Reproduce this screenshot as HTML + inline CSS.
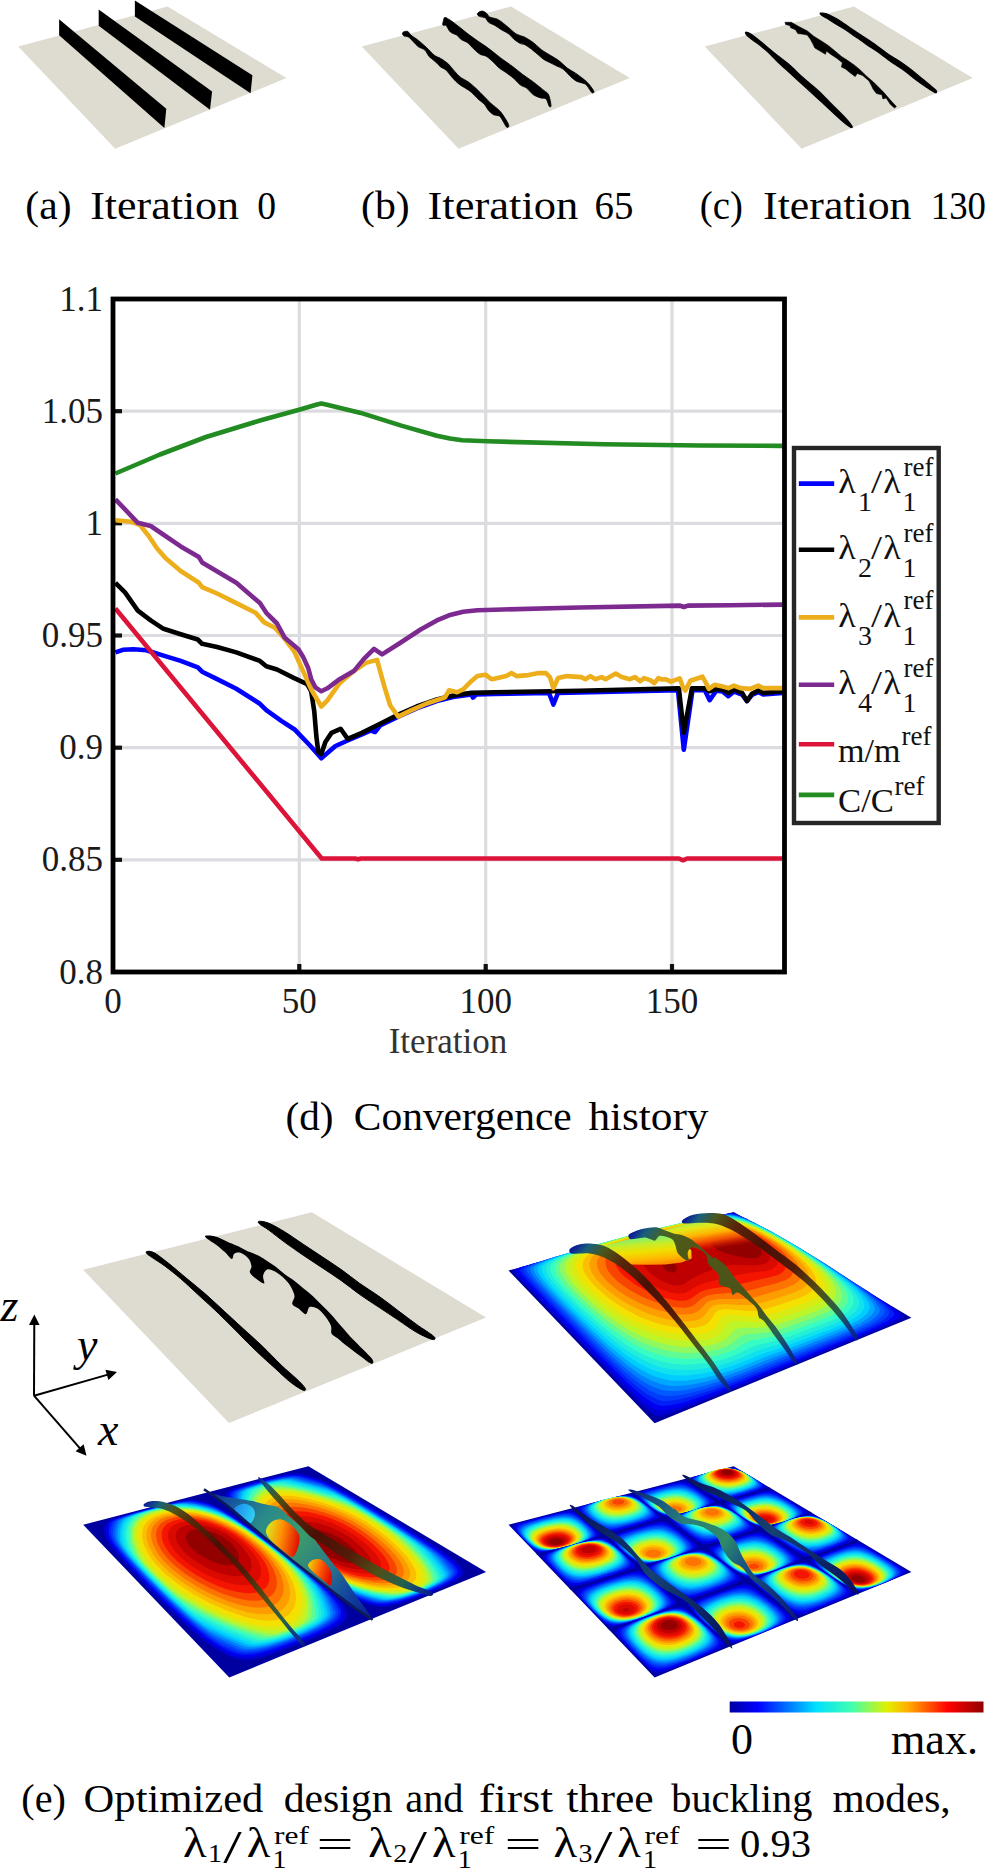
<!DOCTYPE html>
<html><head><meta charset="utf-8"><title>Figure</title>
<style>
html,body{margin:0;padding:0;background:#fff;}
svg{display:block}
.cm{font-family:"Liberation Serif","DejaVu Serif",serif;fill:#000}
.tm{font-family:"Liberation Serif","DejaVu Serif",serif}
.it{font-family:"Liberation Serif","DejaVu Serif",serif;font-style:italic}
</style></head><body>
<svg width="987" height="1868" viewBox="0 0 987 1868">
<defs>
<clipPath id="axclip"><rect x="113" y="299" width="671.5" height="673"/></clipPath>
<linearGradient id="jetg" x1="0" x2="1" y1="0" y2="0"><stop offset="0.000" stop-color="#0000a0"/><stop offset="0.110" stop-color="#0000ff"/><stop offset="0.340" stop-color="#00e0ff"/><stop offset="0.480" stop-color="#40ffb0"/><stop offset="0.620" stop-color="#e0f000"/><stop offset="0.700" stop-color="#ffb000"/><stop offset="0.860" stop-color="#ff0000"/><stop offset="1.000" stop-color="#900000"/></linearGradient><linearGradient id="r13" gradientUnits="userSpaceOnUse" x1="683.3" y1="1221.7" x2="856.5" y2="1338.3"><stop offset="0.00" stop-color="#0c1c96"/><stop offset="0.05" stop-color="#18607a"/><stop offset="0.12" stop-color="#4c561a"/><stop offset="0.22" stop-color="#58260a"/><stop offset="0.38" stop-color="#4a1005"/><stop offset="0.56" stop-color="#521a08"/><stop offset="0.72" stop-color="#504e16"/><stop offset="0.86" stop-color="#24604e"/><stop offset="0.95" stop-color="#0e3488"/><stop offset="1.00" stop-color="#0a1a8a"/></linearGradient>
<linearGradient id="r12" gradientUnits="userSpaceOnUse" x1="629.4" y1="1236.7" x2="795.9" y2="1362.9"><stop offset="0.00" stop-color="#0c1c96"/><stop offset="0.05" stop-color="#18607a"/><stop offset="0.12" stop-color="#466226"/><stop offset="0.22" stop-color="#4e5818"/><stop offset="0.70" stop-color="#4a5218"/><stop offset="0.84" stop-color="#266452"/><stop offset="0.94" stop-color="#0e3488"/><stop offset="1.00" stop-color="#0a1a8a"/></linearGradient>
<linearGradient id="r11" gradientUnits="userSpaceOnUse" x1="570.5" y1="1251.2" x2="729.8" y2="1389.9"><stop offset="0.00" stop-color="#0c1c96"/><stop offset="0.05" stop-color="#18607a"/><stop offset="0.12" stop-color="#4c561a"/><stop offset="0.22" stop-color="#58260a"/><stop offset="0.38" stop-color="#4a1005"/><stop offset="0.56" stop-color="#521a08"/><stop offset="0.72" stop-color="#504e16"/><stop offset="0.86" stop-color="#24604e"/><stop offset="0.95" stop-color="#0e3488"/><stop offset="1.00" stop-color="#0a1a8a"/></linearGradient>
<linearGradient id="r22f" gradientUnits="userSpaceOnUse" x1="204.0" y1="1489.2" x2="372.6" y2="1619.6"><stop offset="0.00" stop-color="#0a1a8a"/><stop offset="0.12" stop-color="#1450a0"/><stop offset="0.30" stop-color="#2a8a8a"/><stop offset="0.50" stop-color="#3a9a6a"/><stop offset="0.68" stop-color="#2a7a8a"/><stop offset="0.85" stop-color="#1040a0"/><stop offset="1.00" stop-color="#0a1a8a"/></linearGradient>
<linearGradient id="h21" gradientUnits="userSpaceOnUse" x1="234.2" y1="1509.0" x2="254.8" y2="1515.6"><stop offset="0.00" stop-color="#1a8af0"/><stop offset="1.00" stop-color="#30d0f0"/></linearGradient>
<linearGradient id="h22" gradientUnits="userSpaceOnUse" x1="265.9" y1="1531.4" x2="299.6" y2="1538.0"><stop offset="0.00" stop-color="#d8e820"/><stop offset="0.45" stop-color="#ff9000"/><stop offset="1.00" stop-color="#e01000"/></linearGradient>
<linearGradient id="h23" gradientUnits="userSpaceOnUse" x1="308.0" y1="1565.6" x2="331.2" y2="1572.2"><stop offset="0.00" stop-color="#f0d000"/><stop offset="0.50" stop-color="#ff6000"/><stop offset="1.00" stop-color="#e01000"/></linearGradient>
<linearGradient id="r23" gradientUnits="userSpaceOnUse" x1="259.3" y1="1478.7" x2="431.2" y2="1594.0"><stop offset="0.00" stop-color="#0c1c96"/><stop offset="0.05" stop-color="#18607a"/><stop offset="0.12" stop-color="#4c561a"/><stop offset="0.22" stop-color="#58260a"/><stop offset="0.38" stop-color="#4a1005"/><stop offset="0.56" stop-color="#521a08"/><stop offset="0.72" stop-color="#504e16"/><stop offset="0.86" stop-color="#24604e"/><stop offset="0.95" stop-color="#0e3488"/><stop offset="1.00" stop-color="#0a1a8a"/></linearGradient>
<linearGradient id="r21" gradientUnits="userSpaceOnUse" x1="144.3" y1="1505.1" x2="303.7" y2="1644.7"><stop offset="0.00" stop-color="#0c1c96"/><stop offset="0.05" stop-color="#18607a"/><stop offset="0.12" stop-color="#4c561a"/><stop offset="0.22" stop-color="#58260a"/><stop offset="0.38" stop-color="#4a1005"/><stop offset="0.56" stop-color="#521a08"/><stop offset="0.72" stop-color="#504e16"/><stop offset="0.86" stop-color="#24604e"/><stop offset="0.95" stop-color="#0e3488"/><stop offset="1.00" stop-color="#0a1a8a"/></linearGradient>
<linearGradient id="r33" gradientUnits="userSpaceOnUse" x1="684.2" y1="1476.1" x2="857.6" y2="1593.3"><stop offset="0.00" stop-color="#08125e"/><stop offset="0.30" stop-color="#0e2c68"/><stop offset="0.50" stop-color="#144272"/><stop offset="0.70" stop-color="#0e2c68"/><stop offset="1.00" stop-color="#08125e"/></linearGradient>
<linearGradient id="r32" gradientUnits="userSpaceOnUse" x1="630.4" y1="1490.6" x2="797.0" y2="1619.6"><stop offset="0.00" stop-color="#0a1a7a"/><stop offset="0.15" stop-color="#1a5a80"/><stop offset="0.30" stop-color="#2a8078"/><stop offset="0.50" stop-color="#2e8a6a"/><stop offset="0.62" stop-color="#1a5a80"/><stop offset="0.80" stop-color="#123a7a"/><stop offset="1.00" stop-color="#0a1a7a"/></linearGradient>
<linearGradient id="r31" gradientUnits="userSpaceOnUse" x1="571.7" y1="1506.4" x2="730.5" y2="1646.0"><stop offset="0.00" stop-color="#08125e"/><stop offset="0.30" stop-color="#0e2c68"/><stop offset="0.50" stop-color="#144272"/><stop offset="0.70" stop-color="#0e2c68"/><stop offset="1.00" stop-color="#08125e"/></linearGradient><linearGradient id="fb3" gradientUnits="userSpaceOnUse" x1="701.8" y1="1220.3" x2="706.9" y2="1251.1"><stop offset="0" stop-color="#a0f050"/><stop offset="0.2" stop-color="#e4e818"/><stop offset="0.45" stop-color="#ffb400"/><stop offset="0.7" stop-color="#ff5a00" stop-opacity="0.85"/><stop offset="1" stop-color="#e81000" stop-opacity="0"/></linearGradient>
<linearGradient id="fb2" gradientUnits="userSpaceOnUse" x1="641.1" y1="1230.4" x2="644.1" y2="1264.8"><stop offset="0" stop-color="#30e8c8"/><stop offset="0.22" stop-color="#80f070"/><stop offset="0.42" stop-color="#c8ec28"/><stop offset="0.62" stop-color="#f0e000"/><stop offset="0.85" stop-color="#ffb800"/><stop offset="1" stop-color="#ff9000"/></linearGradient>
</defs>
<rect width="987" height="1868" fill="#fff"/>
<polygon points="18.3,46.5 167.6,6.5 286.4,78.0 115.2,148.7" fill="#dedbd1" />
<polygon points="361.7,46.5 511.0,6.5 629.8,78.0 458.6,148.7" fill="#dedbd1" />
<polygon points="704.7,46.5 854.0,6.5 972.8,78.0 801.6,148.7" fill="#dedbd1" />
<polygon points="59.1,19.3 166.3,108.8 164.4,128.0 59.1,35.3" fill="#000" />
<polygon points="98.7,9.5 212.1,91.5 210.0,109.8 98.7,25.8" fill="#000" />
<polygon points="134.9,0.5 252.4,75.3 250.6,93.2 134.9,16.4" fill="#000" />
<path d="M403.5,31.9C404.4,31.5 406.5,31.0 407.8,31.5C409.0,32.0 409.2,33.6 411.0,35.1C412.7,36.6 415.7,38.3 418.4,40.4C421.1,42.6 424.3,45.4 426.9,47.9C429.6,50.4 432.1,53.5 434.4,55.3C436.7,57.1 438.4,57.1 440.7,58.5C443.0,59.9 445.9,61.7 448.2,63.8C450.5,66.0 452.4,69.0 454.6,71.3C456.7,73.6 458.7,75.9 461.0,77.7C463.3,79.4 465.9,80.1 468.4,81.9C470.9,83.7 473.2,85.8 475.9,88.3C478.5,90.8 481.9,94.3 484.4,96.8C486.8,99.3 488.6,101.2 490.7,103.2C492.9,105.1 495.4,106.9 497.1,108.5C498.9,110.1 500.0,111.0 501.4,112.8C502.8,114.5 504.4,117.0 505.6,119.1C506.9,121.3 508.7,124.2 508.8,125.5C509.0,126.9 507.8,128.1 506.7,127.2C505.6,126.3 503.7,122.1 502.4,120.2C501.2,118.3 500.7,116.8 499.3,116.0C497.8,115.1 495.7,115.8 493.9,114.9C492.2,114.0 490.2,112.4 488.6,110.6C487.0,108.9 486.1,106.2 484.4,104.3C482.6,102.3 480.1,100.9 478.0,98.9C475.9,97.0 473.4,94.1 471.6,92.6C469.8,91.0 469.5,90.8 467.3,89.4C465.2,87.9 461.3,86.0 458.8,84.0C456.3,82.1 454.6,80.0 452.4,77.7C450.3,75.4 448.0,72.0 446.1,70.2C444.1,68.4 442.5,68.4 440.7,67.0C439.0,65.6 437.4,63.5 435.4,61.7C433.5,59.9 430.8,58.3 429.0,56.4C427.3,54.4 426.6,51.6 424.8,50.0C423.0,48.4 420.4,48.2 418.4,46.8C416.5,45.4 414.7,43.1 413.1,41.5C411.5,39.9 410.2,38.1 408.8,37.2C407.4,36.3 405.6,36.7 404.6,36.2C403.5,35.6 402.6,34.8 402.4,34.0C402.3,33.3 402.6,32.3 403.5,31.9Z" fill="#000" stroke="#000" stroke-width="0.8"/>
<path d="M445.0,17.4C446.1,17.4 448.0,18.7 450.3,20.2C452.6,21.7 455.6,24.1 458.8,26.6C462.0,29.1 465.9,32.4 469.5,35.1C473.0,37.8 476.6,40.1 480.1,42.6C483.7,45.0 487.2,47.3 490.7,50.0C494.3,52.7 497.8,55.9 501.4,58.5C504.9,61.2 508.5,63.3 512.0,66.0C515.6,68.6 519.1,71.8 522.7,74.5C526.2,77.1 529.8,79.3 533.3,81.9C536.8,84.6 541.4,88.3 543.9,90.4C546.5,92.6 547.4,92.2 548.6,94.7C549.8,97.2 550.9,103.4 551.0,105.3C551.1,107.3 550.1,107.4 549.3,106.4C548.4,105.3 547.5,100.4 546.1,98.9C544.6,97.5 542.9,98.6 540.7,97.9C538.6,97.2 535.6,96.3 533.3,94.7C531.0,93.1 529.0,89.9 526.9,88.3C524.8,86.7 522.7,86.7 520.5,85.1C518.4,83.5 516.6,80.9 514.1,78.7C511.7,76.6 508.1,74.1 505.6,72.3C503.2,70.6 501.4,69.9 499.3,68.1C497.1,66.3 495.0,63.7 492.9,61.7C490.7,59.8 488.6,57.6 486.5,56.4C484.4,55.1 482.2,55.5 480.1,54.3C478.0,53.0 475.9,50.9 473.7,48.9C471.6,47.0 469.5,44.1 467.3,42.6C465.2,41.0 462.7,40.6 461.0,39.4C459.2,38.1 458.5,36.3 456.7,35.1C454.9,33.9 452.1,33.5 450.3,31.9C448.5,30.3 447.3,26.7 446.1,25.5C444.8,24.4 443.3,26.0 442.9,25.1C442.4,24.2 443.2,21.5 443.5,20.2C443.9,18.9 443.9,17.4 445.0,17.4Z" fill="#000" stroke="#000" stroke-width="0.8"/>
<path d="M478.0,12.8C478.8,12.1 480.8,11.0 482.2,11.1C483.7,11.1 485.2,12.2 486.5,13.2C487.7,14.2 487.9,16.0 489.7,17.0C491.5,18.0 494.8,18.1 497.1,19.1C499.4,20.2 501.4,21.8 503.5,23.4C505.6,25.0 507.8,27.0 509.9,28.7C512.0,30.5 513.8,32.6 516.3,34.0C518.8,35.5 522.0,35.8 524.8,37.2C527.6,38.7 530.5,40.4 533.3,42.6C536.1,44.7 539.0,47.9 541.8,50.0C544.6,52.1 547.5,53.5 550.3,55.3C553.2,57.1 556.0,58.5 558.8,60.6C561.7,62.8 564.5,66.0 567.3,68.1C570.2,70.2 573.0,71.5 575.9,73.4C578.7,75.4 582.1,77.8 584.4,79.8C586.7,81.7 588.1,83.2 589.7,85.1C591.3,87.1 593.6,90.2 593.9,91.5C594.3,92.7 593.0,93.6 591.8,92.6C590.6,91.5 588.1,86.7 586.5,85.1C584.9,83.5 584.0,83.7 582.2,83.0C580.5,82.3 578.0,82.1 575.9,80.9C573.7,79.6 571.6,77.5 569.5,75.5C567.3,73.6 565.2,70.7 563.1,69.1C561.0,67.6 558.8,67.0 556.7,66.0C554.6,64.9 552.4,63.8 550.3,62.8C548.2,61.7 546.1,61.0 543.9,59.6C541.8,58.2 539.7,56.0 537.6,54.3C535.4,52.5 533.3,50.5 531.2,48.9C529.0,47.3 526.6,45.6 524.8,44.7C523.0,43.8 522.3,44.5 520.5,43.6C518.8,42.7 516.1,41.0 514.1,39.4C512.2,37.8 511.0,35.6 508.8,34.0C506.7,32.4 503.7,31.2 501.4,29.8C499.1,28.4 497.1,26.8 495.0,25.5C492.9,24.3 490.2,23.6 488.6,22.3C487.0,21.1 486.8,19.0 485.4,18.1C484.0,17.1 481.4,17.1 480.1,16.6C478.8,16.1 477.9,15.5 477.6,14.9C477.2,14.3 477.2,13.4 478.0,12.8Z" fill="#000" stroke="#000" stroke-width="0.8"/>
<path d="M745.6,32.3C746.0,31.9 747.4,32.1 749.9,33.6C752.4,35.1 756.6,38.4 760.5,41.5C764.4,44.6 768.7,48.4 773.3,52.1C777.9,55.9 783.2,59.6 788.2,63.8C793.2,68.1 798.1,73.2 803.1,77.7C808.0,82.1 813.4,86.2 818.0,90.4C822.6,94.7 826.5,98.9 830.7,103.2C835.0,107.4 840.0,112.2 843.5,116.0C847.0,119.7 850.4,123.7 851.6,125.5C852.8,127.4 852.2,128.1 850.5,127.2C848.8,126.3 845.0,123.3 841.4,120.2C837.7,117.1 832.9,112.4 828.6,108.5C824.4,104.6 820.1,100.7 815.9,96.8C811.6,92.9 807.3,89.0 803.1,85.1C798.8,81.2 794.6,77.3 790.3,73.4C786.1,69.5 781.5,65.4 777.6,61.7C773.7,58.0 770.5,54.3 766.9,51.1C763.4,47.9 759.5,45.0 756.3,42.6C753.1,40.1 749.5,37.9 747.8,36.2C746.0,34.5 745.3,32.8 745.6,32.3Z" fill="#000" stroke="#000" stroke-width="1.2"/>
<path d="M820.5,13.2C821.4,13.0 823.7,12.8 826.5,13.8C829.3,14.8 833.2,16.8 837.1,19.1C841.0,21.5 845.6,24.8 849.9,27.7C854.1,30.5 858.4,33.3 862.7,36.2C866.9,39.0 871.2,41.7 875.4,44.7C879.7,47.7 883.6,51.1 888.2,54.3C892.8,57.4 898.5,60.6 903.1,63.8C907.7,67.0 911.6,70.0 915.9,73.4C920.1,76.8 925.2,81.2 928.6,84.0C932.0,86.9 935.0,89.0 936.1,90.4C937.1,91.8 936.6,93.1 935.0,92.6C933.4,92.0 929.7,89.4 926.5,87.2C923.3,85.1 919.4,82.4 915.9,79.8C912.3,77.1 909.1,74.1 905.2,71.3C901.3,68.4 896.7,65.8 892.4,62.8C888.2,59.8 883.9,56.2 879.7,53.2C875.4,50.2 870.8,47.3 866.9,44.7C863.0,42.0 859.8,39.7 856.3,37.2C852.7,34.8 849.2,32.1 845.6,29.8C842.1,27.5 838.2,25.4 835.0,23.4C831.8,21.5 828.8,19.5 826.5,18.1C824.2,16.7 822.2,15.7 821.2,14.9C820.2,14.1 819.6,13.4 820.5,13.2Z" fill="#000" stroke="#000" stroke-width="1.2"/>
<polygon points="785.0,22.3 791.4,22.3 798.8,26.6 807.3,30.9 813.7,36.2 822.2,41.5 828.6,45.7 835.0,51.1 841.4,56.4 847.8,60.6 854.1,64.9 860.5,70.2 866.9,76.6 873.3,81.9 879.7,88.3 883.9,92.6 890.3,100.0 896.3,106.4 894.6,108.1 890.3,104.3 886.1,97.9 882.9,98.9 881.8,94.7 876.5,93.6 873.3,89.4 871.2,85.1 869.0,80.9 862.7,75.5 857.3,73.4 855.2,76.6 851.0,73.4 845.6,69.1 841.4,67.0 842.4,62.8 837.1,58.5 830.7,54.3 826.5,51.1 825.4,54.3 820.1,51.1 814.8,47.9 812.7,43.6 810.5,39.4 807.3,35.1 802.0,34.0 797.8,33.6 795.6,29.8 790.7,27.7 789.9,25.5 785.6,24.5" fill="#000" stroke="#000" stroke-width="0.6" stroke-linejoin="round"/>
<g class="cm" font-size="40"><text x="25.3" y="219.3" textLength="46.2" lengthAdjust="spacingAndGlyphs">(a)</text><text x="90.2" y="219.3" textLength="148.9" lengthAdjust="spacingAndGlyphs">Iteration</text><text x="257.3" y="219.3" textLength="18.8" lengthAdjust="spacingAndGlyphs">0</text></g>
<g class="cm" font-size="40"><text x="361.1" y="219.3" textLength="48.6" lengthAdjust="spacingAndGlyphs">(b)</text><text x="427.5" y="219.3" textLength="150.8" lengthAdjust="spacingAndGlyphs">Iteration</text><text x="594.5" y="219.3" textLength="38.9" lengthAdjust="spacingAndGlyphs">65</text></g>
<g class="cm" font-size="40"><text x="699.8" y="219.3" textLength="43.0" lengthAdjust="spacingAndGlyphs">(c)</text><text x="763.1" y="219.3" textLength="148.4" lengthAdjust="spacingAndGlyphs">Iteration</text><text x="930.8" y="219.3" textLength="55.2" lengthAdjust="spacingAndGlyphs">130</text></g>
<rect x="113.0" y="299.0" width="671.5" height="673.0" fill="#fff"/>
<line x1="113.0" x2="784.5" y1="859.8" y2="859.8" stroke="#dcdce0" stroke-width="3.2"/>
<line x1="113.0" x2="784.5" y1="747.7" y2="747.7" stroke="#dcdce0" stroke-width="3.2"/>
<line x1="113.0" x2="784.5" y1="635.5" y2="635.5" stroke="#dcdce0" stroke-width="3.2"/>
<line x1="113.0" x2="784.5" y1="523.3" y2="523.3" stroke="#dcdce0" stroke-width="3.2"/>
<line x1="113.0" x2="784.5" y1="411.2" y2="411.2" stroke="#dcdce0" stroke-width="3.2"/>
<line x1="299.3" x2="299.3" y1="299.0" y2="972.0" stroke="#dcdce0" stroke-width="3.2"/>
<line x1="485.7" x2="485.7" y1="299.0" y2="972.0" stroke="#dcdce0" stroke-width="3.2"/>
<line x1="672.0" x2="672.0" y1="299.0" y2="972.0" stroke="#dcdce0" stroke-width="3.2"/>
<line x1="113.0" x2="122.0" y1="859.8" y2="859.8" stroke="#111" stroke-width="4.2"/>
<line x1="113.0" x2="122.0" y1="747.7" y2="747.7" stroke="#111" stroke-width="4.2"/>
<line x1="113.0" x2="122.0" y1="635.5" y2="635.5" stroke="#111" stroke-width="4.2"/>
<line x1="113.0" x2="122.0" y1="523.3" y2="523.3" stroke="#111" stroke-width="4.2"/>
<line x1="113.0" x2="122.0" y1="411.2" y2="411.2" stroke="#111" stroke-width="4.2"/>
<line x1="299.3" x2="299.3" y1="972.0" y2="964.0" stroke="#111" stroke-width="4.2"/>
<line x1="485.7" x2="485.7" y1="972.0" y2="964.0" stroke="#111" stroke-width="4.2"/>
<line x1="672.0" x2="672.0" y1="972.0" y2="964.0" stroke="#111" stroke-width="4.2"/>
<g clip-path="url(#axclip)">
<polyline points="115.4,652.4 122.8,649.8 133.6,649.2 146.4,650.2 163.5,655.6 180.7,660.9 197.8,667.4 202.1,671.7 217.1,679.1 236.3,688.8 259.9,703.8 266.3,710.2 281.3,720.9 295.0,729.8 310.0,745.5 321.3,758.2 335.5,746.0 347.7,740.5 361.9,734.4 371.0,730.5 375.0,732.0 380.1,725.5 398.3,716.6 416.6,708.3 436.8,701.0 453.1,697.0 471.3,694.5 473.0,697.5 476.0,694.5 495.0,694.0 549.0,693.0 553.4,704.5 558.0,693.0 580.0,692.5 678.0,690.2 683.8,749.7 692.5,690.2 704.8,690.2 709.7,700.2 716.2,690.7 722.7,691.5 728.3,696.2 734.0,691.5 742.1,694.5 747.0,701.0 751.9,695.0 758.3,692.2 763.2,694.5 782.6,693.0" fill="none" stroke="#0000fe" stroke-width="4.6" stroke-linejoin="round" stroke-linecap="butt"/>
<polyline points="115.4,582.8 125.0,592.4 137.8,610.6 150.7,620.3 163.5,628.8 180.7,634.2 197.8,639.5 202.1,643.8 217.1,647.0 236.3,652.4 259.9,660.9 266.3,666.3 277.0,669.5 294.2,678.1 307.2,684.2 311.2,691.3 314.3,711.6 316.3,735.9 318.3,752.1 321.3,754.1 325.4,742.0 331.5,732.9 340.6,728.8 347.7,738.9 361.9,732.9 380.1,723.7 398.3,714.6 416.6,706.5 436.8,699.4 453.1,695.4 471.3,692.9 495.0,692.3 580.0,690.8 678.9,688.4 683.8,732.7 691.9,688.4 704.8,688.4 709.7,691.3 716.2,688.9 722.7,689.7 728.3,692.9 734.0,689.7 742.1,692.9 747.0,701.0 751.9,693.7 758.3,690.5 763.2,692.9 782.6,691.3" fill="none" stroke="#000" stroke-width="4.6" stroke-linejoin="round" stroke-linecap="butt"/>
<polyline points="115.4,520.3 131.4,521.8 140.0,525.0 148.5,535.7 157.1,548.5 165.7,558.2 180.7,571.0 198.9,582.8 202.1,587.1 217.1,593.5 236.3,603.1 255.6,612.8 264.2,622.4 274.9,627.8 284.5,638.5 294.2,651.3 303.1,671.1 311.2,689.3 321.3,706.5 327.4,700.4 339.6,683.2 353.8,671.1 365.9,662.9 377.1,659.9 380.1,671.1 385.2,689.3 390.2,705.5 398.3,716.6 410.5,710.6 426.7,703.5 445.0,697.4 449.0,690.3 457.1,692.3 463.2,689.3 471.3,681.2 477.4,676.1 485.5,674.7 490.5,678.5 492.2,679.2 506.3,676.1 511.4,673.1 516.5,676.1 528.6,675.1 538.8,673.1 545.9,673.1 549.9,677.1 553.4,688.3 558.0,678.1 567.1,676.1 581.3,677.1 585.4,679.2 590.4,676.1 595.5,679.2 601.6,677.1 605.6,679.2 615.8,673.5 621.8,677.1 629.9,679.2 635.0,677.1 640.1,681.2 644.1,678.1 650.2,680.2 654.3,683.2 658.3,678.1 662.0,679.5 665.9,679.2 670.8,681.6 679.7,678.3 683.0,687.3 685.4,690.5 690.3,680.8 702.4,676.7 704.8,680.8 708.9,688.9 714.6,684.8 722.7,686.5 728.3,688.1 734.0,685.6 740.5,688.1 750.2,688.9 758.3,685.6 763.2,688.1 782.6,688.1" fill="none" stroke="#edae1c" stroke-width="4.6" stroke-linejoin="round" stroke-linecap="butt"/>
<polyline points="115.4,499.3 137.8,522.8 150.7,526.0 180.7,546.4 198.9,557.1 202.1,562.4 236.3,582.8 259.9,603.1 266.3,612.8 277.0,623.5 284.5,637.4 298.4,649.2 303.1,656.9 308.2,668.0 311.2,679.2 315.3,687.3 321.3,691.3 327.4,688.3 339.6,679.2 353.8,671.1 363.9,658.9 374.0,648.8 382.1,654.4 400.4,642.7 420.6,629.5 436.8,620.4 449.0,615.3 463.2,611.7 477.4,610.3 495.0,609.7 580.0,607.5 680.0,605.6 683.8,607.0 688.0,605.6 730.0,605.2 782.6,604.6" fill="none" stroke="#7d2a90" stroke-width="4.6" stroke-linejoin="round" stroke-linecap="butt"/>
<polyline points="115.4,608.5 321.7,858.5 355.0,858.5 358.0,859.3 361.0,858.5 679.0,858.5 683.0,860.3 687.0,858.5 782.6,858.5" fill="none" stroke="#dc1439" stroke-width="4.6" stroke-linejoin="round" stroke-linecap="butt"/>
<polyline points="115.4,473.5 160.0,454.5 206.0,437.0 260.0,420.5 300.0,409.5 317.0,404.5 321.3,403.6 326.0,404.5 360.8,412.9 401.3,425.6 436.8,435.7 450.0,438.5 462.1,440.3 487.4,441.3 604.0,444.3 700.0,445.5 782.6,445.9" fill="none" stroke="#228b22" stroke-width="4.6" stroke-linejoin="round" stroke-linecap="butt"/>
</g>
<rect x="113.0" y="299.0" width="671.5" height="673.0" fill="none" stroke="#000" stroke-width="4.8"/>
<g class="tm" font-size="35" fill="#1a1a1a">
<text x="103" y="983.5" text-anchor="end">0.8</text>
<text x="103" y="871.3" text-anchor="end">0.85</text>
<text x="103" y="759.2" text-anchor="end">0.9</text>
<text x="103" y="647.0" text-anchor="end">0.95</text>
<text x="103" y="534.8" text-anchor="end">1</text>
<text x="103" y="422.7" text-anchor="end">1.05</text>
<text x="103" y="310.5" text-anchor="end">1.1</text>
<text x="113.0" y="1013" text-anchor="middle">0</text>
<text x="299.3" y="1013" text-anchor="middle">50</text>
<text x="485.7" y="1013" text-anchor="middle">100</text>
<text x="672.0" y="1013" text-anchor="middle">150</text>
<text x="448" y="1052.5" text-anchor="middle" fill="#333">Iteration</text>
</g>
<rect x="794" y="448" width="144.7" height="375" fill="#fff" stroke="#262626" stroke-width="4.4"/>
<line x1="798.8" x2="834.2" y1="483.6" y2="483.6" stroke="#0000fe" stroke-width="4.6"/>
<line x1="798.8" x2="834.2" y1="549.7" y2="549.7" stroke="#000" stroke-width="4.6"/>
<line x1="798.8" x2="834.2" y1="617.4" y2="617.4" stroke="#edae1c" stroke-width="4.6"/>
<line x1="798.8" x2="834.2" y1="684.7" y2="684.7" stroke="#7d2a90" stroke-width="4.6"/>
<line x1="798.8" x2="834.2" y1="744.3" y2="744.3" stroke="#dc1439" stroke-width="4.6"/>
<line x1="798.8" x2="834.2" y1="794.9" y2="794.9" stroke="#228b22" stroke-width="4.6"/>
<g class="tm" font-size="33" fill="#111">
<text x="838.3" y="493.1" textLength="17.5" lengthAdjust="spacingAndGlyphs">λ</text>
<text x="858" y="511.1" font-size="26.5" textLength="14" lengthAdjust="spacingAndGlyphs">1</text>
<text x="871" y="493.1" textLength="11" lengthAdjust="spacingAndGlyphs">/</text>
<text x="883.3" y="493.1" textLength="17.5" lengthAdjust="spacingAndGlyphs">λ</text>
<text x="902.5" y="511.1" font-size="26.5" textLength="14" lengthAdjust="spacingAndGlyphs">1</text>
<text x="903.5" y="475.6" font-size="26.5" textLength="30" lengthAdjust="spacingAndGlyphs">ref</text>
<text x="838.3" y="559.2" textLength="17.5" lengthAdjust="spacingAndGlyphs">λ</text>
<text x="858" y="577.2" font-size="26.5" textLength="14" lengthAdjust="spacingAndGlyphs">2</text>
<text x="871" y="559.2" textLength="11" lengthAdjust="spacingAndGlyphs">/</text>
<text x="883.3" y="559.2" textLength="17.5" lengthAdjust="spacingAndGlyphs">λ</text>
<text x="902.5" y="577.2" font-size="26.5" textLength="14" lengthAdjust="spacingAndGlyphs">1</text>
<text x="903.5" y="541.7" font-size="26.5" textLength="30" lengthAdjust="spacingAndGlyphs">ref</text>
<text x="838.3" y="626.9" textLength="17.5" lengthAdjust="spacingAndGlyphs">λ</text>
<text x="858" y="644.9" font-size="26.5" textLength="14" lengthAdjust="spacingAndGlyphs">3</text>
<text x="871" y="626.9" textLength="11" lengthAdjust="spacingAndGlyphs">/</text>
<text x="883.3" y="626.9" textLength="17.5" lengthAdjust="spacingAndGlyphs">λ</text>
<text x="902.5" y="644.9" font-size="26.5" textLength="14" lengthAdjust="spacingAndGlyphs">1</text>
<text x="903.5" y="609.4" font-size="26.5" textLength="30" lengthAdjust="spacingAndGlyphs">ref</text>
<text x="838.3" y="694.2" textLength="17.5" lengthAdjust="spacingAndGlyphs">λ</text>
<text x="858" y="712.2" font-size="26.5" textLength="14" lengthAdjust="spacingAndGlyphs">4</text>
<text x="871" y="694.2" textLength="11" lengthAdjust="spacingAndGlyphs">/</text>
<text x="883.3" y="694.2" textLength="17.5" lengthAdjust="spacingAndGlyphs">λ</text>
<text x="902.5" y="712.2" font-size="26.5" textLength="14" lengthAdjust="spacingAndGlyphs">1</text>
<text x="903.5" y="676.7" font-size="26.5" textLength="30" lengthAdjust="spacingAndGlyphs">ref</text>
<text x="838" y="761.8" textLength="62.5" lengthAdjust="spacingAndGlyphs">m/m</text>
<text x="901.5" y="744.8" font-size="26.5" textLength="30" lengthAdjust="spacingAndGlyphs">ref</text>
<text x="838" y="812.4" textLength="56" lengthAdjust="spacingAndGlyphs">C/C</text>
<text x="894.5" y="795.4" font-size="26.5" textLength="30" lengthAdjust="spacingAndGlyphs">ref</text>
</g>
<g class="cm" font-size="40"><text x="285.5" y="1129.5" textLength="48.1" lengthAdjust="spacingAndGlyphs">(d)</text><text x="353.8" y="1129.5" textLength="217.9" lengthAdjust="spacingAndGlyphs">Convergence</text><text x="588.4" y="1129.5" textLength="120.1" lengthAdjust="spacingAndGlyphs">history</text></g>
<polygon points="83.1,1269.7 311.8,1212.2 486.1,1317.6 229.0,1423.1" fill="#dedbd1" />
<path d="M146.9,1251.5C148.1,1251.3 150.6,1250.8 154.1,1252.7C157.7,1254.7 162.8,1258.8 168.3,1263.1C173.8,1267.4 180.8,1273.6 187.1,1278.8C193.4,1284.0 199.7,1289.0 206.0,1294.5C212.2,1300.0 218.5,1306.0 224.8,1311.8C231.1,1317.5 237.4,1323.3 243.6,1329.1C249.9,1334.8 256.2,1340.3 262.5,1346.3C268.8,1352.4 275.6,1359.7 281.3,1365.2C287.1,1370.7 293.1,1375.5 297.0,1379.3C301.0,1383.1 303.8,1386.0 304.9,1387.8C305.9,1389.6 305.7,1391.2 303.3,1390.3C301.0,1389.4 295.5,1386.1 290.8,1382.4C286.0,1378.8 280.8,1373.6 275.1,1368.3C269.3,1363.1 262.5,1357.1 256.2,1351.0C249.9,1345.0 243.6,1338.5 237.4,1332.2C231.1,1325.9 224.8,1319.4 218.5,1313.4C212.2,1307.3 206.0,1301.8 199.7,1296.1C193.4,1290.3 186.6,1283.8 180.8,1278.8C175.1,1273.8 169.8,1269.8 165.1,1266.2C160.4,1262.7 155.6,1259.9 152.6,1257.8C149.5,1255.7 147.9,1254.7 146.9,1253.7C146.0,1252.6 145.7,1251.6 146.9,1251.5Z" fill="#000" stroke="#000" stroke-width="1"/>
<path d="M259.3,1221.3C260.9,1221.2 264.6,1221.5 268.8,1223.2C273.0,1224.9 278.7,1228.2 284.5,1231.7C290.2,1235.2 297.0,1240.1 303.3,1244.3C309.6,1248.4 315.9,1252.6 322.2,1256.8C328.4,1261.0 334.7,1264.9 341.0,1269.4C347.3,1273.8 353.6,1279.1 359.8,1283.5C366.1,1288.0 372.4,1291.6 378.7,1296.1C385.0,1300.5 391.3,1305.5 397.5,1310.2C403.8,1314.9 410.4,1320.0 416.4,1324.3C422.4,1328.7 431.0,1333.8 433.7,1336.3C436.3,1338.8 435.0,1340.1 432.1,1339.4C429.2,1338.7 422.1,1335.5 416.4,1332.2C410.6,1328.9 403.8,1323.8 397.5,1319.6C391.3,1315.4 385.0,1311.3 378.7,1307.1C372.4,1302.9 366.1,1299.0 359.8,1294.5C353.6,1290.1 347.3,1284.8 341.0,1280.4C334.7,1275.9 328.4,1272.0 322.2,1267.8C315.9,1263.6 309.6,1259.5 303.3,1255.3C297.0,1251.0 290.2,1246.2 284.5,1242.1C278.7,1237.9 273.0,1233.2 268.8,1230.1C264.6,1227.1 260.9,1225.3 259.3,1223.8C257.8,1222.4 257.8,1221.4 259.3,1221.3Z" fill="#000" stroke="#000" stroke-width="1"/>
<path d="M205.3,1235.8C206.6,1235.4 211.1,1235.2 215.4,1236.4C219.7,1237.7 226.9,1241.5 231.1,1243.3C235.3,1245.1 237.4,1245.9 240.5,1247.4C243.6,1248.9 247.0,1250.8 249.9,1252.1C252.8,1253.4 255.2,1253.9 257.8,1255.3C260.4,1256.6 262.7,1258.1 265.6,1260.0C268.5,1261.8 271.9,1263.9 275.1,1266.2C278.2,1268.6 281.3,1271.7 284.5,1274.1C287.6,1276.5 290.8,1278.0 293.9,1280.4C297.0,1282.7 300.2,1285.6 303.3,1288.2C306.5,1290.8 309.6,1293.2 312.7,1296.1C315.9,1299.0 319.0,1302.4 322.2,1305.5C325.3,1308.6 328.4,1311.5 331.6,1314.9C334.7,1318.3 337.3,1321.7 341.0,1325.9C344.7,1330.1 349.4,1335.6 353.6,1340.1C357.8,1344.5 362.9,1349.2 366.1,1352.6C369.4,1356.0 372.3,1358.6 373.0,1360.5C373.8,1362.3 373.0,1364.4 370.8,1363.6C368.6,1362.8 363.8,1358.6 359.8,1355.8C355.9,1352.9 351.0,1349.2 347.3,1346.3C343.6,1343.5 340.5,1340.6 337.9,1338.5C335.2,1336.4 332.7,1335.9 331.6,1333.8C330.4,1331.7 332.0,1328.8 331.0,1325.9C329.9,1323.0 327.6,1319.4 325.3,1316.5C323.1,1313.6 320.1,1310.2 317.4,1308.6C314.8,1307.1 311.5,1306.1 309.6,1307.1C307.7,1308.0 307.7,1314.0 305.8,1314.3C304.0,1314.6 300.9,1310.4 298.6,1308.6C296.4,1306.9 293.0,1306.0 292.3,1303.9C291.6,1301.8 294.8,1299.0 294.5,1296.1C294.3,1293.2 292.4,1289.5 290.8,1286.7C289.1,1283.8 287.1,1281.3 284.5,1278.8C281.9,1276.3 277.9,1273.2 275.1,1271.6C272.2,1270.0 269.2,1268.7 267.2,1269.4C265.2,1270.1 263.6,1273.3 263.1,1275.7C262.6,1278.0 265.2,1283.0 264.1,1283.5C262.9,1284.0 258.6,1280.6 256.2,1278.8C253.9,1277.0 250.7,1274.6 249.9,1272.5C249.1,1270.4 251.8,1268.6 251.5,1266.2C251.2,1263.9 250.2,1260.6 248.4,1258.4C246.5,1256.1 242.9,1253.5 240.5,1252.7C238.1,1252.0 235.7,1252.6 234.2,1253.7C232.8,1254.7 233.3,1259.3 231.7,1259.0C230.1,1258.8 227.5,1254.6 224.8,1252.1C222.1,1249.7 218.3,1246.5 215.4,1244.3C212.5,1242.1 209.2,1240.3 207.5,1238.9C205.9,1237.5 204.0,1236.2 205.3,1235.8Z" fill="#000"/>
<line x1="34.0" y1="1395.7" x2="34.3" y2="1323.9" stroke="#000" stroke-width="2.0"/><polygon points="34.3,1314.4 39.6,1324.9 29.0,1324.9" fill="#000"/>
<line x1="34.0" y1="1395.7" x2="107.9" y2="1374.6" stroke="#000" stroke-width="2.0"/><polygon points="117.0,1372.0 108.4,1380.0 105.4,1369.8" fill="#000"/>
<line x1="34.0" y1="1395.7" x2="80.2" y2="1448.6" stroke="#000" stroke-width="2.0"/><polygon points="86.5,1455.7 75.6,1451.3 83.6,1444.3" fill="#000"/>
<g class="it" font-size="46" fill="#000">
<text x="0.5" y="1320.5">z</text>
<text x="77" y="1359.5">y</text>
<text x="98" y="1445.3">x</text>
</g>
<polygon points="508.5,1270.5 733.7,1212.0 911.4,1317.8 654.6,1423.2" fill="#0000a0"/>
<path d="M513.0,1270.0 519.2,1267.8 535.2,1263.3 642.2,1235.3 719.9,1215.5 729.9,1213.2 733.7,1212.9 743.5,1217.7 770.0,1233.0 870.2,1293.0 898.5,1311.1 903.7,1315.2 903.8,1317.6 901.5,1319.1 894.2,1322.7 873.2,1331.8 729.3,1390.6 680.7,1409.7 668.5,1414.0 662.4,1415.8 659.7,1416.2 654.5,1415.3 651.0,1413.1 642.8,1406.0 633.1,1396.5 598.5,1361.1 525.2,1284.9 514.5,1273.2 512.8,1270.3Z" fill="#0000d0" fill-rule="evenodd"/>
<path d="M523.0,1266.6 582.2,1250.5 685.1,1223.9 725.4,1214.1 730.2,1213.2 734.4,1213.5 738.7,1215.1 748.3,1220.0 785.4,1241.3 842.5,1275.6 881.9,1300.4 891.8,1307.4 896.3,1311.4 898.8,1314.3 898.9,1316.2 898.5,1316.8 894.7,1319.8 885.2,1324.8 863.9,1334.0 713.8,1394.8 693.5,1402.5 678.9,1407.2 670.3,1409.5 664.6,1410.7 660.8,1411.0 656.6,1410.3 652.5,1408.2 646.0,1403.7 634.5,1393.7 601.8,1360.9 532.2,1289.0 521.1,1277.2 516.7,1271.6 516.3,1270.2 517.2,1269.1 520.0,1267.6Z" fill="#0000f0" fill-rule="evenodd"/>
<path d="M533.0,1263.5 600.3,1245.2 675.0,1226.0 720.9,1214.9 726.3,1214.0 732.7,1213.7 737.3,1214.9 745.8,1218.3 772.7,1233.2 825.7,1264.7 868.3,1291.6 885.2,1303.9 889.7,1307.8 893.4,1312.1 894.2,1313.6 894.3,1314.7 893.6,1315.9 892.0,1317.6 888.0,1320.5 876.0,1326.8 854.4,1336.2 727.1,1387.3 700.9,1396.8 683.3,1402.4 672.0,1405.0 666.0,1405.8 662.2,1406.0 658.4,1405.3 655.1,1404.0 646.9,1399.1 638.1,1392.3 627.8,1383.0 594.9,1350.4 526.5,1279.8 521.9,1274.3 520.1,1271.5 519.7,1270.2 521.2,1268.2 526.9,1265.6Z" fill="#001ef5" fill-rule="evenodd"/>
<path d="M552.2,1257.7 629.3,1237.1 696.0,1220.5 719.1,1215.3 727.5,1214.1 733.0,1214.2 736.9,1215.1 742.3,1217.1 754.3,1222.7 770.0,1231.0 790.4,1242.8 822.6,1262.1 838.7,1272.4 862.2,1288.1 877.1,1299.0 883.1,1304.1 887.1,1308.3 888.6,1310.6 889.6,1313.1 887.3,1316.8 885.5,1318.3 881.3,1321.2 874.2,1325.1 861.2,1331.1 841.6,1339.1 743.4,1378.4 714.5,1389.2 695.0,1395.5 680.8,1399.2 667.5,1401.0 663.5,1401.0 660.1,1400.4 656.6,1399.2 651.5,1396.7 644.6,1392.4 633.1,1383.4 623.0,1374.4 600.7,1352.8 562.9,1314.5 534.9,1285.6 525.1,1274.4 523.5,1271.5 523.1,1269.1 525.3,1267.3 528.7,1265.5 533.9,1263.5Z" fill="#003cfa" fill-rule="evenodd"/>
<path d="M589.1,1247.3 659.8,1228.9 692.8,1220.9 712.0,1216.7 723.0,1214.8 730.3,1214.4 733.8,1214.8 740.9,1216.9 753.3,1222.3 773.2,1232.7 798.0,1247.1 824.1,1263.2 846.9,1278.1 863.2,1289.5 876.7,1300.5 882.4,1306.7 883.9,1309.0 884.8,1311.9 883.2,1315.1 878.9,1319.1 874.5,1321.9 864.7,1326.9 837.2,1338.6 741.8,1376.3 723.9,1382.9 704.9,1389.2 688.5,1393.5 680.5,1395.1 675.0,1395.8 669.2,1396.1 664.7,1395.9 658.0,1394.3 649.1,1390.2 639.2,1383.6 628.1,1374.8 613.6,1361.7 586.3,1335.0 543.7,1291.6 532.8,1279.8 529.4,1275.6 526.9,1271.5 526.5,1270.1 526.6,1268.6 527.0,1268.0 529.4,1266.2 537.7,1262.5 555.9,1256.6Z" fill="#005aff" fill-rule="evenodd"/>
<path d="M553.6,1257.4 580.7,1249.4 615.9,1239.9 652.2,1230.5 684.0,1222.8 704.8,1218.2 718.2,1215.7 727.2,1214.8 730.9,1214.8 734.4,1215.4 743.8,1218.3 755.0,1223.2 770.3,1231.1 788.7,1241.6 812.1,1255.7 834.3,1270.0 850.3,1281.0 863.9,1291.3 870.4,1296.8 875.7,1302.3 879.1,1307.4 879.9,1310.1 878.9,1313.4 876.1,1316.6 872.1,1319.7 867.6,1322.4 857.7,1327.5 841.2,1334.4 770.4,1361.9 743.6,1372.7 725.7,1379.2 706.6,1385.2 690.1,1389.2 681.3,1390.6 676.4,1391.0 671.2,1391.1 664.0,1390.5 659.2,1389.2 654.2,1387.3 650.2,1385.4 643.1,1381.4 634.0,1375.0 621.8,1365.2 604.6,1349.4 580.4,1325.8 551.4,1296.4 536.1,1279.9 532.7,1275.5 530.5,1271.4 530.1,1268.5 531.1,1267.1 533.4,1265.4 538.8,1262.7Z" fill="#0080ff" fill-rule="evenodd"/>
<path d="M572.3,1251.7 604.9,1242.6 639.0,1233.6 671.5,1225.6 700.3,1219.1 713.7,1216.5 722.3,1215.4 729.0,1215.2 737.6,1216.7 748.8,1220.7 763.2,1227.5 781.6,1237.5 800.4,1248.6 822.0,1262.3 842.1,1275.9 855.5,1285.9 866.1,1295.1 871.6,1301.3 874.3,1305.9 874.9,1308.6 874.2,1311.7 871.2,1315.6 867.3,1318.7 861.1,1322.6 852.9,1326.6 833.6,1334.6 794.5,1349.8 768.3,1359.4 741.7,1370.2 719.9,1377.7 708.2,1381.0 696.8,1383.7 682.9,1385.7 672.3,1386.0 666.7,1385.5 660.7,1384.1 651.7,1380.7 640.9,1374.9 628.8,1366.5 613.8,1353.9 594.1,1335.7 564.4,1306.5 544.5,1285.8 536.3,1275.6 534.5,1272.6 533.7,1268.4 534.8,1266.5 537.5,1264.4 542.8,1261.7 548.5,1259.4Z" fill="#00a7ff" fill-rule="evenodd"/>
<path d="M611.2,1240.7 645.1,1231.8 677.4,1224.0 701.1,1218.9 717.6,1216.1 727.3,1215.6 735.6,1216.6 745.2,1219.6 757.9,1225.1 774.3,1233.6 793.0,1244.3 812.2,1256.2 831.9,1269.4 845.1,1279.0 856.2,1288.0 864.3,1296.2 868.3,1301.9 869.6,1305.3 869.8,1307.0 868.9,1310.5 866.2,1314.4 860.3,1319.1 853.2,1323.0 845.4,1326.6 813.9,1339.1 789.2,1348.5 766.0,1356.6 742.9,1366.1 732.4,1370.0 717.5,1374.6 701.3,1378.5 685.0,1380.7 675.9,1380.8 668.6,1380.2 657.9,1377.5 653.4,1375.9 645.6,1372.3 633.0,1364.7 621.6,1356.1 609.4,1345.9 592.2,1330.2 569.7,1308.4 550.8,1288.8 541.2,1277.5 539.1,1274.0 537.7,1270.9 537.7,1267.4 539.4,1265.2 544.2,1262.1 549.7,1259.6 558.2,1256.3 573.1,1251.6Z" fill="#00cdff" fill-rule="evenodd"/>
<path d="M573.8,1251.4 600.4,1243.6 631.9,1235.1 664.9,1226.9 691.3,1220.9 706.6,1217.9 719.1,1216.3 729.6,1216.2 736.1,1217.3 745.9,1220.3 758.7,1225.8 773.2,1233.2 791.9,1243.9 811.3,1256.0 828.3,1267.6 843.7,1279.2 853.7,1287.9 859.1,1293.8 862.2,1298.0 864.2,1302.8 864.4,1306.8 863.7,1309.1 862.4,1311.1 859.1,1314.7 855.1,1317.7 848.0,1321.7 831.9,1328.7 796.4,1342.3 783.6,1346.9 763.3,1353.5 737.0,1364.3 718.6,1370.2 702.4,1373.7 687.6,1375.4 673.8,1375.2 668.1,1374.5 661.7,1373.0 651.1,1369.4 640.1,1363.9 627.8,1356.0 614.7,1346.0 597.0,1330.8 575.3,1310.2 555.8,1290.4 550.3,1284.2 545.7,1278.3 542.9,1273.9 541.5,1269.5 541.9,1266.4 543.7,1264.4 547.8,1261.5 555.2,1258.0Z" fill="#0fe1ef" fill-rule="evenodd"/>
<path d="M601.1,1243.4 632.7,1234.8 662.9,1227.2 689.5,1221.3 708.5,1217.8 721.1,1216.5 730.6,1216.8 739.2,1218.6 748.6,1221.8 761.6,1227.5 778.2,1236.3 797.0,1247.4 814.0,1258.4 828.3,1268.4 841.5,1278.9 851.2,1288.1 856.0,1294.2 858.5,1299.1 859.2,1304.1 858.2,1307.5 855.5,1311.4 849.8,1316.1 845.0,1318.8 834.7,1323.6 820.7,1329.2 784.2,1342.7 760.1,1349.8 753.6,1352.3 740.9,1358.1 730.6,1362.1 720.9,1365.0 711.5,1367.2 702.5,1368.8 694.3,1369.8 679.7,1370.1 668.0,1368.7 662.2,1367.4 653.2,1364.5 641.6,1359.3 628.9,1351.7 618.0,1343.9 603.6,1332.3 583.2,1313.8 564.2,1295.1 551.8,1281.2 548.6,1276.6 546.6,1272.9 545.7,1269.0 546.3,1265.6 547.9,1263.7 550.2,1261.8 555.1,1258.9 563.3,1255.4 571.9,1252.3Z" fill="#23eed9" fill-rule="evenodd"/>
<path d="M584.5,1248.5 610.7,1240.7 641.9,1232.4 671.9,1225.2 695.8,1220.1 709.8,1217.9 722.4,1216.9 730.9,1217.4 739.5,1219.3 749.2,1222.5 762.2,1228.3 774.8,1234.8 791.5,1244.5 806.2,1253.8 821.0,1264.1 832.4,1272.9 843.2,1282.6 848.8,1289.0 851.8,1293.8 853.2,1297.6 853.7,1300.7 853.4,1303.4 851.3,1307.7 848.0,1311.2 841.7,1315.7 834.3,1319.4 817.7,1326.0 784.4,1338.2 774.3,1341.2 759.7,1344.5 752.9,1346.6 734.3,1355.6 727.4,1358.2 719.9,1360.3 706.5,1363.1 690.1,1364.6 685.0,1364.7 674.7,1364.0 668.9,1363.1 660.1,1361.0 647.9,1356.7 638.9,1352.3 627.3,1345.5 612.3,1334.7 595.8,1321.0 578.4,1305.1 563.8,1290.2 554.1,1278.4 551.2,1273.3 550.1,1268.6 550.7,1265.3 552.6,1262.8 556.9,1259.5 564.7,1255.6Z" fill="#37fcc3" fill-rule="evenodd"/>
<path d="M623.1,1237.3 656.6,1228.7 686.2,1222.1 708.3,1218.3 721.2,1217.4 731.1,1218.1 737.1,1219.2 744.8,1221.5 758.5,1227.0 777.5,1236.8 792.1,1245.4 806.8,1255.0 817.2,1262.4 829.3,1272.0 836.9,1279.0 842.0,1284.7 846.1,1291.0 847.7,1295.8 848.0,1298.8 847.6,1301.2 846.2,1304.5 842.8,1308.5 838.0,1312.1 830.8,1315.9 822.8,1319.3 790.5,1331.2 774.2,1336.3 751.5,1340.4 745.2,1342.9 733.8,1349.7 723.8,1353.8 712.3,1356.7 699.6,1358.5 685.4,1358.9 674.9,1358.1 668.2,1357.1 658.1,1354.5 649.4,1351.5 635.1,1344.7 626.0,1339.2 612.7,1330.0 598.9,1319.0 584.9,1306.6 571.2,1293.2 562.7,1283.7 557.3,1275.9 555.8,1272.8 554.9,1269.7 554.8,1267.0 555.4,1264.7 557.2,1262.1 562.1,1258.3 567.8,1255.2 577.1,1251.4 588.5,1247.5Z" fill="#5ffc95" fill-rule="evenodd"/>
<path d="M601.2,1243.8 627.1,1236.4 657.8,1228.6 684.7,1222.6 704.0,1219.2 716.4,1218.0 727.6,1218.3 737.2,1219.9 747.5,1223.1 758.8,1227.8 771.7,1234.2 786.4,1242.6 800.9,1251.9 815.2,1262.2 825.0,1270.3 832.3,1277.4 836.0,1281.6 838.5,1285.2 841.2,1290.5 842.0,1294.3 842.1,1296.7 841.6,1299.2 839.3,1303.4 835.9,1306.8 829.3,1310.9 821.7,1314.5 810.6,1318.8 783.8,1328.3 773.9,1331.2 763.1,1333.0 749.7,1333.9 745.9,1334.5 742.6,1335.5 739.8,1337.1 732.3,1343.0 726.5,1346.4 719.8,1349.0 708.1,1351.7 695.0,1353.0 680.2,1352.8 666.1,1350.6 652.0,1346.6 640.5,1341.8 630.1,1336.2 617.4,1328.1 604.6,1318.6 592.0,1308.1 577.6,1294.6 568.7,1284.9 562.0,1275.5 560.0,1270.7 559.7,1266.5 560.5,1263.7 563.9,1259.6 570.7,1255.2 578.6,1251.6Z" fill="#8ff95f" fill-rule="evenodd"/>
<path d="M599.7,1244.8 622.7,1237.9 650.8,1230.5 678.0,1224.2 699.8,1220.1 711.9,1218.8 723.3,1218.6 734.1,1220.0 745.1,1223.0 756.8,1227.5 767.8,1232.8 780.5,1239.8 795.0,1248.9 807.1,1257.5 818.0,1266.3 826.5,1274.4 831.2,1280.2 834.0,1284.8 835.8,1290.4 835.9,1294.4 834.2,1298.9 831.1,1302.6 825.0,1306.9 817.5,1310.4 806.6,1314.6 779.8,1323.9 769.6,1326.6 758.1,1327.8 743.4,1327.5 739.3,1327.9 736.1,1328.9 733.6,1330.6 727.4,1337.4 722.0,1341.2 715.4,1343.9 707.7,1345.7 694.8,1347.0 680.0,1346.7 668.8,1345.1 654.9,1341.5 643.0,1337.0 630.4,1330.7 618.2,1323.1 606.3,1314.6 593.6,1304.2 581.1,1292.5 572.4,1282.8 567.3,1275.4 565.2,1270.1 564.9,1266.1 565.6,1263.3 568.4,1259.4 573.0,1255.9 580.4,1252.0 588.5,1248.7Z" fill="#bef528" fill-rule="evenodd"/>
<path d="M601.4,1244.9 624.1,1237.9 652.3,1230.4 679.6,1224.2 698.8,1220.7 711.4,1219.4 722.9,1219.3 733.8,1220.7 745.7,1223.9 756.9,1228.4 767.9,1233.7 780.6,1240.8 792.9,1248.7 802.9,1255.9 814.3,1265.3 822.0,1273.1 825.9,1278.4 828.8,1284.3 829.7,1289.2 829.5,1291.8 828.7,1294.1 826.1,1298.0 822.4,1301.1 818.0,1303.7 810.4,1307.1 799.3,1311.2 775.4,1319.3 765.0,1321.7 756.6,1322.3 736.6,1320.9 732.5,1321.2 729.3,1322.2 727.1,1324.0 722.0,1331.5 719.8,1333.7 717.2,1335.6 710.7,1338.4 702.9,1340.1 689.6,1341.0 679.5,1340.5 668.0,1338.8 653.8,1335.0 642.2,1330.5 630.2,1324.6 618.1,1317.3 608.3,1310.4 597.6,1301.9 586.6,1291.9 579.1,1283.8 573.3,1275.8 571.1,1270.9 570.3,1266.0 571.2,1262.4 573.8,1258.7 577.9,1255.3 582.6,1252.5 590.4,1249.0Z" fill="#daeb14" fill-rule="evenodd"/>
<path d="M606.1,1244.2 625.9,1237.9 651.3,1231.1 678.7,1224.8 698.0,1221.3 710.6,1220.0 722.1,1220.1 733.3,1221.5 744.2,1224.4 754.5,1228.2 763.5,1232.4 774.2,1238.1 786.6,1245.8 796.6,1252.8 806.0,1260.4 813.0,1267.1 819.0,1274.5 822.1,1280.3 823.0,1283.6 823.1,1286.5 822.7,1289.0 820.6,1293.1 817.2,1296.4 813.0,1299.1 805.6,1302.5 797.4,1305.5 770.6,1314.3 759.9,1316.4 751.0,1316.6 734.9,1314.9 730.1,1314.7 726.1,1315.1 723.1,1316.1 720.9,1317.9 716.4,1325.4 714.5,1327.8 712.0,1329.8 709.1,1331.4 701.9,1333.5 693.3,1334.5 678.8,1334.1 667.6,1332.4 654.7,1329.0 645.3,1325.6 635.0,1321.0 623.2,1314.4 613.0,1307.8 602.0,1299.4 592.6,1291.2 584.9,1283.0 579.0,1275.0 576.9,1270.3 576.2,1266.1 576.5,1263.3 577.2,1261.4 579.2,1258.4 582.6,1255.2 587.6,1252.0 595.2,1248.4Z" fill="#f5e100" fill-rule="evenodd"/>
<path d="M616.6,1241.7 636.5,1235.7 661.7,1229.3 683.6,1224.4 700.4,1221.6 713.1,1220.7 725.3,1221.2 735.9,1223.0 749.2,1227.1 760.9,1232.2 771.8,1237.9 782.1,1244.3 792.0,1251.2 799.4,1257.3 806.3,1263.8 812.2,1271.1 815.3,1277.1 816.2,1281.6 815.6,1285.8 814.6,1287.9 811.6,1291.3 807.6,1294.1 802.9,1296.5 795.0,1299.5 780.8,1304.3 765.5,1309.0 758.5,1310.4 754.5,1310.9 745.1,1310.7 728.9,1309.2 724.3,1309.2 720.6,1309.7 717.7,1310.8 715.5,1312.4 711.0,1319.5 709.1,1321.9 706.8,1323.9 703.9,1325.5 696.6,1327.5 691.9,1327.9 683.9,1327.9 672.4,1326.7 660.3,1324.2 646.1,1319.5 637.6,1315.9 626.2,1309.8 615.9,1303.3 606.9,1296.8 597.4,1288.6 591.1,1282.1 586.2,1275.6 583.6,1270.7 582.6,1266.7 582.7,1263.3 583.6,1260.3 586.7,1256.2 590.6,1253.1 597.7,1249.0 605.6,1245.6Z" fill="#f9bf00" fill-rule="evenodd"/>
<path d="M655.8,1231.6 683.3,1225.3 700.2,1222.5 709.6,1221.7 716.6,1221.6 723.7,1222.1 730.0,1222.9 743.5,1226.3 753.3,1229.9 760.3,1233.1 769.0,1237.7 777.3,1242.8 785.2,1248.2 792.6,1254.2 801.0,1262.3 804.3,1266.4 807.4,1271.6 808.8,1275.8 808.9,1280.1 807.7,1283.3 805.6,1286.0 801.9,1288.9 794.8,1292.3 783.9,1296.1 763.2,1302.5 752.8,1304.7 748.7,1305.0 739.7,1304.9 723.5,1304.0 715.7,1304.9 712.9,1306.0 710.7,1307.5 703.9,1316.1 701.5,1318.0 698.6,1319.5 695.0,1320.5 691.1,1321.1 683.1,1321.3 676.6,1320.7 665.9,1318.9 656.9,1316.6 649.0,1314.0 638.6,1309.6 629.6,1305.0 621.6,1300.3 612.4,1293.9 604.5,1287.5 599.5,1282.6 595.2,1277.8 592.3,1273.5 590.4,1269.6 589.5,1266.2 589.5,1262.7 590.8,1258.9 592.5,1256.5 596.3,1253.0 600.8,1250.0 611.5,1245.0 630.4,1238.6Z" fill="#fd9d00" fill-rule="evenodd"/>
<path d="M633.4,1239.3 653.1,1233.6 678.1,1227.6 694.7,1224.3 706.6,1222.9 717.0,1222.7 729.5,1224.0 742.0,1227.0 752.3,1230.8 761.5,1235.2 770.1,1240.0 778.1,1245.3 785.6,1251.1 792.4,1257.4 796.7,1262.6 799.7,1267.5 801.3,1272.4 801.2,1276.4 800.4,1278.5 797.6,1282.0 793.6,1284.7 783.6,1288.7 763.4,1294.8 754.0,1297.4 746.8,1298.7 738.0,1299.1 719.4,1299.0 711.2,1300.4 708.4,1301.4 706.2,1302.9 698.9,1310.6 696.3,1312.2 693.2,1313.5 689.5,1314.2 680.5,1314.4 669.7,1313.0 657.0,1309.8 642.7,1304.5 633.5,1300.1 625.5,1295.5 618.5,1290.8 612.3,1286.1 605.5,1279.7 601.4,1274.8 598.4,1269.9 597.1,1265.5 597.2,1261.1 598.9,1257.2 600.7,1254.9 604.6,1251.5 609.3,1248.7 614.4,1246.2 622.3,1243.0Z" fill="#fd7400" fill-rule="evenodd"/>
<path d="M639.7,1239.4 659.5,1233.8 684.4,1227.8 698.4,1225.1 707.4,1224.0 717.9,1223.9 730.7,1225.5 740.2,1227.8 750.8,1231.7 757.9,1235.0 766.6,1239.8 774.5,1245.2 781.7,1251.1 786.5,1255.9 790.6,1261.1 792.5,1264.9 793.3,1267.2 793.6,1270.0 792.7,1273.7 791.1,1276.2 789.4,1277.7 785.2,1280.2 777.4,1283.0 753.8,1289.3 740.3,1292.4 717.8,1293.8 709.9,1294.9 706.8,1295.8 702.0,1298.3 694.0,1305.0 691.2,1306.4 687.8,1307.3 683.8,1307.7 676.2,1307.3 666.2,1305.4 657.9,1303.0 646.6,1298.7 638.1,1294.8 630.1,1290.3 623.2,1285.8 617.2,1281.1 612.3,1276.3 608.5,1271.4 606.6,1268.1 605.5,1263.9 605.6,1260.6 606.9,1257.0 609.5,1253.7 613.6,1250.4 618.3,1247.7 623.3,1245.3Z" fill="#f94400" fill-rule="evenodd"/>
<path d="M635.9,1243.8 649.8,1239.3 663.8,1235.3 691.5,1228.4 702.8,1226.1 712.2,1225.2 719.4,1225.3 728.3,1226.4 737.8,1228.5 746.3,1231.4 753.7,1234.6 760.4,1238.2 766.6,1242.1 772.3,1246.4 777.4,1251.0 781.2,1255.2 784.1,1259.7 785.4,1263.2 785.7,1266.0 785.3,1268.4 784.3,1270.3 782.9,1272.0 781.0,1273.4 776.5,1275.5 771.0,1277.1 761.9,1278.9 733.3,1285.6 712.5,1288.4 705.3,1290.1 699.9,1292.2 691.6,1298.0 689.0,1299.4 685.9,1300.4 682.1,1300.8 677.6,1300.7 666.6,1298.5 658.8,1296.0 652.1,1293.3 643.1,1289.1 635.4,1284.7 625.0,1277.1 620.2,1272.3 617.4,1268.3 616.1,1265.7 615.3,1262.1 615.8,1258.3 617.6,1255.0 621.1,1251.4 625.7,1248.4Z" fill="#f51400" fill-rule="evenodd"/>
<path d="M647.2,1244.4 666.7,1238.4 699.5,1229.3 708.0,1227.5 714.3,1226.9 721.7,1227.0 730.9,1228.2 736.9,1229.7 748.9,1234.1 756.0,1237.7 762.3,1241.7 767.9,1246.1 772.2,1250.2 775.3,1254.3 777.2,1258.0 777.9,1262.0 777.4,1264.3 776.3,1266.1 772.6,1268.8 770.2,1269.8 764.5,1271.2 751.2,1272.6 738.0,1274.7 703.3,1283.5 697.5,1285.7 689.0,1291.0 683.7,1293.2 677.5,1293.6 670.2,1292.3 663.6,1290.2 657.0,1287.4 651.2,1284.4 643.7,1279.9 637.4,1275.3 633.9,1272.2 631.0,1269.0 628.8,1265.7 628.0,1263.9 627.3,1260.2 627.8,1257.3 629.6,1254.1 632.5,1251.3 636.6,1248.7Z" fill="#da0a00" fill-rule="evenodd"/>
<path d="M701.2,1233.6 711.3,1229.9 717.3,1228.9 720.7,1228.8 730.3,1229.6 740.6,1232.4 751.1,1237.1 755.6,1239.8 761.5,1244.2 764.8,1247.4 767.6,1250.8 769.7,1254.8 770.1,1257.8 769.5,1260.0 768.2,1261.8 766.2,1263.1 763.8,1264.0 761.0,1264.7 754.3,1265.2 734.5,1264.7 727.3,1265.3 717.8,1267.6 702.3,1273.6 693.8,1277.6 683.2,1284.4 680.5,1285.3 677.0,1285.6 672.5,1285.1 666.3,1283.1 662.5,1281.3 657.0,1278.1 650.5,1273.2 647.0,1269.8 644.4,1266.4 642.5,1262.6 642.1,1259.2 642.9,1256.6 644.4,1254.6 646.8,1252.7 650.7,1250.7 666.8,1245.2 689.0,1238.5Z" fill="#be0000" fill-rule="evenodd"/>
<path d="M714.2,1235.0 718.5,1232.6 721.2,1231.9 728.2,1231.5 736.7,1233.1 745.6,1236.6 750.4,1239.3 754.6,1242.2 759.4,1247.2 761.0,1249.8 761.8,1253.1 761.1,1255.3 759.4,1256.8 757.0,1257.8 754.0,1258.3 749.0,1258.3 743.1,1257.6 734.1,1255.6 726.5,1253.5 717.4,1249.9 713.2,1247.1 711.8,1245.6 710.6,1242.1 710.8,1240.1 711.6,1238.0ZM664.7,1262.4 667.5,1261.9 671.7,1262.5 675.1,1264.5 676.4,1266.4 676.7,1268.4 676.3,1270.5 675.1,1271.9 672.6,1272.8 667.7,1271.4 665.3,1269.6 663.7,1267.8 663.0,1265.8 662.9,1263.9Z" fill="#930000" fill-rule="evenodd"/>
<polygon points="641.9,1235.8 647.4,1234.4 652.8,1233.0 658.2,1231.6 663.5,1230.2 668.8,1228.8 674.1,1227.5 679.3,1226.1 684.4,1224.8 689.5,1223.5 694.6,1222.2 699.6,1220.8 704.6,1219.6 709.6,1218.3 714.5,1217.0 719.3,1215.7 770.7,1243.6 754.5,1245.6 742.4,1247.6 726.2,1249.6 709.9,1251.1 697.8,1249.6 689.7,1245.6 681.6,1240.5 661.3,1238.5" fill="url(#fb3)"/>
<polygon points="587.5,1250.0 593.5,1248.4 599.4,1246.9 605.2,1245.4 611.0,1243.9 616.7,1242.4 622.4,1240.9 628.1,1239.4 645.1,1233.4 657.3,1232.0 669.4,1234.9 679.6,1238.5 686.6,1243.6 691.3,1250.7 691.7,1258.4 681.6,1262.4 665.4,1264.4 647.1,1264.8 630.9,1264.4 620.8,1261.2 610.7,1254.7 603.6,1250.1 592.4,1248.2" fill="url(#fb2)"/>
<polygon points="83.2,1524.7 308.4,1466.2 486.1,1572.0 229.3,1677.4" fill="#0000a0"/>
<path d="M126.8,1514.4 163.5,1504.7 182.0,1500.6 188.8,1499.8 192.7,1499.7 197.5,1500.3 204.6,1501.9 213.0,1504.8 224.6,1510.6 234.4,1517.0 255.7,1532.1 294.3,1561.5 327.0,1588.0 333.2,1593.9 340.8,1602.5 345.4,1609.6 346.5,1612.3 346.8,1616.9 345.6,1619.9 343.6,1622.2 338.3,1626.1 326.0,1632.5 302.1,1642.7 276.3,1652.7 264.4,1656.7 251.3,1659.6 246.3,1659.9 240.5,1659.5 233.4,1657.7 228.4,1655.7 217.7,1650.0 205.8,1641.9 197.9,1635.7 188.6,1627.2 161.5,1601.0 146.5,1586.0 132.9,1571.6 114.7,1551.2 108.3,1542.9 104.5,1534.2 104.2,1528.7 104.9,1525.1 106.0,1523.1 106.7,1522.3 111.7,1519.3ZM242.5,1485.4 255.2,1481.6 273.2,1477.1 289.0,1473.9 295.0,1473.4 300.2,1473.8 310.0,1476.2 320.8,1479.7 332.3,1484.6 367.6,1504.3 400.2,1524.0 439.7,1549.1 446.6,1554.1 455.1,1561.2 460.7,1567.0 462.2,1569.0 463.4,1572.5 462.9,1574.8 461.6,1576.6 457.7,1579.6 448.1,1584.8 431.8,1591.9 411.4,1599.8 398.8,1604.0 387.8,1606.4 383.5,1606.8 378.4,1606.6 371.8,1605.4 366.9,1603.9 356.2,1599.4 343.9,1592.8 335.5,1587.6 299.5,1562.3 260.5,1533.0 241.0,1517.4 233.2,1510.5 227.6,1503.4 225.9,1498.7 225.5,1495.3 226.0,1493.4 226.4,1492.6 230.0,1489.7Z" fill="#0000d0" fill-rule="evenodd"/>
<path d="M115.5,1518.8 130.5,1513.8 155.0,1507.2 173.3,1502.8 186.3,1500.7 194.3,1500.6 199.6,1501.5 208.5,1503.9 216.2,1507.1 227.0,1513.0 237.1,1519.5 270.4,1543.7 293.1,1561.3 310.3,1575.1 321.0,1584.3 331.4,1594.2 335.3,1598.4 340.4,1605.2 342.9,1609.6 343.8,1613.1 342.9,1617.4 341.1,1619.9 338.9,1622.1 333.5,1625.8 317.9,1633.8 300.8,1641.1 282.4,1648.1 262.6,1654.5 253.8,1656.4 243.8,1657.0 235.9,1655.9 231.1,1654.4 227.2,1652.6 216.9,1646.7 210.8,1642.7 195.1,1630.2 185.7,1622.0 170.9,1607.8 148.1,1584.9 131.1,1567.1 118.9,1553.6 113.7,1546.9 109.4,1540.2 107.7,1536.8 106.4,1531.5 107.0,1526.2 108.1,1523.4 110.1,1521.5ZM233.4,1489.7 243.1,1486.1 261.1,1481.1 279.1,1476.7 290.1,1474.8 296.3,1474.5 301.9,1475.3 314.1,1478.6 321.9,1481.3 341.6,1490.8 370.8,1507.8 419.9,1537.8 431.4,1545.4 445.1,1555.2 449.5,1558.6 455.4,1564.1 458.9,1567.9 460.0,1570.2 460.1,1573.5 459.0,1575.5 457.5,1577.2 453.5,1580.2 441.3,1586.6 424.8,1593.7 409.8,1599.2 393.2,1603.9 385.3,1605.1 380.8,1605.2 375.3,1604.7 369.1,1603.3 361.6,1600.5 351.6,1595.9 345.7,1592.6 331.8,1584.2 319.2,1575.7 277.3,1545.2 257.9,1530.3 243.9,1518.9 239.1,1514.7 232.3,1507.7 230.2,1504.8 228.7,1501.7 227.8,1496.9 228.0,1494.1 229.3,1492.1Z" fill="#0000f0" fill-rule="evenodd"/>
<path d="M122.0,1517.0 137.0,1512.3 161.5,1505.8 177.2,1502.5 187.2,1501.1 193.6,1501.3 203.5,1503.3 212.2,1506.1 219.5,1509.4 227.9,1514.3 242.0,1523.4 257.7,1534.7 277.8,1549.8 309.2,1575.0 321.9,1586.2 330.0,1594.3 335.4,1600.9 338.7,1605.9 340.9,1610.9 341.0,1614.0 339.4,1617.7 337.2,1620.4 329.2,1626.0 316.7,1632.4 296.0,1641.2 277.4,1648.1 261.2,1652.8 252.2,1654.5 247.2,1654.8 241.7,1654.7 233.9,1653.0 225.9,1649.5 215.8,1643.6 206.9,1637.6 196.6,1629.2 180.4,1614.9 164.0,1599.2 143.7,1578.7 128.9,1563.0 120.2,1552.8 113.9,1544.5 110.8,1539.5 109.4,1536.0 108.5,1531.5 109.6,1525.1 110.2,1523.4 111.2,1522.2 113.5,1520.6 116.2,1519.2ZM238.9,1488.5 251.3,1484.4 271.9,1479.1 282.4,1476.8 294.0,1475.4 299.9,1475.9 313.8,1479.7 325.4,1483.9 349.1,1496.1 380.9,1514.8 416.7,1537.1 435.0,1549.4 443.9,1555.9 454.0,1565.1 457.0,1568.9 457.7,1571.3 457.1,1574.3 455.7,1576.4 449.8,1581.0 440.0,1586.2 423.5,1593.2 408.6,1598.7 395.2,1602.4 387.7,1603.7 383.4,1604.0 376.2,1603.7 371.3,1602.7 359.9,1598.7 350.1,1594.1 341.2,1589.2 325.4,1579.1 310.7,1569.2 290.6,1554.7 268.1,1537.9 253.4,1526.2 241.9,1516.2 236.0,1510.5 233.2,1507.0 230.6,1502.2 230.0,1498.9 229.9,1494.5 231.4,1492.2 234.2,1490.5Z" fill="#001ef5" fill-rule="evenodd"/>
<path d="M131.4,1514.3 146.6,1509.9 165.1,1505.3 177.7,1502.8 188.2,1501.7 191.2,1501.7 198.2,1502.9 210.4,1506.1 219.4,1510.0 229.1,1515.5 243.0,1524.7 254.9,1533.1 289.3,1559.3 306.1,1573.1 316.7,1582.4 324.8,1590.3 330.4,1596.7 334.3,1602.0 337.2,1608.2 338.4,1611.6 338.1,1614.8 335.6,1618.8 333.3,1621.0 328.0,1624.7 319.0,1629.7 302.3,1637.2 284.1,1644.2 268.4,1649.2 255.5,1652.2 245.5,1652.9 242.6,1652.7 236.8,1651.6 222.1,1645.2 217.6,1642.6 208.5,1636.6 197.9,1628.4 186.1,1618.1 167.0,1600.3 148.1,1581.7 134.6,1567.5 121.3,1552.2 115.1,1543.9 112.3,1538.8 110.7,1533.3 111.2,1527.9 112.9,1522.5 116.1,1520.1 119.6,1518.4ZM246.8,1486.5 259.4,1482.8 272.4,1479.6 285.8,1476.9 292.7,1476.3 297.9,1476.6 316.5,1481.6 325.6,1485.0 333.5,1488.7 361.1,1503.9 397.9,1526.3 429.6,1546.9 438.6,1553.3 444.8,1558.5 449.4,1562.7 453.6,1568.0 455.0,1570.0 455.4,1572.5 454.0,1575.7 452.4,1577.4 448.5,1580.5 441.5,1584.5 428.3,1590.6 410.7,1597.2 397.5,1601.0 386.0,1602.8 378.9,1602.8 373.6,1602.1 359.3,1597.4 348.4,1592.3 339.5,1587.4 326.3,1579.2 293.5,1556.5 261.4,1532.1 247.5,1520.5 239.8,1513.4 236.0,1509.0 233.1,1504.4 232.2,1499.6 232.2,1494.0 234.4,1491.6 237.1,1490.1Z" fill="#003cfa" fill-rule="evenodd"/>
<path d="M144.0,1510.9 165.5,1505.5 182.1,1502.5 188.6,1502.3 192.3,1502.7 206.4,1505.7 212.9,1507.8 216.9,1509.5 223.0,1512.5 230.3,1516.7 250.2,1530.1 274.2,1547.9 301.1,1569.5 311.6,1578.6 319.8,1586.3 325.4,1592.5 329.8,1598.1 335.1,1609.4 335.9,1612.3 335.1,1615.8 334.1,1617.3 331.0,1620.5 326.9,1623.6 321.1,1627.0 304.8,1634.7 287.0,1641.8 267.4,1648.0 256.2,1650.4 246.1,1651.1 239.8,1650.2 218.1,1640.6 210.1,1635.6 201.7,1629.7 191.7,1621.5 180.4,1611.4 147.3,1579.2 125.0,1555.0 118.4,1546.6 115.3,1541.6 112.9,1535.3 113.0,1532.5 113.7,1526.9 115.8,1521.6 119.8,1518.9 123.0,1517.6 131.8,1514.5ZM257.3,1484.0 272.8,1480.1 283.6,1477.9 289.8,1477.2 295.7,1477.4 319.3,1483.6 329.5,1487.7 347.8,1497.2 375.4,1513.4 410.7,1535.5 431.1,1549.1 437.5,1554.1 444.7,1560.3 451.7,1569.1 453.0,1571.1 453.0,1573.7 451.0,1576.8 449.3,1578.5 442.8,1582.8 430.1,1589.1 415.8,1594.8 399.8,1599.6 388.7,1601.7 379.6,1601.9 375.9,1601.5 371.7,1600.4 354.8,1594.5 343.6,1589.0 332.3,1582.5 305.4,1564.6 273.5,1541.2 249.9,1522.0 242.1,1514.8 238.3,1510.5 235.7,1506.6 234.8,1503.1 234.2,1497.4 234.6,1493.6 237.5,1490.9 240.0,1489.7 247.2,1487.1Z" fill="#005aff" fill-rule="evenodd"/>
<path d="M126.4,1516.7 141.3,1511.9 159.7,1507.1 175.5,1503.8 186.0,1502.8 196.8,1504.3 206.7,1506.6 215.6,1509.5 225.1,1514.2 235.6,1520.5 247.6,1528.6 277.6,1550.9 304.6,1573.0 314.8,1582.4 320.5,1588.4 325.2,1594.2 328.2,1599.6 331.4,1606.6 333.3,1613.0 331.9,1616.8 330.7,1618.3 328.4,1620.4 323.1,1624.2 317.1,1627.6 307.4,1632.3 286.2,1640.8 274.6,1644.6 266.5,1646.9 252.9,1649.2 249.8,1649.3 242.8,1648.7 233.1,1644.8 213.9,1636.0 203.1,1628.8 195.2,1622.8 185.7,1614.8 172.8,1602.9 157.1,1587.7 141.1,1571.5 130.1,1559.5 121.8,1549.4 118.5,1544.3 115.3,1537.3 115.5,1529.7 116.9,1524.1 118.8,1520.6 123.5,1517.9ZM242.9,1489.3 255.2,1485.2 270.6,1481.1 284.1,1478.5 290.3,1478.1 293.8,1478.2 322.2,1485.7 333.7,1490.6 355.7,1502.5 390.1,1523.3 419.1,1541.9 428.1,1548.2 434.4,1553.1 439.9,1557.8 447.9,1567.7 450.9,1572.2 450.7,1574.2 449.6,1576.2 448.0,1578.0 444.1,1581.1 439.5,1583.8 431.9,1587.6 417.9,1593.4 402.2,1598.3 391.4,1600.5 384.6,1601.1 377.2,1600.5 362.2,1596.2 350.1,1591.5 341.9,1587.3 330.6,1580.9 303.8,1563.1 270.3,1538.3 257.4,1527.9 247.4,1519.2 243.1,1514.9 238.5,1509.0 236.7,1502.5 236.5,1497.1 237.1,1493.1 240.6,1490.4Z" fill="#0080ff" fill-rule="evenodd"/>
<path d="M129.7,1515.9 144.7,1511.2 160.1,1507.2 174.1,1504.3 183.1,1503.4 194.6,1504.6 207.7,1507.7 218.4,1511.4 230.7,1517.9 241.0,1524.4 255.0,1534.1 285.2,1557.3 307.9,1576.7 315.6,1584.4 320.5,1590.1 324.4,1596.6 327.3,1602.8 329.4,1608.6 330.6,1613.8 329.2,1616.8 327.2,1619.2 319.2,1624.9 313.1,1628.3 303.3,1632.9 285.4,1639.9 267.9,1645.2 261.1,1646.6 253.6,1647.6 245.9,1647.2 241.2,1645.5 224.9,1638.5 209.6,1631.3 191.8,1618.5 169.4,1598.5 154.1,1583.5 140.2,1569.3 129.4,1557.3 123.0,1549.2 119.7,1543.6 117.8,1539.5 117.4,1534.3 118.0,1528.7 119.2,1524.4 121.9,1519.6ZM245.8,1488.9 258.1,1484.9 273.7,1481.0 283.0,1479.2 291.0,1478.9 325.3,1488.0 337.9,1493.5 363.7,1507.9 398.4,1529.3 421.1,1544.3 434.9,1555.2 443.6,1565.6 448.7,1573.3 448.1,1575.6 446.8,1577.5 440.9,1582.1 428.4,1588.6 414.1,1594.2 399.8,1598.3 387.7,1600.2 380.8,1600.1 372.3,1598.1 360.5,1594.5 345.4,1588.4 326.2,1577.7 299.9,1560.0 268.9,1536.9 256.3,1526.6 248.2,1519.3 241.3,1511.4 239.3,1505.7 238.6,1501.0 238.8,1496.7 239.7,1492.5Z" fill="#00a7ff" fill-rule="evenodd"/>
<path d="M136.0,1514.1 151.2,1509.7 168.9,1505.5 180.0,1504.1 185.2,1504.3 199.2,1506.3 211.8,1509.7 221.4,1513.3 236.2,1521.6 258.4,1536.9 284.6,1557.2 301.0,1571.1 308.8,1578.5 315.7,1585.9 320.0,1592.7 323.8,1600.4 326.6,1608.5 327.8,1614.7 325.9,1617.8 323.7,1620.1 318.3,1623.9 312.3,1627.3 299.1,1633.4 280.9,1640.2 264.6,1644.6 255.3,1645.8 249.2,1645.6 244.3,1644.0 225.4,1636.1 205.2,1626.4 195.1,1619.2 185.3,1611.5 164.2,1592.2 149.4,1577.6 137.7,1565.3 128.8,1555.1 123.9,1548.2 120.4,1541.8 120.0,1539.1 119.8,1532.3 121.0,1525.7 122.6,1522.2 125.3,1518.5ZM251.0,1487.7 261.1,1484.6 274.1,1481.4 279.6,1480.4 288.4,1479.8 303.1,1483.3 328.5,1490.3 343.6,1497.2 367.5,1510.9 397.9,1529.8 413.4,1540.0 429.8,1552.5 440.1,1564.6 445.1,1571.8 446.4,1574.5 445.4,1576.9 443.9,1578.7 439.9,1581.7 435.3,1584.5 422.1,1590.6 407.0,1595.8 393.0,1598.9 384.2,1599.4 374.6,1597.5 362.7,1594.1 351.6,1590.1 340.4,1585.2 319.3,1572.9 291.7,1553.8 263.9,1532.6 253.6,1523.7 247.7,1517.9 244.4,1514.0 242.1,1508.8 240.9,1503.1 240.9,1498.3 242.6,1491.9 246.4,1489.6Z" fill="#00cdff" fill-rule="evenodd"/>
<path d="M142.4,1512.4 161.5,1507.3 176.5,1504.8 187.1,1505.2 200.3,1507.3 212.8,1510.8 224.6,1515.5 241.9,1525.7 261.8,1539.8 288.1,1560.5 298.1,1569.2 305.8,1576.6 310.6,1581.6 312.7,1584.5 316.8,1591.0 320.4,1598.2 323.4,1606.7 324.6,1612.1 324.7,1615.6 320.9,1620.3 317.4,1622.9 311.5,1626.4 301.8,1631.1 287.6,1636.7 272.1,1641.5 262.2,1643.6 252.6,1644.0 247.5,1642.5 239.2,1639.3 218.9,1630.4 200.6,1621.4 193.8,1616.5 175.1,1601.2 161.0,1588.0 148.3,1575.3 132.5,1558.1 127.3,1551.0 123.3,1544.3 122.2,1538.0 122.1,1532.2 122.9,1527.0 125.2,1521.8 129.1,1517.4ZM256.4,1486.5 269.2,1483.1 277.4,1481.5 285.5,1480.7 290.9,1481.8 311.1,1486.7 332.0,1492.7 349.8,1501.4 364.8,1510.0 397.4,1530.3 414.8,1542.2 424.4,1549.6 434.8,1561.4 441.1,1570.0 443.2,1573.6 444.0,1575.7 441.5,1579.3 438.9,1581.4 434.4,1584.2 426.8,1588.0 415.5,1592.5 402.8,1596.3 394.5,1598.0 386.2,1598.5 372.8,1596.0 356.3,1590.9 346.4,1586.9 336.7,1582.5 325.5,1576.2 303.3,1561.8 277.8,1543.2 259.4,1528.3 252.9,1522.4 247.6,1516.7 244.5,1510.4 243.3,1505.4 243.1,1499.9 243.8,1495.8 245.7,1491.3 251.6,1488.3Z" fill="#0fe1ef" fill-rule="evenodd"/>
<path d="M134.3,1515.7 148.9,1510.8 164.6,1507.1 172.5,1505.7 184.1,1505.8 198.0,1507.5 210.9,1510.9 225.1,1516.4 234.4,1521.5 253.2,1533.8 275.3,1550.5 293.2,1565.5 301.0,1572.8 306.4,1578.5 312.1,1586.7 315.9,1593.6 319.6,1603.0 321.2,1609.9 321.6,1613.1 321.5,1616.6 316.4,1621.8 313.6,1623.7 301.0,1630.2 283.1,1637.1 267.1,1641.4 256.3,1642.3 250.8,1640.8 243.8,1638.3 227.0,1631.4 210.8,1623.9 195.7,1616.1 185.1,1608.0 173.9,1598.6 154.3,1580.2 139.1,1564.3 132.1,1555.6 127.3,1548.6 126.3,1546.8 124.6,1538.9 124.3,1533.1 124.9,1528.3 126.6,1523.7 128.5,1520.7 132.0,1517.1ZM250.1,1490.1 257.0,1487.2 264.5,1484.9 272.5,1483.1 282.1,1481.8 297.5,1484.7 315.7,1489.4 335.8,1495.4 342.4,1498.5 358.9,1507.2 383.8,1522.4 401.1,1533.7 418.7,1546.5 427.0,1555.4 433.4,1563.1 437.5,1568.9 440.8,1574.9 441.3,1577.1 441.0,1577.5 437.9,1581.0 435.8,1582.5 426.0,1587.7 411.7,1593.2 398.5,1596.7 389.1,1597.7 377.3,1595.9 361.1,1591.5 345.1,1585.5 332.1,1579.4 323.8,1574.6 311.1,1566.7 286.5,1549.4 265.1,1532.8 256.9,1525.4 251.2,1519.7 248.4,1515.1 247.0,1511.9 245.7,1507.6 245.2,1504.3 245.5,1499.6 246.3,1496.2 248.4,1491.7 249.3,1490.5Z" fill="#23eed9" fill-rule="evenodd"/>
<path d="M140.6,1513.8 152.5,1510.2 167.6,1506.9 181.3,1506.4 191.9,1507.3 205.7,1510.1 220.6,1515.2 231.9,1520.4 246.3,1529.4 266.6,1544.1 288.4,1561.9 299.5,1572.2 304.6,1578.5 308.8,1584.7 312.5,1591.5 315.7,1599.2 317.8,1607.6 318.5,1614.1 317.9,1617.7 317.5,1618.2 312.6,1622.5 306.7,1626.1 296.9,1630.7 282.4,1636.1 273.2,1638.8 260.2,1640.5 254.4,1639.1 248.0,1637.0 227.9,1629.1 209.8,1620.8 190.5,1610.5 172.8,1596.0 153.2,1577.8 140.0,1563.7 134.4,1556.7 129.7,1550.1 127.7,1543.7 126.7,1537.8 126.7,1532.0 127.7,1526.7 129.6,1522.6 131.8,1519.7 135.7,1516.3 138.5,1514.6ZM255.3,1488.8 265.1,1485.6 278.0,1483.0 290.6,1484.7 310.8,1489.4 336.7,1497.2 341.6,1499.1 355.1,1506.1 374.6,1517.5 396.1,1531.4 412.6,1543.2 418.6,1549.1 425.5,1556.8 431.5,1564.3 435.4,1570.2 438.3,1576.2 438.5,1578.5 438.2,1578.8 434.7,1582.1 430.3,1584.9 416.9,1590.9 404.4,1594.8 393.0,1596.6 387.5,1596.4 373.5,1593.9 356.9,1589.1 340.3,1582.5 324.0,1574.3 304.8,1562.0 285.0,1548.0 267.7,1534.4 255.1,1522.9 251.8,1518.1 249.4,1513.5 247.9,1508.6 247.4,1503.5 248.2,1498.2 250.2,1493.7 253.1,1489.9Z" fill="#37fcc3" fill-rule="evenodd"/>
<path d="M147.0,1512.1 159.7,1508.8 166.4,1507.8 174.3,1507.2 183.1,1507.2 189.1,1507.7 196.7,1508.8 204.2,1510.4 218.8,1515.1 234.6,1522.6 247.6,1530.7 263.8,1542.4 279.7,1555.1 293.4,1567.1 299.7,1574.5 304.1,1580.5 308.0,1587.0 311.4,1594.2 313.5,1600.9 314.8,1608.4 315.0,1615.1 314.0,1619.0 308.7,1623.2 299.5,1628.3 289.0,1632.6 277.6,1636.2 264.5,1638.5 258.7,1637.4 243.4,1632.6 222.9,1624.3 202.4,1614.4 184.7,1604.4 167.5,1589.7 150.6,1573.6 138.1,1559.5 133.7,1553.7 132.3,1550.4 129.8,1542.5 128.9,1536.6 129.1,1530.9 130.6,1525.2 133.5,1520.6 136.8,1517.4 141.8,1514.3ZM260.7,1487.8 271.4,1485.0 277.3,1484.8 288.3,1485.9 307.0,1489.9 327.0,1495.5 344.7,1501.5 356.6,1507.8 369.6,1515.4 389.0,1527.7 405.9,1539.4 417.0,1550.4 426.7,1561.7 430.9,1567.5 433.4,1572.0 435.5,1577.6 435.3,1580.0 431.5,1583.1 424.4,1587.2 416.0,1590.6 410.0,1592.6 399.6,1595.0 395.6,1595.6 390.4,1595.4 380.4,1594.2 371.8,1592.4 363.7,1590.3 349.0,1585.3 332.5,1578.0 317.6,1569.9 298.7,1557.5 277.7,1542.0 261.7,1528.6 258.7,1525.6 255.4,1521.2 252.6,1516.7 250.7,1511.9 249.7,1506.7 249.7,1502.8 251.0,1497.8 253.4,1493.6 256.6,1490.3Z" fill="#5ffc95" fill-rule="evenodd"/>
<path d="M148.5,1512.8 154.3,1510.9 160.8,1509.5 168.0,1508.4 176.0,1507.9 189.7,1508.5 197.9,1509.7 204.7,1511.2 213.3,1513.8 219.8,1516.2 233.0,1522.4 244.7,1529.2 263.1,1542.3 282.8,1558.3 291.6,1567.0 296.4,1572.5 300.9,1578.7 305.0,1585.4 307.9,1591.6 309.8,1597.2 311.1,1603.0 311.7,1609.2 311.1,1616.3 309.3,1620.6 304.7,1623.8 298.5,1627.2 288.1,1631.5 276.5,1634.9 269.6,1636.2 262.0,1635.3 251.6,1632.4 241.2,1629.0 229.4,1624.4 218.1,1619.5 204.9,1613.1 195.5,1608.0 178.0,1597.3 160.6,1581.8 145.0,1565.9 138.4,1558.0 135.9,1553.1 133.5,1547.2 131.9,1541.3 131.2,1535.5 131.5,1529.8 132.6,1526.0 135.2,1521.5 138.9,1517.9 143.3,1515.0ZM262.4,1489.6 269.9,1487.2 279.1,1486.6 290.3,1487.8 304.1,1490.6 325.5,1496.5 346.7,1503.9 353.7,1507.2 369.0,1516.0 384.0,1525.5 397.9,1534.9 412.0,1547.9 418.8,1555.3 423.4,1561.0 429.6,1570.4 431.5,1574.8 432.3,1578.9 431.5,1581.7 428.1,1584.1 423.3,1586.8 412.0,1591.3 399.7,1594.3 393.3,1594.4 386.9,1593.9 374.2,1591.9 358.2,1587.7 344.1,1582.4 328.2,1575.0 311.3,1565.5 292.9,1552.9 274.7,1539.2 265.0,1531.0 260.3,1525.8 257.0,1521.4 254.4,1516.7 252.6,1511.8 251.9,1507.9 252.2,1502.6 253.0,1499.8 255.2,1495.6 258.4,1492.2Z" fill="#8ff95f" fill-rule="evenodd"/>
<path d="M150.0,1513.4 155.9,1511.5 162.4,1510.1 173.5,1508.8 187.5,1509.0 195.4,1510.0 202.8,1511.4 216.1,1515.5 231.3,1522.2 248.0,1531.9 262.3,1542.1 276.1,1553.2 288.3,1565.0 293.0,1570.5 297.4,1576.4 300.6,1581.3 303.8,1587.7 306.0,1593.4 307.8,1600.6 308.3,1606.8 308.0,1612.4 306.5,1617.8 303.5,1622.4 297.5,1625.9 287.1,1630.3 276.0,1633.4 270.4,1633.4 264.9,1632.8 252.4,1629.8 240.7,1626.0 229.8,1621.9 206.9,1611.4 197.6,1606.5 186.4,1600.0 178.7,1595.0 169.4,1588.3 156.0,1575.8 145.1,1564.4 141.9,1559.6 138.7,1553.8 134.9,1544.1 133.8,1539.0 133.4,1534.4 134.1,1528.6 135.5,1524.8 136.9,1522.5 140.5,1518.7 144.9,1515.7ZM264.1,1491.5 268.9,1489.7 277.6,1488.5 288.2,1489.1 301.3,1491.5 321.0,1496.6 340.2,1503.0 357.4,1510.3 366.2,1515.3 387.2,1528.7 395.6,1535.3 408.7,1547.4 415.5,1554.7 420.2,1560.3 423.5,1564.9 426.5,1570.1 428.5,1575.0 428.9,1577.6 428.6,1580.9 426.9,1583.7 422.2,1586.4 414.0,1589.9 404.3,1592.6 397.3,1593.1 391.5,1593.0 376.8,1591.4 361.9,1587.9 346.0,1582.3 329.9,1575.1 312.9,1565.7 295.8,1554.6 275.4,1539.3 265.8,1530.4 258.9,1521.9 256.4,1517.4 255.0,1513.5 254.1,1508.2 254.3,1504.3 255.7,1500.0 257.0,1497.5 260.1,1494.1Z" fill="#bef528" fill-rule="evenodd"/>
<path d="M151.6,1514.1 157.4,1512.2 163.9,1510.7 171.2,1509.8 179.2,1509.4 192.8,1510.3 205.1,1512.7 219.1,1517.4 232.2,1523.4 246.4,1531.6 261.1,1541.9 274.5,1552.9 286.6,1564.9 290.5,1569.5 295.5,1576.4 299.3,1583.0 301.4,1587.7 303.9,1595.1 304.8,1600.1 305.0,1604.7 304.7,1608.9 303.0,1615.3 301.0,1619.4 298.6,1621.9 295.9,1624.1 289.6,1627.5 285.9,1628.8 281.9,1629.7 273.6,1630.4 261.9,1629.0 249.2,1626.0 239.4,1622.8 226.2,1617.7 207.0,1608.9 188.4,1598.6 178.2,1591.9 171.3,1586.9 157.3,1574.8 147.6,1564.0 143.8,1558.3 140.6,1552.6 138.9,1548.7 136.9,1542.9 135.9,1537.1 135.8,1533.2 136.4,1528.8 137.6,1525.5 140.1,1521.6 142.2,1519.5 146.5,1516.5ZM265.8,1493.3 268.1,1492.3 273.3,1490.9 282.7,1490.4 294.2,1491.6 306.2,1494.1 325.2,1499.4 341.4,1505.0 356.1,1511.4 367.4,1517.5 382.2,1527.2 394.2,1536.6 404.5,1545.9 415.9,1558.4 422.0,1567.1 424.1,1571.4 425.5,1576.3 425.2,1580.3 424.1,1582.7 420.6,1585.8 418.3,1587.2 412.6,1589.4 401.6,1591.6 391.7,1591.8 386.1,1591.5 373.3,1589.7 358.0,1585.8 344.5,1580.9 327.1,1572.9 311.9,1564.4 294.9,1553.3 278.6,1541.1 268.7,1532.1 264.7,1527.7 261.4,1523.1 258.7,1518.4 256.9,1513.4 256.4,1509.8 256.4,1506.4 256.9,1503.9 258.9,1499.5 261.9,1496.0Z" fill="#daeb14" fill-rule="evenodd"/>
<path d="M153.2,1514.8 159.1,1512.9 165.6,1511.4 174.1,1510.5 185.7,1510.4 201.4,1512.6 214.5,1516.3 222.6,1519.5 232.3,1524.2 247.0,1532.8 259.4,1541.6 271.4,1551.3 284.2,1564.1 290.9,1572.5 295.1,1579.4 298.1,1585.7 301.1,1596.2 301.4,1605.3 299.4,1612.9 296.3,1617.6 293.0,1620.6 290.2,1622.8 287.0,1624.4 283.2,1625.5 274.6,1626.6 264.5,1626.2 252.6,1623.9 238.6,1619.6 230.7,1616.7 226.3,1614.6 222.3,1613.3 218.9,1611.4 212.8,1608.9 208.7,1606.5 202.3,1603.7 196.5,1600.0 189.6,1596.5 171.5,1584.1 159.4,1573.2 149.5,1562.7 142.4,1550.8 141.3,1547.3 139.5,1543.5 139.4,1541.5 138.4,1538.1 138.6,1535.7 138.2,1533.8 138.6,1531.8 138.5,1530.1 140.6,1524.6 142.0,1522.3 144.3,1520.1 148.2,1517.3ZM267.7,1495.3 272.6,1493.6 278.0,1492.5 285.7,1492.5 296.3,1493.6 311.1,1496.9 323.9,1500.6 341.9,1506.9 357.1,1513.6 363.7,1517.5 383.3,1530.2 397.8,1542.3 401.8,1546.6 405.7,1550.0 415.0,1561.0 419.9,1568.9 422.0,1574.9 421.6,1579.7 419.8,1582.7 417.4,1584.7 412.9,1587.4 409.8,1588.3 402.4,1589.8 393.9,1590.5 382.7,1589.9 369.5,1587.8 353.8,1583.5 344.3,1579.9 333.5,1575.2 321.7,1569.2 313.8,1564.6 298.8,1555.2 280.2,1541.4 276.5,1538.3 267.7,1529.4 263.1,1523.2 260.6,1518.7 259.4,1514.9 258.7,1511.5 259.1,1506.1 259.8,1503.6 261.2,1501.2 263.9,1498.1Z" fill="#f5e100" fill-rule="evenodd"/>
<path d="M155.9,1515.9 161.7,1514.0 168.3,1512.6 179.9,1511.6 193.2,1512.3 204.2,1514.4 216.6,1518.3 228.9,1523.6 242.1,1531.0 255.0,1539.7 268.3,1550.6 278.6,1560.9 283.3,1566.4 287.5,1572.4 292.2,1581.1 293.7,1584.8 295.2,1590.1 295.9,1594.9 295.9,1599.2 295.4,1603.2 293.9,1607.5 290.7,1612.7 288.3,1615.0 285.4,1617.0 282.1,1618.5 278.4,1619.7 269.7,1620.7 259.4,1620.0 247.3,1617.5 239.2,1615.1 226.6,1610.6 209.0,1602.7 193.7,1594.5 176.5,1583.1 164.1,1572.9 155.5,1564.1 151.3,1558.7 147.8,1553.1 145.4,1548.3 143.6,1543.5 142.3,1537.8 142.1,1533.9 142.6,1530.0 143.7,1526.4 145.1,1524.0 148.7,1520.1 150.9,1518.5ZM270.7,1498.5 275.4,1496.7 278.1,1496.1 287.7,1495.6 299.8,1497.0 309.7,1499.2 323.7,1503.1 338.9,1508.4 352.5,1514.4 363.9,1520.6 376.6,1528.9 388.5,1538.3 399.5,1548.4 407.7,1557.6 413.6,1566.2 416.1,1572.6 416.4,1575.2 415.9,1578.0 414.1,1581.3 412.4,1582.9 407.6,1585.5 404.6,1586.5 396.1,1587.9 388.0,1588.2 382.7,1588.0 370.4,1586.3 355.4,1582.5 343.0,1578.1 327.4,1571.0 313.6,1563.4 299.0,1554.1 284.4,1543.3 274.4,1534.2 270.3,1529.7 266.9,1525.0 264.3,1520.1 263.2,1516.7 262.5,1512.4 262.6,1509.6 263.2,1507.2 265.4,1503.0 268.7,1499.8Z" fill="#f9bf00" fill-rule="evenodd"/>
<path d="M156.2,1518.5 164.6,1515.2 174.9,1513.4 187.6,1513.2 199.9,1514.8 210.0,1517.3 224.4,1522.8 236.9,1529.3 248.0,1536.3 259.9,1545.4 270.6,1555.3 278.5,1564.4 282.6,1570.4 285.0,1574.6 288.6,1583.4 289.7,1588.4 290.0,1592.9 289.7,1596.9 288.8,1600.5 287.3,1603.7 285.1,1606.8 283.0,1608.9 280.2,1610.8 276.9,1612.3 273.2,1613.5 269.1,1614.1 259.5,1614.2 248.1,1612.4 234.5,1608.6 216.6,1601.6 208.5,1597.8 197.8,1592.1 182.2,1582.3 169.3,1572.3 160.4,1563.6 154.2,1555.9 149.0,1546.4 147.3,1541.4 146.6,1537.5 146.4,1533.7 147.0,1529.7 148.4,1525.9 149.9,1523.7 152.2,1521.4ZM272.0,1503.3 276.2,1501.0 278.7,1500.1 284.4,1499.1 294.2,1499.3 303.7,1500.7 317.4,1504.0 332.2,1508.8 345.2,1514.1 357.1,1520.0 368.0,1526.7 380.2,1535.6 391.5,1545.4 399.3,1553.4 403.6,1558.7 406.6,1563.1 409.6,1569.6 410.3,1572.8 410.2,1575.3 409.5,1577.4 408.2,1579.4 404.6,1582.3 402.0,1583.4 395.5,1585.1 387.1,1585.8 382.2,1585.8 370.7,1584.5 357.4,1581.5 346.5,1578.0 333.5,1572.6 319.1,1565.2 304.0,1556.1 291.0,1546.8 280.2,1537.7 273.2,1529.9 270.0,1525.2 268.4,1521.8 267.2,1518.4 266.7,1514.7 267.0,1511.0 267.7,1508.7 269.1,1506.3Z" fill="#fd9d00" fill-rule="evenodd"/>
<path d="M159.4,1520.1 161.9,1518.8 167.7,1516.6 178.2,1514.9 186.6,1514.7 198.6,1516.0 209.1,1518.5 215.3,1520.5 223.6,1523.9 236.0,1530.3 244.9,1536.0 256.8,1545.1 265.6,1553.3 273.4,1562.4 278.7,1570.5 281.3,1576.2 282.9,1581.5 283.6,1586.1 283.6,1590.3 282.9,1594.0 281.6,1597.2 279.8,1600.0 277.7,1602.2 274.7,1604.4 271.5,1605.9 267.8,1607.0 263.6,1607.6 253.9,1607.5 242.2,1605.5 228.1,1601.2 211.1,1594.1 199.0,1587.8 184.6,1578.8 172.9,1569.8 163.9,1561.2 158.1,1554.0 153.2,1545.0 151.4,1539.1 151.0,1534.7 151.3,1531.1 152.2,1528.1 153.8,1525.1 155.8,1522.9ZM275.6,1507.1 279.7,1504.7 282.2,1503.8 288.0,1502.8 294.9,1502.8 306.4,1504.4 319.4,1507.6 332.0,1511.8 345.0,1517.3 354.5,1522.1 365.4,1528.9 377.6,1537.9 388.6,1547.7 394.9,1554.4 398.7,1559.5 401.3,1563.6 402.9,1567.2 403.7,1570.2 403.9,1572.8 403.4,1575.0 402.3,1576.9 400.9,1578.4 398.7,1580.0 396.1,1581.2 389.6,1582.8 385.6,1583.2 375.9,1583.1 363.9,1581.3 350.5,1577.7 340.2,1574.0 328.4,1568.7 316.9,1562.6 304.6,1555.0 291.9,1545.7 283.1,1538.0 276.5,1530.4 272.6,1523.6 271.2,1518.0 271.2,1515.2 271.9,1512.2 273.1,1509.9Z" fill="#fd7400" fill-rule="evenodd"/>
<path d="M165.4,1520.5 168.2,1519.3 174.5,1517.5 181.9,1516.6 190.6,1516.6 200.9,1518.0 210.9,1520.6 222.4,1525.0 234.6,1531.3 243.6,1537.1 253.3,1544.8 262.0,1553.1 268.4,1560.8 273.1,1568.6 275.8,1575.4 276.6,1578.8 276.9,1583.2 276.5,1587.0 275.4,1590.3 273.8,1593.2 271.5,1595.6 268.8,1597.5 265.6,1599.1 261.9,1600.1 257.7,1600.7 247.9,1600.4 235.8,1598.0 223.4,1594.0 211.8,1589.1 197.8,1581.8 185.2,1573.7 174.7,1565.5 167.7,1558.7 162.1,1551.6 158.0,1544.2 156.8,1540.4 156.1,1536.6 156.0,1534.2 156.5,1530.7 157.5,1528.0 159.0,1525.6 160.8,1523.6ZM281.4,1509.8 286.1,1507.8 291.9,1506.8 295.3,1506.7 303.3,1507.4 312.9,1509.2 325.7,1512.9 334.3,1516.1 344.6,1520.6 354.0,1525.6 364.7,1532.6 373.5,1539.2 383.7,1548.5 389.6,1555.0 393.9,1561.2 396.6,1567.1 397.0,1569.9 396.7,1572.3 395.8,1574.4 394.4,1576.1 392.4,1577.6 389.8,1578.7 383.2,1580.2 374.4,1580.5 363.2,1579.1 351.4,1576.2 339.9,1572.2 328.5,1567.2 315.0,1559.9 303.3,1552.3 293.1,1544.6 286.3,1538.3 280.9,1531.9 277.3,1525.2 276.1,1519.8 276.2,1517.2 277.0,1514.8 278.1,1512.9Z" fill="#f94400" fill-rule="evenodd"/>
<path d="M172.1,1521.2 178.4,1519.4 186.0,1518.6 195.1,1519.0 206.3,1521.1 215.3,1523.9 226.2,1528.7 235.6,1534.0 243.9,1539.9 251.4,1546.2 259.5,1554.8 264.9,1562.6 267.9,1569.0 269.4,1575.4 269.4,1579.4 268.6,1582.9 267.2,1585.9 265.1,1588.3 262.5,1590.3 259.3,1591.8 255.6,1592.8 251.4,1593.3 246.6,1593.3 235.2,1591.6 228.5,1589.8 218.4,1586.2 205.5,1580.3 194.5,1574.0 185.1,1567.6 177.0,1561.0 170.1,1554.0 165.3,1547.1 163.5,1543.4 162.2,1539.7 161.6,1533.8 162.2,1530.8 163.3,1528.1 165.0,1525.9 167.0,1524.0ZM288.0,1513.1 293.2,1511.6 299.9,1511.2 308.3,1512.1 315.0,1513.5 324.9,1516.3 334.3,1519.8 343.8,1524.1 353.1,1529.3 363.7,1536.5 371.4,1542.8 378.4,1549.4 384.5,1556.5 387.9,1562.2 389.4,1566.6 389.4,1569.2 388.7,1571.4 387.4,1573.2 385.5,1574.7 379.9,1576.7 372.1,1577.4 361.6,1576.5 355.3,1575.2 345.5,1572.3 332.6,1567.2 321.3,1561.6 311.3,1555.7 302.4,1549.6 294.5,1543.1 288.5,1537.0 283.8,1530.4 281.8,1525.1 281.5,1522.2 281.9,1519.7 282.8,1517.5 284.1,1515.7Z" fill="#f51400" fill-rule="evenodd"/>
<path d="M174.0,1525.0 179.6,1522.6 186.7,1521.3 194.2,1521.3 200.6,1522.1 206.6,1523.3 216.0,1526.4 224.1,1530.0 233.5,1535.3 241.5,1541.3 248.6,1547.8 253.5,1553.4 258.3,1560.9 260.5,1566.4 261.2,1571.0 260.7,1575.5 259.8,1577.9 257.9,1580.4 255.4,1582.4 252.3,1583.9 248.6,1584.9 241.0,1585.2 233.7,1584.3 225.7,1582.3 214.6,1578.3 205.2,1573.9 194.6,1567.7 187.8,1562.9 179.9,1556.4 173.7,1549.6 170.4,1544.2 168.3,1538.6 168.0,1534.7 168.3,1532.6 169.9,1528.8 171.7,1526.7ZM291.0,1519.2 295.4,1517.1 301.5,1516.2 308.3,1516.6 314.3,1517.5 323.3,1519.9 332.2,1523.1 340.1,1526.7 347.3,1530.5 356.0,1536.2 363.9,1542.3 369.7,1547.4 375.7,1554.0 378.9,1558.7 380.5,1562.4 381.0,1566.0 380.7,1567.8 379.6,1569.8 377.8,1571.4 375.4,1572.6 372.3,1573.3 364.1,1573.7 355.6,1572.6 345.8,1570.1 337.2,1567.1 328.3,1563.1 320.2,1558.8 312.9,1554.4 304.2,1548.3 297.0,1542.0 292.6,1537.1 289.4,1532.0 288.1,1528.4 287.9,1526.5 288.3,1522.8 289.4,1520.9Z" fill="#da0a00" fill-rule="evenodd"/>
<path d="M182.0,1526.7 188.4,1524.9 192.3,1524.5 197.7,1524.7 206.1,1526.0 212.8,1528.0 218.5,1530.3 226.1,1534.1 232.6,1538.3 238.2,1543.0 243.2,1548.0 248.4,1555.0 250.5,1559.6 251.6,1565.3 251.0,1568.8 249.5,1571.5 247.2,1573.6 244.2,1575.1 240.4,1576.0 235.9,1576.2 230.7,1575.8 224.6,1574.5 217.3,1572.2 208.3,1568.4 200.6,1564.2 193.4,1559.6 187.3,1554.8 182.1,1549.8 178.3,1544.6 176.5,1540.6 175.7,1536.1 176.2,1532.8 177.6,1530.2 179.5,1528.3ZM299.1,1523.8 301.5,1522.8 304.4,1522.2 307.8,1522.0 317.0,1523.1 322.3,1524.5 330.1,1527.1 338.2,1530.7 345.4,1534.7 351.8,1539.1 357.7,1543.7 362.9,1548.6 367.4,1553.8 369.8,1557.5 371.1,1561.6 371.2,1563.3 370.5,1565.5 368.9,1567.2 366.5,1568.4 363.4,1569.1 359.5,1569.3 354.7,1569.0 348.9,1567.9 341.9,1566.0 332.9,1562.6 325.1,1558.7 317.5,1554.4 310.8,1549.9 305.0,1545.2 300.2,1540.3 297.5,1536.6 295.7,1532.4 295.3,1529.3 295.9,1527.0 297.2,1525.1Z" fill="#be0000" fill-rule="evenodd"/>
<path d="M189.4,1531.3 192.3,1530.1 195.8,1529.4 200.1,1529.3 205.3,1529.9 213.6,1532.3 219.0,1534.8 223.8,1537.5 231.4,1543.6 234.5,1547.0 238.0,1552.4 239.2,1557.3 238.6,1560.6 236.8,1563.0 233.9,1564.6 230.1,1565.3 225.2,1565.1 219.2,1563.9 208.7,1560.0 198.5,1554.1 190.9,1547.7 188.2,1544.3 186.3,1540.7 185.9,1538.7 185.9,1535.8 187.2,1533.2ZM307.2,1531.1 309.5,1530.0 312.5,1529.5 316.4,1529.6 321.3,1530.4 329.3,1532.9 339.8,1538.0 348.2,1543.9 351.7,1547.2 356.2,1552.1 358.4,1556.3 358.7,1559.2 357.6,1561.2 355.3,1562.5 352.1,1563.1 347.7,1562.9 342.0,1561.8 331.7,1558.1 321.1,1552.6 312.7,1546.5 309.4,1543.2 306.8,1539.8 305.9,1538.0 305.2,1535.2 305.7,1532.8Z" fill="#930000" fill-rule="evenodd"/>
<polygon points="508.5,1524.7 733.7,1466.2 770.6,1488.2 537.6,1555.1" fill="#0000a0"/>
<path d="M513.1,1525.4 519.0,1523.0 544.7,1516.0 563.8,1511.3 571.1,1510.4 573.8,1511.4 577.6,1514.0 590.4,1524.9 598.0,1532.2 599.2,1533.8 599.5,1535.7 597.0,1537.3 594.0,1538.5 571.4,1545.4 547.4,1551.8 539.6,1552.9 536.3,1551.7 534.3,1550.2 524.7,1541.1 517.6,1533.5 513.9,1529.0 513.0,1527.4ZM579.5,1507.0 591.0,1503.3 614.3,1497.3 623.2,1495.3 629.9,1494.7 632.3,1495.5 638.1,1498.9 648.4,1506.4 656.6,1513.1 659.4,1516.0 659.8,1517.5 657.9,1519.0 646.7,1522.8 619.4,1530.6 609.5,1532.8 605.5,1533.0 602.9,1532.1 596.9,1528.0 587.0,1519.6 579.6,1512.7 577.4,1509.9 577.3,1508.5ZM637.5,1492.6 647.9,1489.4 672.0,1483.2 680.4,1481.4 683.9,1481.4 688.3,1483.1 692.1,1485.3 711.6,1498.4 714.6,1501.1 715.1,1502.3 713.5,1503.8 703.4,1507.4 681.4,1513.7 672.6,1515.9 669.4,1516.4 665.5,1516.4 660.8,1514.5 656.9,1512.0 639.9,1499.2 635.9,1495.2 635.6,1494.0 635.9,1493.6ZM688.6,1479.1 692.7,1477.1 709.9,1472.3 727.2,1468.1 733.2,1467.6 736.0,1468.3 740.0,1470.3 753.0,1477.8 763.9,1484.7 765.5,1485.9 766.4,1487.5 764.7,1488.6 762.6,1489.5 745.5,1494.7 727.2,1499.6 720.9,1500.5 717.7,1499.5 715.4,1498.4 704.0,1491.2 690.5,1481.8 689.1,1480.6Z" fill="#0000d0" fill-rule="evenodd"/>
<path d="M519.5,1523.8 535.4,1519.1 557.8,1513.5 567.4,1511.7 572.2,1512.2 576.6,1514.5 581.8,1518.5 589.8,1525.4 595.7,1531.3 596.8,1532.9 597.5,1534.6 596.1,1536.8 593.4,1538.2 577.7,1543.5 554.1,1550.0 543.4,1552.0 538.2,1551.4 533.6,1548.8 528.4,1544.3 521.1,1536.7 516.1,1530.6 515.2,1529.0 514.8,1527.2 516.6,1525.1ZM582.9,1506.2 594.3,1502.5 614.8,1497.2 624.9,1495.4 630.3,1495.6 633.1,1496.5 639.0,1499.9 647.7,1506.1 654.1,1511.5 656.8,1514.5 657.4,1516.2 656.6,1517.6 654.5,1519.0 640.4,1523.8 618.9,1529.7 611.0,1531.3 605.1,1531.0 602.1,1529.9 596.0,1525.9 587.7,1518.9 582.0,1513.4 579.8,1510.6 579.5,1508.9 580.6,1507.5ZM640.7,1492.7 653.7,1488.7 672.5,1483.9 678.8,1482.8 684.2,1483.0 687.1,1483.8 693.2,1487.1 709.0,1497.9 711.9,1500.5 712.6,1502.1 712.1,1503.3 710.3,1504.6 700.3,1508.3 680.8,1513.8 671.1,1515.7 665.2,1515.5 662.2,1514.5 655.8,1511.0 647.0,1504.6 640.8,1499.4 638.4,1496.7 638.0,1495.1 638.7,1493.9ZM693.4,1477.2 705.3,1473.5 722.7,1469.2 730.4,1468.0 734.7,1468.4 739.3,1470.1 745.1,1473.2 754.4,1478.6 761.4,1483.3 764.1,1486.0 763.7,1487.7 761.8,1488.7 747.6,1493.3 729.3,1498.3 723.7,1499.2 719.1,1498.8 716.4,1497.8 710.1,1494.3 699.2,1487.2 692.8,1482.5 690.5,1479.9 691.3,1478.3Z" fill="#0000f0" fill-rule="evenodd"/>
<path d="M523.0,1523.5 538.9,1518.9 558.2,1514.1 565.0,1513.0 570.1,1513.1 574.7,1514.6 579.4,1517.7 589.2,1526.0 594.7,1531.9 595.5,1533.6 595.4,1535.6 595.0,1536.2 592.7,1537.9 589.9,1539.3 577.4,1543.5 557.2,1549.1 546.2,1551.2 540.5,1551.2 535.6,1549.4 530.8,1545.9 523.1,1538.4 518.1,1532.2 516.6,1528.9 517.1,1527.0 520.1,1524.7ZM589.0,1504.2 603.4,1499.9 618.2,1496.5 624.8,1495.7 628.7,1495.8 631.6,1496.5 636.3,1498.5 643.6,1503.3 650.3,1508.6 654.5,1512.8 655.2,1514.5 655.0,1516.4 653.5,1517.8 648.5,1520.2 634.0,1524.7 616.9,1529.1 611.2,1529.8 607.7,1529.8 603.9,1529.0 599.8,1527.1 595.1,1523.8 587.0,1516.9 582.5,1512.2 581.5,1509.7 582.1,1507.8 583.8,1506.4ZM646.3,1491.7 659.4,1488.0 673.6,1484.6 679.2,1484.0 681.9,1484.0 685.5,1484.7 690.1,1486.4 696.2,1490.0 705.0,1496.0 709.5,1499.9 710.4,1501.4 710.3,1503.2 709.2,1504.3 704.9,1506.6 691.7,1510.9 677.3,1514.5 670.6,1515.3 667.7,1515.3 663.9,1514.6 659.1,1512.6 652.9,1508.7 646.1,1503.6 641.5,1499.3 640.0,1496.7 640.4,1494.9 641.7,1493.8ZM696.1,1476.4 705.7,1473.4 720.5,1469.7 728.6,1468.3 733.1,1468.4 737.6,1469.6 742.7,1472.0 752.1,1477.3 759.1,1481.9 762.0,1484.5 762.5,1486.1 761.0,1487.9 759.1,1488.9 747.3,1492.7 731.6,1496.9 725.7,1498.0 720.8,1497.9 716.0,1496.5 710.7,1493.7 699.7,1486.7 693.6,1481.9 692.5,1480.6 692.2,1479.1 694.1,1477.4Z" fill="#001ef5" fill-rule="evenodd"/>
<path d="M529.6,1522.2 545.5,1517.8 558.6,1514.8 565.7,1514.0 571.9,1514.7 576.8,1516.9 582.2,1520.9 590.0,1528.0 592.3,1530.4 593.5,1532.6 594.0,1534.4 593.1,1536.6 589.3,1539.1 583.4,1541.5 567.1,1546.5 553.2,1549.9 545.4,1550.9 543.0,1550.9 538.7,1550.1 533.6,1547.5 528.3,1543.1 521.1,1535.5 519.3,1532.9 518.3,1530.7 518.2,1528.9 519.5,1526.8 523.6,1524.4ZM597.9,1501.4 612.6,1497.7 622.1,1496.1 625.7,1496.0 629.9,1496.4 635.2,1498.3 641.2,1501.8 648.7,1507.6 652.1,1511.2 653.1,1512.7 653.5,1514.3 652.4,1516.5 650.3,1518.0 645.2,1520.2 639.6,1522.2 624.3,1526.4 614.1,1528.3 610.2,1528.5 605.7,1528.0 600.1,1525.7 594.1,1521.8 587.0,1515.6 584.1,1511.9 583.4,1510.4 583.2,1508.9 584.7,1506.7 587.0,1505.3ZM657.1,1489.4 670.8,1486.2 679.4,1485.2 683.9,1485.6 686.9,1486.4 693.6,1489.5 704.3,1496.7 707.1,1499.4 708.2,1500.8 708.7,1502.4 708.0,1504.1 706.3,1505.5 701.8,1507.6 694.0,1510.2 679.7,1513.9 670.5,1515.0 664.7,1514.4 657.6,1511.4 651.8,1507.7 645.3,1502.5 642.9,1499.8 641.7,1497.2 642.7,1495.1 644.6,1493.8 649.4,1491.8ZM701.2,1474.7 713.4,1471.3 723.6,1469.1 729.5,1468.5 735.0,1469.0 740.0,1470.8 747.9,1474.9 755.2,1479.4 759.8,1483.0 760.8,1484.4 760.7,1486.2 758.4,1488.1 754.1,1489.9 741.8,1493.6 731.1,1496.2 724.8,1497.0 718.8,1496.3 713.5,1494.4 707.4,1490.9 698.6,1485.0 694.5,1481.3 693.8,1479.9 694.1,1478.3 696.8,1476.4Z" fill="#003cfa" fill-rule="evenodd"/>
<path d="M539.4,1520.1 555.6,1516.3 565.4,1515.1 570.3,1515.6 573.4,1516.5 579.8,1520.1 584.8,1524.2 589.3,1528.5 591.6,1531.7 592.3,1533.4 592.4,1535.3 591.1,1537.3 588.7,1539.0 583.0,1541.5 573.5,1544.7 556.4,1549.1 545.7,1550.5 539.5,1549.7 537.2,1548.9 532.6,1546.2 527.4,1541.8 523.1,1537.2 520.1,1532.5 519.7,1529.4 521.5,1526.9 524.1,1525.3 530.0,1523.0ZM708.8,1472.4 721.4,1469.5 729.4,1468.6 733.8,1469.0 736.8,1469.7 743.6,1472.5 754.6,1479.1 757.6,1481.6 758.9,1482.9 759.6,1484.4 759.1,1485.9 757.6,1487.2 753.6,1489.1 746.5,1491.5 733.4,1494.9 724.8,1496.0 719.2,1495.4 712.1,1492.6 707.3,1490.0 700.8,1485.7 696.5,1482.0 695.1,1479.6 695.7,1477.7 697.4,1476.4 701.7,1474.6ZM590.2,1504.2 601.3,1500.5 616.3,1497.0 622.9,1496.2 626.8,1496.3 631.5,1497.2 636.4,1499.2 640.3,1501.6 645.5,1505.4 649.9,1509.5 651.6,1512.3 651.6,1514.5 649.5,1516.8 647.2,1518.1 636.1,1522.2 620.4,1526.1 613.3,1527.1 609.1,1527.0 604.1,1526.0 599.0,1523.6 595.0,1521.0 590.1,1516.9 586.2,1512.6 584.9,1509.8 585.3,1507.7 587.7,1505.5ZM647.6,1493.7 657.6,1490.3 671.4,1487.1 677.7,1486.4 682.1,1486.6 685.6,1487.3 690.6,1489.2 694.7,1491.4 700.1,1495.0 704.8,1498.8 706.6,1501.1 706.9,1503.5 705.3,1505.4 703.4,1506.6 693.4,1510.4 679.0,1514.0 672.3,1514.7 667.6,1514.6 663.9,1513.8 658.7,1511.6 654.5,1509.2 649.3,1505.4 645.0,1501.4 643.6,1499.1 643.6,1496.8 645.5,1494.9Z" fill="#005aff" fill-rule="evenodd"/>
<path d="M527.5,1525.0 539.8,1520.9 556.1,1517.1 563.2,1516.2 568.6,1516.4 572.1,1517.2 576.9,1519.5 582.5,1523.4 587.1,1527.7 590.5,1532.4 591.1,1534.2 590.2,1536.9 588.0,1538.8 585.4,1540.2 573.1,1544.7 555.9,1549.1 548.2,1550.1 542.3,1549.9 538.6,1548.9 533.6,1546.4 529.8,1543.5 525.3,1539.0 521.9,1534.3 520.9,1531.1 521.7,1528.8 524.7,1526.3ZM593.4,1503.1 604.7,1499.5 616.8,1496.9 623.7,1496.4 630.0,1497.0 635.3,1499.0 641.3,1502.5 646.2,1506.4 649.4,1510.1 650.2,1512.5 649.5,1514.5 646.4,1517.0 644.0,1518.2 632.6,1522.1 619.8,1525.1 612.4,1525.8 605.7,1525.0 601.5,1523.5 596.0,1520.2 591.0,1516.1 587.3,1511.8 586.6,1510.3 586.5,1508.6 586.8,1507.5 588.5,1505.6ZM650.6,1493.7 660.8,1490.5 672.8,1488.0 680.1,1487.7 687.1,1489.1 691.8,1491.1 695.8,1493.3 701.0,1497.0 704.1,1500.0 705.4,1502.7 704.9,1504.6 702.5,1506.6 700.4,1507.8 690.1,1511.4 678.4,1514.0 671.3,1514.6 665.4,1513.9 660.3,1512.2 655.4,1509.5 650.1,1505.7 646.1,1501.7 645.3,1500.2 645.1,1497.9 646.4,1496.1ZM700.0,1475.4 709.2,1472.3 721.9,1469.4 727.8,1468.7 731.3,1468.8 735.8,1469.5 740.8,1471.3 744.9,1473.3 750.6,1476.6 755.5,1480.1 757.8,1482.5 758.2,1484.3 756.9,1486.3 755.1,1487.4 746.0,1490.8 732.8,1494.1 726.6,1494.9 722.8,1494.8 718.0,1494.0 712.8,1492.0 708.6,1489.7 703.1,1486.2 698.5,1482.6 696.6,1480.1 696.4,1478.4 698.1,1476.5Z" fill="#0080ff" fill-rule="evenodd"/>
<path d="M530.8,1524.7 543.3,1520.8 556.5,1517.9 563.8,1517.2 570.8,1518.0 576.0,1520.2 581.7,1524.1 586.3,1528.4 589.4,1532.9 589.7,1535.0 588.8,1537.2 587.3,1538.6 582.0,1541.5 569.4,1545.8 555.4,1549.0 547.5,1549.9 544.3,1549.8 540.1,1549.0 534.6,1546.5 530.7,1543.7 526.1,1539.2 522.9,1534.4 522.3,1532.7 522.4,1530.9 523.1,1529.4 525.3,1527.4ZM599.4,1501.0 611.1,1498.0 620.9,1496.6 628.4,1496.9 634.2,1498.7 638.6,1501.0 643.8,1504.8 646.7,1507.5 648.5,1510.6 648.6,1512.4 647.2,1514.6 643.3,1517.1 638.0,1519.3 625.9,1522.7 615.5,1524.3 611.5,1524.4 607.4,1524.0 601.3,1521.9 597.0,1519.4 591.9,1515.4 589.4,1512.5 588.0,1509.4 588.1,1507.6 589.8,1505.4 594.0,1503.0ZM656.1,1492.9 666.8,1490.1 676.0,1488.9 679.6,1488.9 684.2,1489.5 690.9,1491.9 695.0,1494.1 700.1,1497.8 702.7,1500.5 703.8,1502.9 703.3,1505.1 701.7,1506.6 694.9,1509.8 683.9,1513.0 674.2,1514.4 667.1,1514.0 660.9,1512.2 656.4,1509.8 651.0,1506.0 648.3,1503.4 646.6,1500.4 646.6,1498.7 648.1,1496.7 651.3,1494.8ZM702.7,1474.4 712.1,1471.4 722.5,1469.2 728.5,1468.7 734.8,1469.4 740.1,1471.1 746.3,1474.1 751.7,1477.4 755.8,1480.9 756.8,1482.6 756.8,1484.3 754.4,1486.6 752.4,1487.6 743.1,1490.8 732.3,1493.3 725.8,1493.9 719.1,1493.2 715.7,1492.2 709.3,1489.1 703.8,1485.6 699.3,1482.0 698.2,1480.7 697.6,1479.2 697.7,1478.1 698.9,1476.5Z" fill="#00a7ff" fill-rule="evenodd"/>
<path d="M534.3,1524.4 546.9,1520.8 557.0,1518.8 564.8,1518.3 569.1,1518.8 572.5,1519.8 577.2,1522.1 582.5,1526.1 586.7,1530.6 588.3,1533.9 588.2,1536.0 586.6,1538.4 584.2,1540.1 578.6,1542.7 565.6,1546.8 554.9,1549.0 546.5,1549.6 541.9,1549.1 538.3,1547.9 533.5,1545.3 528.4,1540.9 524.7,1536.2 523.6,1532.8 524.0,1530.7 525.9,1528.4 528.5,1526.9ZM705.4,1473.5 715.0,1470.6 723.0,1469.1 729.6,1468.8 736.7,1470.0 741.6,1471.8 747.6,1474.9 752.6,1478.3 755.1,1480.9 755.8,1482.6 755.2,1484.4 753.7,1485.7 749.7,1487.7 740.0,1490.7 731.7,1492.5 724.6,1492.9 720.6,1492.5 717.1,1491.6 712.1,1489.6 706.1,1486.2 701.3,1482.6 699.2,1479.9 698.8,1478.3 699.6,1476.6 701.3,1475.3ZM594.6,1503.0 602.7,1500.0 614.8,1497.3 621.6,1496.6 625.6,1496.7 630.3,1497.5 635.5,1499.5 639.5,1501.9 642.9,1504.4 645.6,1507.2 647.1,1510.2 646.8,1512.3 644.8,1514.6 642.6,1516.0 634.5,1519.2 622.0,1522.3 614.7,1523.1 610.5,1523.0 605.5,1522.1 600.1,1519.8 596.1,1517.3 592.9,1514.5 590.5,1511.6 589.4,1508.6 590.0,1506.6 592.2,1504.3ZM652.0,1495.9 659.2,1493.1 670.4,1490.6 676.8,1490.0 681.0,1490.2 684.6,1490.9 689.9,1492.8 694.1,1495.0 697.6,1497.4 700.5,1500.0 702.1,1502.3 702.2,1504.8 700.8,1506.6 698.9,1507.9 691.7,1510.9 680.1,1513.7 673.3,1514.3 668.9,1514.1 665.1,1513.4 659.6,1511.3 655.4,1508.9 652.0,1506.4 649.3,1503.7 648.1,1501.3 648.3,1498.9 649.9,1497.1Z" fill="#00cdff" fill-rule="evenodd"/>
<path d="M540.8,1523.2 554.0,1520.2 562.6,1519.3 567.9,1519.7 571.3,1520.6 578.3,1524.1 583.3,1528.2 585.7,1531.3 587.1,1534.7 586.7,1536.8 584.5,1539.3 580.9,1541.4 571.9,1544.9 558.2,1548.4 548.9,1549.4 543.3,1549.0 539.6,1548.0 536.8,1546.8 532.5,1544.1 529.2,1541.1 526.6,1538.0 525.1,1534.7 525.0,1532.2 526.6,1529.6 529.0,1527.8 534.7,1525.3ZM710.5,1471.8 720.7,1469.4 727.9,1468.8 732.5,1469.1 735.8,1469.7 743.1,1472.5 748.7,1475.7 751.9,1478.1 754.2,1480.7 754.5,1482.3 753.5,1484.3 751.2,1485.9 744.6,1488.6 734.1,1491.2 726.5,1491.9 719.2,1491.2 715.3,1489.9 710.6,1487.8 703.5,1483.2 701.0,1480.6 700.0,1478.7 700.5,1476.7 701.9,1475.3 705.9,1473.3ZM597.8,1501.8 609.1,1498.4 618.1,1496.9 624.8,1496.8 631.9,1498.2 636.6,1500.4 640.3,1502.8 643.3,1505.5 645.4,1508.5 645.6,1510.2 644.9,1512.3 641.9,1514.8 639.4,1516.1 633.9,1518.2 627.9,1519.9 618.5,1521.6 611.3,1521.7 607.0,1521.0 603.8,1520.1 599.1,1517.7 595.5,1515.1 592.7,1512.2 591.1,1509.5 590.9,1507.4 591.9,1505.5 595.3,1503.0ZM654.9,1495.9 662.5,1493.4 672.2,1491.5 679.1,1491.3 686.3,1492.7 691.1,1494.7 695.0,1497.0 698.2,1499.5 699.9,1501.4 700.9,1504.0 700.2,1505.9 698.0,1507.9 695.9,1509.1 688.3,1511.8 678.2,1513.9 670.9,1514.2 666.6,1513.6 663.3,1512.7 658.4,1510.5 654.6,1508.0 651.6,1505.4 650.1,1503.4 649.4,1500.8 650.3,1498.9 652.7,1497.0Z" fill="#0fe1ef" fill-rule="evenodd"/>
<path d="M532.2,1527.4 541.2,1524.1 554.4,1521.1 561.8,1520.4 566.3,1520.6 570.1,1521.4 575.3,1523.6 579.2,1526.1 582.4,1529.0 584.8,1532.1 585.8,1534.8 585.1,1537.7 582.9,1539.8 580.4,1541.4 571.4,1545.0 557.7,1548.4 549.8,1549.2 545.0,1549.0 541.0,1548.1 535.6,1545.7 531.7,1542.9 528.8,1539.8 526.7,1536.6 526.1,1533.8 527.2,1530.9 529.6,1528.9ZM601.0,1500.7 609.7,1498.2 619.5,1496.8 627.3,1497.2 633.3,1499.0 637.6,1501.3 640.9,1503.8 643.4,1506.7 644.0,1508.3 644.1,1510.1 642.8,1512.3 641.1,1513.6 636.1,1516.1 627.3,1518.8 617.0,1520.4 613.0,1520.5 608.7,1520.0 602.5,1518.0 598.2,1515.5 595.0,1512.8 593.5,1510.9 592.4,1508.2 592.5,1506.5 594.1,1504.3 596.0,1503.0ZM660.4,1495.1 668.7,1493.2 677.0,1492.5 681.7,1492.8 685.0,1493.6 691.5,1496.3 697.2,1500.4 699.2,1503.3 699.3,1505.0 698.7,1506.4 697.2,1507.9 695.2,1509.2 690.4,1511.2 681.9,1513.3 673.1,1514.2 666.5,1513.4 659.5,1510.8 655.6,1508.3 652.6,1505.7 651.6,1504.2 650.9,1501.8 651.8,1499.7 653.5,1498.2ZM704.4,1474.2 711.0,1471.6 721.3,1469.3 727.4,1468.8 734.9,1469.5 740.1,1471.2 744.4,1473.2 751.2,1477.8 752.9,1479.9 753.3,1482.2 752.2,1483.8 750.6,1485.0 744.1,1487.7 733.5,1490.3 727.0,1490.9 723.1,1490.8 719.1,1490.1 713.6,1488.2 709.3,1486.0 705.8,1483.7 702.9,1481.2 701.4,1479.1 701.3,1476.9 702.6,1475.3Z" fill="#23eed9" fill-rule="evenodd"/>
<path d="M535.6,1527.1 544.8,1524.1 557.2,1521.7 564.5,1521.5 568.7,1522.2 571.9,1523.1 576.5,1525.5 580.0,1528.2 582.8,1531.2 584.4,1534.5 584.4,1536.4 583.2,1538.7 579.8,1541.4 577.1,1542.8 567.7,1546.0 560.8,1547.7 554.8,1548.7 546.9,1548.9 542.4,1548.2 539.2,1547.1 534.5,1544.5 531.1,1541.6 528.6,1538.5 527.5,1535.7 527.6,1533.1 529.1,1530.9 532.7,1528.4ZM707.0,1473.1 713.9,1470.8 723.7,1469.0 730.0,1468.8 736.9,1470.1 741.6,1471.9 745.6,1474.0 749.0,1476.3 751.5,1478.9 752.2,1480.3 751.9,1482.1 749.9,1484.1 748.0,1485.2 741.1,1487.7 730.9,1489.7 724.3,1489.9 717.0,1488.5 712.1,1486.5 708.2,1484.2 705.0,1481.8 703.0,1479.7 702.3,1477.7 702.7,1476.0 705.0,1474.1ZM596.7,1503.0 604.4,1499.7 613.4,1497.5 620.3,1496.8 624.2,1496.9 629.2,1497.8 632.1,1498.7 636.5,1501.0 641.2,1504.9 642.7,1508.1 642.0,1510.6 640.3,1512.4 638.0,1513.8 632.7,1516.0 623.4,1518.3 616.1,1519.2 612.0,1519.0 606.8,1518.1 603.8,1517.0 599.3,1514.6 596.1,1511.9 595.0,1510.5 593.8,1507.2 594.8,1504.7ZM656.3,1498.1 663.7,1495.5 672.5,1493.9 679.8,1493.9 684.9,1494.9 689.0,1496.5 693.0,1498.7 696.1,1501.3 697.2,1502.7 697.8,1504.3 697.6,1506.2 696.3,1507.9 694.4,1509.2 687.0,1512.1 677.9,1513.9 670.2,1513.9 664.8,1512.8 660.6,1511.1 656.7,1508.7 653.8,1506.0 652.8,1504.5 652.4,1502.9 652.7,1501.2 654.3,1499.4Z" fill="#37fcc3" fill-rule="evenodd"/>
<path d="M539.0,1526.8 548.5,1524.1 559.1,1522.6 563.1,1522.5 567.4,1523.0 573.3,1525.0 577.5,1527.6 580.6,1530.4 582.2,1532.5 583.2,1535.4 583.0,1537.3 581.3,1539.7 579.2,1541.3 573.6,1544.0 563.9,1547.0 552.7,1548.8 548.5,1548.8 543.9,1548.3 537.7,1546.1 533.6,1543.3 530.7,1540.3 529.3,1538.1 528.6,1535.2 529.1,1533.2 531.0,1530.9 533.3,1529.4ZM709.7,1472.1 716.9,1470.0 725.5,1468.8 732.8,1469.1 738.6,1470.7 743.0,1472.6 746.7,1474.8 748.8,1476.5 750.6,1478.6 751.1,1480.2 750.5,1482.0 749.2,1483.2 745.3,1485.3 738.0,1487.5 729.0,1488.9 721.3,1488.5 715.3,1486.8 710.8,1484.7 707.2,1482.4 705.3,1480.7 703.7,1478.5 703.4,1477.0 704.2,1475.2 705.7,1474.0ZM602.3,1500.5 610.9,1498.0 617.4,1497.0 625.3,1497.1 630.9,1498.5 637.2,1501.9 640.0,1504.6 640.9,1506.2 641.1,1507.9 640.4,1509.9 637.3,1512.6 634.8,1513.8 626.0,1516.5 619.2,1517.7 610.9,1517.5 605.0,1516.0 602.6,1514.9 598.8,1512.4 596.2,1509.5 595.4,1508.0 595.4,1506.2 596.3,1504.3 599.7,1501.7ZM659.3,1498.2 667.1,1495.9 673.3,1495.1 681.0,1495.4 687.2,1497.1 692.0,1499.7 695.0,1502.3 695.9,1503.7 696.3,1505.4 695.7,1507.3 693.5,1509.3 691.4,1510.4 683.4,1513.0 677.0,1513.9 672.0,1513.9 667.7,1513.3 664.4,1512.5 661.8,1511.4 657.8,1509.0 655.0,1506.3 654.1,1504.8 653.9,1503.2 654.8,1501.2 657.1,1499.3Z" fill="#5ffc95" fill-rule="evenodd"/>
<path d="M533.8,1530.4 542.5,1526.7 552.3,1524.4 560.4,1523.6 565.8,1523.9 568.8,1524.6 572.2,1525.8 576.5,1528.3 579.7,1531.2 580.8,1532.7 581.6,1534.4 582.0,1536.6 580.7,1539.3 578.6,1541.2 576.0,1542.7 570.0,1545.2 559.9,1547.8 551.3,1548.7 545.6,1548.3 542.4,1547.6 538.9,1546.2 534.6,1543.5 531.7,1540.5 530.7,1538.9 530.0,1537.2 530.0,1534.9 531.5,1532.3ZM605.6,1499.4 614.7,1497.3 621.9,1496.9 626.2,1497.4 629.4,1498.2 634.3,1500.3 637.6,1502.9 638.8,1504.4 639.5,1505.9 639.6,1507.7 638.4,1509.7 636.4,1511.3 631.4,1513.7 622.0,1516.0 614.8,1516.5 609.7,1515.9 606.6,1515.0 602.1,1513.0 600.0,1511.5 597.5,1508.6 596.9,1507.0 597.0,1505.4 598.4,1503.2 600.5,1501.7ZM706.3,1474.0 712.5,1471.1 720.1,1469.3 726.8,1468.7 734.4,1469.5 742.3,1472.4 747.5,1475.7 749.8,1478.7 749.6,1480.8 748.5,1482.3 742.4,1485.3 734.6,1487.2 727.6,1487.9 719.7,1487.1 716.2,1486.0 711.6,1484.0 706.6,1480.4 704.6,1477.4 705.0,1475.4ZM658.0,1500.6 662.5,1498.5 670.9,1496.6 677.9,1496.3 682.5,1497.0 689.0,1499.4 692.5,1501.9 693.7,1503.2 694.6,1504.8 694.7,1506.5 694.1,1507.7 692.6,1509.3 688.1,1511.5 679.5,1513.6 672.2,1513.8 667.4,1513.1 660.8,1510.5 657.4,1508.0 656.3,1506.6 655.6,1505.1 655.6,1503.3 656.3,1502.1Z" fill="#8ff95f" fill-rule="evenodd"/>
<path d="M537.1,1530.0 546.1,1526.8 556.4,1524.9 564.2,1524.8 570.1,1526.2 573.5,1527.8 577.2,1530.5 579.8,1533.5 580.5,1535.2 580.6,1537.1 579.9,1539.0 577.9,1541.1 575.4,1542.7 569.5,1545.2 559.3,1547.8 551.5,1548.5 547.3,1548.3 543.2,1547.5 540.1,1546.4 535.7,1543.7 532.8,1540.7 531.8,1539.1 531.2,1536.6 531.3,1535.5 532.3,1533.5 534.5,1531.5ZM708.8,1472.8 715.4,1470.3 723.6,1468.8 730.3,1468.8 735.9,1469.9 739.4,1471.1 743.5,1473.1 747.9,1476.8 748.6,1478.2 748.7,1479.7 747.7,1481.3 746.0,1482.5 739.4,1485.1 731.0,1486.7 723.9,1486.8 718.2,1485.6 714.6,1484.3 710.5,1482.1 706.3,1478.4 705.7,1476.9 705.9,1475.3 707.1,1473.9ZM601.3,1501.7 606.3,1499.4 615.4,1497.3 623.0,1497.1 628.0,1498.0 633.0,1500.1 636.3,1502.6 637.4,1504.1 638.0,1505.7 637.7,1507.6 635.6,1510.0 630.6,1512.5 621.2,1514.7 613.4,1514.9 608.2,1514.0 603.1,1511.8 599.9,1509.1 598.9,1507.6 598.4,1505.9 599.0,1504.1ZM660.9,1500.7 665.8,1498.9 672.9,1497.7 678.8,1497.8 684.4,1499.0 689.7,1501.6 691.2,1502.9 692.7,1504.8 693.1,1505.8 692.9,1507.6 691.6,1509.2 689.6,1510.5 684.7,1512.4 677.5,1513.7 671.2,1513.7 665.5,1512.3 660.2,1509.6 658.7,1508.3 657.4,1506.3 657.1,1505.3 657.5,1503.5 658.9,1501.9Z" fill="#bef528" fill-rule="evenodd"/>
<path d="M540.4,1529.7 549.9,1526.9 557.0,1525.9 560.9,1525.8 565.5,1526.2 571.7,1528.2 576.2,1531.3 578.7,1534.3 579.3,1536.0 579.2,1538.0 577.9,1540.3 574.8,1542.6 572.0,1544.0 562.4,1547.1 555.0,1548.2 549.3,1548.3 544.7,1547.6 541.4,1546.5 538.8,1545.3 535.1,1542.5 532.9,1539.3 532.5,1537.5 532.8,1535.6 534.4,1533.3 537.6,1531.0ZM711.4,1471.7 718.5,1469.5 724.3,1468.7 731.7,1469.0 737.8,1470.5 742.7,1472.8 745.9,1475.2 747.0,1476.5 747.5,1478.0 747.2,1479.7 745.3,1481.5 743.4,1482.6 736.2,1484.9 730.2,1485.8 722.5,1485.5 718.1,1484.5 711.3,1481.4 708.3,1479.0 707.3,1477.6 706.9,1476.1 707.4,1474.4 709.4,1472.7ZM607.0,1499.4 612.9,1497.8 619.9,1497.1 626.3,1497.8 631.7,1499.8 635.0,1502.4 636.0,1503.9 636.3,1505.6 636.1,1506.7 634.6,1508.6 629.8,1511.2 623.9,1512.9 616.6,1513.6 609.9,1512.9 604.5,1510.8 601.2,1508.1 600.3,1506.5 600.2,1504.8 601.1,1502.9 602.2,1501.9ZM659.9,1503.3 664.1,1500.9 669.5,1499.5 676.1,1499.0 680.9,1499.5 686.4,1501.4 689.9,1503.9 691.0,1505.3 691.4,1506.9 690.5,1509.1 686.4,1511.6 680.9,1513.1 674.1,1513.7 669.6,1513.2 663.5,1511.1 660.1,1508.6 659.1,1507.1 658.8,1505.5Z" fill="#daeb14" fill-rule="evenodd"/>
<path d="M538.2,1532.1 543.9,1529.6 553.9,1527.3 560.2,1526.9 566.5,1527.7 571.3,1529.4 573.4,1530.7 576.6,1533.5 577.5,1535.2 578.0,1536.9 577.7,1538.9 576.4,1540.7 574.1,1542.5 568.5,1545.2 558.2,1547.7 551.6,1548.2 545.0,1547.4 540.1,1545.5 537.9,1544.1 535.0,1541.1 534.1,1539.4 533.9,1537.6 534.4,1535.6 535.8,1533.9ZM710.1,1472.6 714.2,1470.7 721.9,1468.9 727.3,1468.6 732.9,1469.2 739.9,1471.5 745.0,1474.9 746.0,1476.3 746.4,1477.8 745.9,1479.2 744.6,1480.5 740.6,1482.6 732.7,1484.5 727.1,1484.8 721.2,1484.2 714.1,1481.8 710.5,1479.5 709.2,1478.2 708.3,1476.8 708.1,1475.3 708.7,1474.0ZM605.3,1500.5 610.6,1498.5 617.1,1497.4 624.5,1497.7 627.7,1498.5 632.1,1500.8 633.5,1502.1 634.4,1503.7 634.5,1505.4 633.5,1507.1 631.5,1508.7 626.1,1510.8 619.5,1512.0 615.5,1512.1 611.9,1511.7 608.5,1510.8 604.1,1508.4 602.8,1507.0 602.0,1505.5 602.1,1503.7 603.2,1502.0ZM662.8,1503.4 667.6,1501.4 673.6,1500.5 678.9,1500.7 682.4,1501.5 686.9,1503.6 689.4,1506.4 689.1,1508.8 687.6,1510.4 682.9,1512.5 676.7,1513.5 672.7,1513.4 667.6,1512.4 663.1,1510.2 661.6,1508.8 660.7,1507.3 660.8,1505.6Z" fill="#f5e100" fill-rule="evenodd"/>
<path d="M541.5,1531.8 547.6,1529.7 557.7,1528.1 563.5,1528.4 567.3,1529.2 570.0,1530.3 572.3,1531.5 575.4,1534.4 576.3,1536.0 576.6,1537.6 575.6,1540.5 573.5,1542.4 570.8,1543.9 564.7,1546.2 557.6,1547.6 553.7,1548.0 549.2,1547.8 543.8,1546.7 539.2,1544.3 536.2,1541.3 535.4,1539.6 535.2,1537.8 536.1,1535.7 538.8,1533.2ZM712.7,1471.5 717.2,1469.9 725.3,1468.6 730.4,1468.8 736.7,1470.3 742.7,1473.4 744.9,1475.8 744.9,1478.1 743.8,1479.6 742.0,1480.7 737.5,1482.4 732.0,1483.5 724.8,1483.6 719.8,1482.8 715.0,1481.0 711.4,1478.7 710.2,1477.4 709.4,1476.0 709.4,1474.4 710.9,1472.6ZM608.7,1499.4 614.6,1497.9 618.1,1497.5 622.3,1497.6 628.6,1499.4 632.0,1501.9 632.6,1503.5 632.2,1505.5 630.4,1507.2 628.1,1508.5 622.1,1510.2 618.5,1510.5 614.1,1510.4 610.4,1509.6 607.7,1508.6 604.4,1505.9 603.9,1504.3 604.4,1502.4 606.3,1500.7ZM664.0,1504.9 666.1,1503.7 671.5,1502.3 676.4,1502.1 680.5,1502.7 683.2,1503.6 685.3,1504.8 686.8,1506.1 687.5,1508.3 686.3,1510.2 684.3,1511.4 678.8,1513.0 673.8,1513.2 669.6,1512.5 666.8,1511.6 664.7,1510.4 663.4,1509.0 662.8,1506.8Z" fill="#f9bf00" fill-rule="evenodd"/>
<path d="M545.0,1531.7 551.5,1530.0 558.9,1529.3 565.8,1530.1 571.1,1532.3 574.2,1535.2 575.0,1536.9 575.1,1538.8 574.6,1540.1 572.7,1542.2 570.2,1543.9 567.3,1545.1 560.7,1547.0 552.9,1547.8 545.8,1546.9 542.7,1545.8 540.4,1544.5 537.5,1541.5 536.8,1539.8 536.9,1537.9 538.1,1535.7 539.5,1534.5ZM715.5,1470.5 720.5,1469.2 726.6,1468.6 732.8,1469.2 738.1,1470.9 741.8,1473.1 743.0,1474.4 743.7,1475.8 743.8,1476.8 742.9,1478.5 739.2,1480.7 734.2,1482.1 727.8,1482.7 721.4,1482.0 716.0,1480.2 712.4,1477.9 711.2,1476.6 710.6,1475.2 711.0,1473.5 711.7,1472.6ZM607.4,1501.0 609.7,1499.6 615.7,1498.1 619.3,1497.8 623.9,1498.3 626.7,1499.2 628.7,1500.4 630.0,1501.8 630.5,1503.5 629.2,1505.6 626.9,1507.0 621.0,1508.6 617.2,1508.9 612.5,1508.4 609.7,1507.4 607.6,1506.2 606.4,1504.7 606.0,1503.1ZM669.8,1504.4 672.7,1503.8 678.0,1504.0 681.3,1504.8 683.5,1505.9 684.8,1507.3 685.0,1509.0 684.7,1509.7 683.0,1511.2 680.5,1512.1 677.5,1512.7 673.8,1512.7 668.8,1511.7 666.7,1510.5 665.3,1509.2 665.2,1507.5 667.3,1505.3Z" fill="#fd9d00" fill-rule="evenodd"/>
<path d="M542.8,1534.1 548.7,1531.8 555.7,1530.6 559.7,1530.5 564.2,1531.0 567.3,1532.0 571.6,1534.6 572.9,1536.1 573.5,1537.8 573.5,1539.7 571.9,1542.0 569.5,1543.7 563.5,1546.1 556.3,1547.4 552.2,1547.5 547.5,1546.9 544.3,1545.9 540.0,1543.2 538.9,1541.6 538.3,1539.9 538.5,1537.9 540.3,1535.7ZM714.2,1471.4 718.6,1469.7 724.1,1468.7 731.6,1469.0 734.6,1469.8 739.1,1471.7 741.9,1474.2 742.5,1475.6 741.9,1477.4 740.4,1478.6 736.1,1480.5 730.4,1481.4 726.9,1481.6 722.7,1481.1 719.6,1480.3 715.0,1478.3 712.4,1475.8 711.9,1474.3 712.6,1472.6ZM609.0,1501.6 611.0,1500.0 613.7,1499.0 616.9,1498.4 621.0,1498.4 624.4,1499.2 626.6,1500.3 627.7,1501.8 627.6,1503.7 625.6,1505.3 623.0,1506.3 619.7,1506.9 615.4,1506.9 612.0,1506.1 609.8,1504.9 608.8,1503.4ZM671.4,1506.2 674.5,1505.7 678.6,1506.2 681.0,1507.3 682.1,1508.7 681.2,1510.6 678.9,1511.6 675.8,1512.1 671.6,1511.6 669.2,1510.5 668.1,1509.1 669.0,1507.2Z" fill="#fd7400" fill-rule="evenodd"/>
<path d="M543.5,1535.3 549.4,1533.0 556.4,1531.8 562.2,1532.1 565.8,1533.0 570.2,1535.5 571.4,1537.0 572.1,1538.8 570.9,1541.6 568.7,1543.5 562.8,1546.0 555.6,1547.2 551.2,1547.1 545.8,1546.0 543.3,1544.8 541.5,1543.3 540.3,1541.7 539.8,1540.0 540.6,1537.9ZM715.0,1471.4 719.3,1469.6 725.0,1468.7 728.6,1468.8 733.5,1469.6 738.1,1471.5 740.8,1474.0 740.8,1476.1 739.5,1477.6 735.3,1479.4 729.5,1480.4 725.7,1480.3 720.8,1479.5 716.1,1477.5 713.5,1474.9 713.5,1473.4ZM612.9,1500.8 615.3,1499.6 618.8,1499.2 621.0,1499.4 623.7,1500.5 624.4,1502.0 623.7,1503.1 621.3,1504.3 617.8,1504.7 615.5,1504.5 612.8,1503.4 612.2,1501.9ZM675.1,1509.6 675.1,1509.6Z" fill="#f94400" fill-rule="evenodd"/>
<path d="M544.3,1536.7 547.0,1535.2 553.5,1533.5 559.9,1533.3 564.0,1534.0 566.8,1535.1 568.7,1536.4 569.9,1538.0 570.2,1539.8 569.8,1541.1 567.8,1543.2 565.2,1544.7 558.6,1546.5 552.0,1546.8 547.8,1546.0 545.0,1544.8 543.0,1543.5 542.0,1541.8 541.8,1540.0 542.2,1538.7ZM716.1,1471.5 717.9,1470.4 722.8,1469.1 728.3,1468.9 732.0,1469.4 734.8,1470.2 738.5,1472.4 739.3,1473.8 739.4,1474.8 738.5,1476.4 736.7,1477.5 731.7,1478.9 726.1,1479.1 722.2,1478.5 719.4,1477.7 715.8,1475.4 715.0,1474.0 715.0,1473.0Z" fill="#f51400" fill-rule="evenodd"/>
<path d="M547.9,1536.6 550.9,1535.5 556.6,1534.7 561.9,1535.1 564.9,1536.1 566.9,1537.5 568.0,1539.1 568.2,1540.2 568.1,1541.0 566.8,1542.8 564.3,1544.4 561.2,1545.5 555.3,1546.4 549.9,1546.0 546.8,1544.9 544.9,1543.5 543.8,1541.9 543.7,1540.8 543.9,1540.0 545.3,1538.1ZM718.9,1470.5 721.1,1469.7 725.8,1469.0 730.5,1469.3 733.4,1470.1 735.6,1471.1 737.6,1473.1 737.7,1473.7 737.3,1475.1 735.6,1476.3 733.4,1477.2 728.7,1477.9 723.9,1477.5 720.9,1476.7 718.7,1475.7 716.8,1473.6 716.7,1473.0 717.2,1471.7Z" fill="#da0a00" fill-rule="evenodd"/>
<path d="M548.9,1538.1 551.9,1537.0 555.4,1536.4 559.2,1536.4 562.7,1537.3 564.9,1538.6 565.8,1540.2 565.5,1542.1 563.2,1543.9 560.2,1545.1 556.6,1545.7 552.7,1545.7 549.1,1544.8 547.0,1543.5 546.1,1541.8 546.6,1539.8ZM720.1,1470.7 722.3,1469.8 725.1,1469.3 728.7,1469.3 731.7,1470.0 734.0,1471.0 735.4,1472.2 735.7,1473.6 734.4,1475.0 732.2,1475.9 729.4,1476.4 725.7,1476.4 722.6,1475.7 720.3,1474.7 719.0,1473.5 718.7,1471.9Z" fill="#be0000" fill-rule="evenodd"/>
<path d="M550.3,1540.1 553.0,1538.7 556.8,1538.3 559.7,1538.7 562.3,1539.8 562.8,1541.6 561.7,1543.1 559.0,1544.5 555.2,1544.9 552.2,1544.5 549.6,1543.3 549.2,1541.5ZM721.8,1471.2 723.7,1470.1 726.8,1469.8 729.4,1470.1 732.0,1471.0 733.0,1472.3 732.6,1473.4 730.7,1474.4 727.6,1474.8 725.0,1474.5 722.3,1473.6 721.3,1472.3Z" fill="#930000" fill-rule="evenodd"/>
<polygon points="536.0,1553.5 556.7,1549.1 573.4,1544.7 589.8,1539.2 621.3,1527.6 636.5,1522.9 651.4,1519.4 680.1,1513.9 694.0,1510.2 707.5,1505.6 731.2,1496.4 743.9,1492.2 754.0,1489.7 768.7,1487.0 811.9,1512.8 570.9,1589.9" fill="#0000a0"/>
<path d="M539.5,1552.8 556.7,1549.1 570.1,1545.6 583.3,1541.5 599.5,1535.7 597.0,1537.3 590.9,1539.5 568.1,1546.3 547.4,1551.8 543.7,1552.6ZM608.9,1532.1 624.4,1526.5 636.5,1522.9 659.6,1517.8 657.9,1519.0 646.7,1522.8 619.4,1530.6 609.5,1532.8 606.3,1533.1ZM668.8,1516.1 688.4,1511.8 699.4,1508.5 714.9,1502.7 713.5,1503.8 706.1,1506.5 687.0,1512.2 672.6,1515.9 669.4,1516.4 666.5,1516.6ZM720.8,1500.4 733.8,1495.4 743.9,1492.2 754.0,1489.7 766.4,1487.5 764.7,1488.6 760.2,1490.3 740.4,1496.1 727.2,1499.6ZM542.6,1555.4 545.4,1553.7 548.6,1552.4 572.1,1545.2 595.3,1539.0 598.8,1538.3 602.9,1538.0 605.9,1539.1 610.1,1541.9 622.9,1552.7 633.4,1562.7 634.8,1564.5 635.3,1566.7 632.8,1568.5 629.7,1569.8 602.7,1578.8 581.1,1585.3 577.2,1586.2 572.8,1586.6 569.3,1585.2 567.0,1583.6 556.1,1573.0 547.9,1564.4 543.7,1559.3 542.6,1557.5ZM611.7,1535.5 623.5,1531.4 650.8,1523.6 660.2,1521.5 664.1,1521.4 668.9,1523.5 673.0,1526.2 684.6,1534.7 694.0,1542.3 697.2,1545.5 697.8,1547.0 695.9,1548.9 684.5,1553.4 659.4,1561.4 645.8,1564.9 641.4,1564.9 638.8,1564.0 636.3,1562.6 632.0,1559.4 622.5,1551.5 613.9,1543.6 609.8,1538.7 609.5,1537.2 609.8,1536.7ZM671.8,1517.4 682.4,1513.6 704.5,1507.2 713.0,1505.2 716.0,1504.7 719.7,1504.6 724.5,1506.4 728.7,1508.9 748.8,1522.2 754.1,1526.7 754.8,1528.1 753.3,1529.8 743.0,1533.7 717.3,1541.9 707.8,1544.3 703.7,1544.4 698.5,1542.1 694.1,1539.2 674.9,1524.7 670.3,1520.4 669.9,1519.0 670.1,1518.5ZM726.4,1502.2 736.1,1498.9 756.4,1493.1 764.1,1491.1 770.1,1490.3 773.1,1491.2 779.8,1494.6 802.5,1508.2 806.2,1511.0 807.2,1512.6 805.7,1514.0 796.3,1517.7 775.6,1524.3 767.3,1526.6 760.7,1527.4 757.4,1526.4 752.6,1523.9 730.3,1509.2 725.3,1505.1 724.6,1503.5Z" fill="#0000d0" fill-rule="evenodd"/>
<path d="M546.4,1551.4 570.1,1545.6 583.3,1541.5 595.8,1537.0 593.4,1538.2 584.2,1541.5 567.8,1546.4 554.1,1550.0ZM612.0,1530.9 633.5,1523.7 645.5,1520.7 654.5,1519.0 646.3,1522.0 631.4,1526.4 618.9,1529.7ZM671.6,1515.6 691.2,1511.0 710.3,1504.6 702.9,1507.4 692.2,1510.7 680.8,1513.8ZM726.0,1498.3 736.3,1494.6 746.5,1491.5 761.4,1488.2 763.5,1487.9 761.8,1488.7 752.6,1491.9 737.4,1496.2 726.5,1498.8 723.7,1499.2ZM549.3,1552.7 565.7,1547.1 589.1,1540.6 598.8,1538.8 604.1,1539.3 609.1,1541.8 615.0,1546.2 624.0,1554.1 630.8,1560.9 632.1,1562.7 632.9,1564.8 631.7,1567.2 629.0,1568.8 612.7,1574.7 588.0,1582.4 577.3,1584.8 571.4,1584.2 568.5,1582.8 562.2,1577.6 551.8,1567.2 546.1,1560.3 545.1,1558.5 544.6,1556.6 546.3,1554.2ZM615.3,1535.4 630.1,1530.4 651.4,1524.5 658.4,1523.1 664.4,1523.3 667.5,1524.3 674.1,1528.3 683.9,1535.4 691.2,1541.5 694.3,1544.7 695.0,1546.7 694.4,1548.2 692.3,1549.8 680.9,1554.5 658.8,1561.4 647.7,1563.9 644.3,1564.1 641.2,1563.7 637.8,1562.5 631.0,1558.0 621.5,1550.2 615.0,1543.8 612.4,1540.4 612.1,1538.5 613.0,1537.0ZM675.1,1516.5 685.7,1512.6 705.1,1507.2 714.5,1505.3 720.1,1505.5 723.2,1506.4 730.0,1509.9 740.2,1516.4 747.9,1522.0 751.2,1525.1 752.1,1526.9 751.7,1528.2 749.9,1529.8 737.0,1534.7 716.6,1540.9 709.5,1542.5 706.3,1542.7 703.3,1542.3 700.0,1541.2 692.9,1537.0 682.9,1529.8 675.9,1524.0 673.0,1521.1 672.5,1519.3 673.1,1518.0ZM729.4,1502.2 741.6,1498.0 759.4,1493.1 766.9,1491.7 771.7,1492.0 776.9,1494.1 783.4,1497.6 801.6,1508.9 804.7,1511.8 804.4,1513.5 802.7,1514.8 790.8,1519.5 772.3,1525.1 764.3,1526.7 759.0,1526.3 756.0,1525.2 748.9,1521.4 738.6,1514.8 731.1,1509.4 727.9,1506.6 726.9,1505.0 727.5,1503.3Z" fill="#0000f0" fill-rule="evenodd"/>
<path d="M549.9,1550.6 570.1,1545.6 589.9,1539.3 570.8,1545.5 557.2,1549.1ZM618.2,1528.7 633.5,1523.7 648.5,1520.2 631.0,1525.6ZM677.3,1514.5 691.2,1511.0 704.9,1506.6 691.7,1510.9ZM728.6,1497.3 743.9,1492.2 754.0,1489.7 760.0,1488.5 759.1,1488.9 742.2,1494.2 731.6,1496.9 727.4,1497.8ZM553.0,1551.6 566.1,1547.1 586.1,1541.5 596.8,1539.5 601.9,1539.6 607.5,1541.4 612.3,1544.6 621.6,1552.3 628.3,1559.0 630.7,1562.8 630.6,1565.1 628.1,1567.6 625.3,1569.2 612.3,1574.0 591.2,1580.5 582.7,1582.6 579.6,1583.1 574.0,1583.0 570.1,1581.9 567.9,1580.8 563.0,1577.0 554.2,1568.3 548.4,1561.4 547.0,1559.2 546.6,1557.7 547.1,1555.5 550.0,1553.0ZM621.6,1534.2 636.5,1529.5 652.5,1525.3 658.9,1524.5 661.8,1524.5 665.8,1525.3 670.7,1527.4 677.4,1531.8 686.9,1539.1 691.6,1543.9 692.6,1545.8 692.4,1548.0 691.1,1549.4 686.2,1552.2 671.2,1557.6 654.9,1562.2 647.3,1563.3 644.0,1563.3 639.7,1562.4 634.6,1559.9 627.9,1555.1 620.6,1548.8 615.8,1543.6 614.3,1540.3 614.9,1538.2 616.4,1536.8ZM680.9,1514.4 694.4,1510.0 708.5,1506.5 715.0,1505.6 719.0,1505.8 721.7,1506.4 727.0,1508.5 735.5,1513.5 743.4,1518.9 748.5,1523.4 749.6,1525.1 749.7,1527.1 748.7,1528.4 744.3,1531.0 730.8,1535.7 715.4,1540.1 709.0,1541.0 704.5,1540.8 701.7,1540.2 696.5,1537.9 691.6,1534.9 681.8,1527.7 676.5,1523.0 674.7,1520.1 675.0,1518.1 676.2,1516.8ZM732.4,1502.0 742.0,1498.7 757.3,1494.4 763.0,1493.2 769.9,1492.9 775.9,1494.6 780.7,1497.0 793.2,1504.3 800.8,1509.5 802.2,1511.0 802.8,1513.0 801.7,1514.6 799.8,1515.8 790.3,1519.6 774.6,1524.4 765.5,1526.1 761.0,1526.1 754.6,1524.2 749.6,1521.6 739.1,1515.0 731.8,1509.5 729.1,1506.6 728.8,1504.9 730.3,1503.1Z" fill="#001ef5" fill-rule="evenodd"/>
<path d="M556.7,1549.1 570.1,1545.6 583.4,1541.5 570.5,1545.6ZM627.4,1525.6 639.6,1522.2ZM688.4,1511.8 694.0,1510.2ZM733.8,1495.4 746.5,1491.5 754.1,1489.9 741.8,1493.6ZM559.8,1549.2 576.4,1544.1 590.1,1540.8 597.6,1539.8 603.8,1540.6 609.3,1543.0 617.3,1548.9 624.3,1555.4 626.4,1557.7 628.4,1560.8 629.0,1562.9 628.1,1565.4 624.6,1568.1 618.5,1570.8 601.6,1576.5 587.0,1580.6 578.7,1581.7 571.9,1580.8 566.1,1578.0 560.0,1572.9 551.9,1564.3 550.1,1562.0 548.6,1558.8 548.4,1556.7 549.8,1554.3 553.6,1551.8ZM633.9,1531.2 649.4,1527.1 658.9,1525.9 664.0,1526.4 667.3,1527.3 674.5,1531.1 680.6,1535.3 686.0,1539.9 689.1,1543.2 690.2,1544.9 690.7,1546.9 689.9,1549.0 687.8,1550.7 682.6,1553.4 673.8,1556.7 657.6,1561.4 647.2,1562.8 640.8,1562.1 638.3,1561.2 633.0,1558.4 626.7,1553.8 619.9,1547.4 617.3,1544.0 616.2,1540.8 617.4,1538.3 619.7,1536.6 625.1,1534.1ZM692.1,1510.7 706.2,1507.0 715.2,1505.9 720.0,1506.3 723.2,1507.2 730.6,1510.7 736.9,1514.5 742.6,1518.7 745.9,1521.6 747.2,1523.2 747.9,1525.1 747.4,1527.0 745.7,1528.5 741.1,1531.0 733.1,1534.0 718.4,1538.2 708.8,1539.5 702.6,1538.8 694.7,1535.5 689.6,1532.3 682.6,1527.0 678.0,1522.4 676.5,1519.5 677.4,1517.2 679.3,1515.7 684.1,1513.4ZM737.6,1501.0 750.0,1497.1 760.6,1494.6 766.8,1493.9 772.1,1494.5 777.7,1496.4 784.4,1499.9 794.6,1506.1 799.8,1510.3 801.1,1512.5 800.9,1513.9 798.9,1515.7 794.7,1517.9 782.2,1522.2 771.1,1525.1 764.4,1525.9 758.6,1525.2 752.7,1523.0 745.8,1519.2 736.0,1512.5 731.4,1508.3 730.4,1506.1 730.9,1504.7 733.2,1503.0Z" fill="#003cfa" fill-rule="evenodd"/>
<path d="M566.8,1546.6 573.5,1544.7ZM741.4,1492.9 746.5,1491.5ZM554.2,1552.0 560.3,1549.2 566.8,1547.0 583.6,1542.3 594.4,1540.3 598.5,1540.2 602.1,1540.6 608.2,1542.9 612.7,1545.7 620.3,1551.9 625.0,1557.0 627.1,1560.7 627.2,1563.0 626.2,1565.0 623.8,1566.9 618.0,1569.9 611.5,1572.4 594.0,1577.8 582.3,1580.1 577.7,1580.3 573.8,1579.8 570.2,1578.6 567.4,1577.1 562.8,1573.9 557.3,1568.8 552.8,1563.6 550.6,1559.9 550.0,1556.7 550.3,1555.7 551.6,1553.8ZM623.1,1536.5 634.5,1532.2 650.0,1528.2 657.0,1527.3 662.0,1527.5 665.8,1528.3 671.2,1530.7 675.7,1533.3 681.5,1537.7 686.5,1542.4 688.4,1545.2 688.6,1548.1 686.8,1550.5 684.5,1552.1 679.1,1554.6 673.2,1556.8 663.7,1559.7 656.9,1561.3 649.3,1562.4 644.0,1562.2 639.9,1561.2 634.2,1558.6 629.7,1555.6 624.1,1550.9 619.7,1546.0 618.2,1543.1 618.4,1540.2 620.6,1537.9ZM682.4,1514.5 692.7,1510.5 706.9,1506.9 713.5,1506.1 717.4,1506.2 721.9,1507.1 727.3,1509.2 731.9,1511.6 738.0,1515.5 743.3,1519.8 745.5,1522.4 746.0,1525.1 744.6,1527.3 742.6,1528.7 732.5,1532.9 717.6,1537.0 710.6,1538.0 706.3,1537.9 701.5,1537.0 695.8,1534.5 691.2,1531.8 685.2,1527.6 680.4,1523.1 678.6,1520.5 678.5,1517.9 680.2,1515.8ZM734.0,1503.9 738.2,1501.8 742.9,1500.1 755.7,1496.5 764.4,1495.1 770.7,1495.4 776.8,1497.2 781.6,1499.4 788.1,1502.9 794.0,1506.8 797.4,1509.6 799.2,1511.8 799.5,1512.8 799.3,1514.1 798.0,1515.7 794.0,1517.9 789.4,1519.8 776.2,1523.8 767.0,1525.5 760.1,1525.2 753.7,1523.2 748.7,1520.7 742.3,1516.8 736.7,1512.8 733.6,1509.9 732.1,1507.7 732.0,1506.7 732.4,1505.4Z" fill="#005aff" fill-rule="evenodd"/>
<path d="M557.8,1550.6 570.5,1545.8 587.6,1541.5 595.1,1540.5 599.5,1540.6 604.2,1541.6 609.6,1544.1 613.9,1547.0 619.4,1551.7 623.9,1556.8 625.5,1559.9 625.3,1563.1 623.0,1565.7 620.4,1567.4 614.3,1570.2 607.7,1572.6 597.2,1575.8 589.7,1577.6 581.5,1578.8 576.7,1578.8 571.7,1577.6 566.1,1574.7 561.8,1571.5 556.6,1566.3 552.7,1561.0 551.5,1557.8 552.3,1554.7 554.9,1552.2ZM626.4,1536.3 638.0,1532.3 651.5,1529.2 659.7,1528.7 664.2,1529.4 667.4,1530.4 672.5,1532.9 676.8,1535.6 682.4,1540.1 685.7,1543.7 687.0,1547.1 686.3,1549.4 683.6,1552.0 681.2,1553.4 669.5,1557.9 656.2,1561.3 648.3,1562.1 641.7,1561.3 636.0,1559.1 630.8,1555.9 625.1,1551.2 620.8,1546.2 620.0,1544.4 620.0,1541.5 621.6,1539.3ZM685.5,1513.3 696.0,1509.5 708.4,1506.7 716.1,1506.3 720.4,1506.9 723.6,1507.8 728.8,1510.1 733.2,1512.5 739.0,1516.6 742.6,1519.9 744.3,1523.0 744.0,1525.2 741.7,1527.4 739.5,1528.7 729.1,1532.8 716.9,1535.9 709.5,1536.6 703.2,1535.9 697.5,1533.9 692.1,1531.0 686.2,1526.7 681.5,1522.2 680.5,1520.6 680.0,1518.0 681.3,1516.0ZM736.7,1503.7 745.9,1500.1 759.1,1496.8 765.2,1496.1 769.3,1496.3 773.0,1497.0 778.5,1499.0 783.2,1501.2 789.4,1504.9 795.0,1508.9 797.1,1511.0 798.1,1513.8 797.0,1515.6 795.4,1516.9 791.1,1519.0 786.3,1520.9 772.7,1524.6 766.1,1525.4 761.7,1525.2 757.8,1524.4 751.9,1522.2 747.2,1519.7 741.0,1515.8 735.9,1511.6 733.6,1508.5 733.5,1506.7 734.8,1505.0Z" fill="#0080ff" fill-rule="evenodd"/>
<path d="M561.3,1549.3 574.2,1544.8 588.1,1541.5 595.9,1540.7 602.7,1541.5 608.6,1543.9 615.0,1548.3 620.2,1553.1 623.4,1557.6 624.2,1560.7 623.2,1563.3 619.7,1566.3 616.8,1567.8 603.8,1572.8 589.1,1576.6 580.7,1577.5 573.3,1576.6 568.4,1574.6 562.8,1570.7 557.5,1565.6 553.7,1560.2 553.1,1558.2 553.1,1556.1 553.6,1554.8 555.7,1552.5ZM632.6,1535.2 644.8,1531.7 655.1,1530.1 659.1,1530.1 664.1,1530.8 671.5,1533.8 675.9,1536.5 681.4,1541.0 684.2,1544.3 685.3,1547.3 684.5,1550.0 682.7,1551.8 680.3,1553.4 674.9,1555.9 662.4,1559.9 651.5,1561.7 647.1,1561.7 643.6,1561.3 636.7,1559.0 631.8,1556.1 626.1,1551.5 623.2,1548.1 621.5,1544.5 621.6,1542.4 623.4,1539.9 627.1,1537.5ZM691.2,1511.1 702.2,1507.9 711.8,1506.5 715.6,1506.4 720.5,1507.1 727.8,1509.7 732.3,1512.2 738.2,1516.3 741.2,1519.3 742.6,1522.0 742.2,1524.4 740.7,1526.2 733.9,1529.8 722.5,1533.4 712.4,1535.1 704.9,1534.7 698.1,1532.7 693.1,1530.1 687.1,1525.9 683.9,1522.8 681.8,1519.6 681.7,1517.7 683.0,1515.4 686.2,1513.2ZM739.4,1503.6 748.9,1500.2 760.3,1497.6 767.6,1497.3 775.0,1498.7 780.2,1500.8 784.7,1503.1 790.7,1506.9 794.5,1509.9 796.5,1512.8 796.4,1514.8 794.5,1516.9 792.7,1518.1 783.2,1521.9 772.0,1524.6 765.0,1525.2 759.0,1524.6 753.3,1522.7 747.9,1520.0 741.7,1516.1 736.7,1511.8 735.6,1510.3 734.8,1508.0 735.7,1506.1Z" fill="#00a7ff" fill-rule="evenodd"/>
<path d="M564.9,1548.0 578.0,1543.8 588.6,1541.5 596.7,1541.0 601.1,1541.5 604.6,1542.5 609.9,1545.1 616.0,1549.6 620.7,1554.6 622.6,1558.5 622.6,1560.7 621.0,1563.5 619.0,1565.1 613.2,1568.2 599.8,1572.9 588.5,1575.5 579.8,1576.2 575.0,1575.6 571.3,1574.4 565.9,1571.6 561.8,1568.2 557.0,1563.0 554.9,1559.3 554.5,1557.3 554.6,1555.5 556.4,1552.7 559.0,1550.8ZM744.5,1502.6 754.7,1499.7 763.5,1498.3 767.2,1498.3 771.8,1498.9 779.4,1501.5 784.0,1503.8 790.0,1507.6 793.3,1510.4 795.1,1513.1 794.9,1515.3 793.7,1516.9 787.6,1520.3 777.2,1523.5 767.9,1525.0 760.4,1524.7 753.7,1522.7 748.7,1520.3 742.4,1516.3 739.0,1513.5 736.6,1510.5 736.2,1508.8 737.1,1506.7 740.1,1504.5ZM627.9,1538.8 636.2,1535.3 648.7,1532.2 656.0,1531.4 660.6,1531.6 664.6,1532.4 670.3,1534.7 674.9,1537.4 678.7,1540.3 681.8,1543.6 683.4,1546.4 683.4,1549.5 681.7,1551.7 679.5,1553.3 671.3,1557.1 665.1,1559.1 658.2,1560.6 650.5,1561.5 645.6,1561.3 641.4,1560.4 635.4,1557.9 630.8,1554.9 627.2,1551.8 624.4,1548.4 623.2,1545.5 623.6,1542.5 625.5,1540.3ZM687.0,1513.2 694.5,1510.0 706.0,1507.2 712.7,1506.5 716.8,1506.6 721.0,1507.4 726.8,1509.4 731.4,1511.9 735.4,1514.5 738.7,1517.5 740.6,1520.0 741.0,1522.8 739.7,1524.8 737.8,1526.3 730.5,1529.7 724.8,1531.5 718.6,1532.9 711.4,1533.7 707.0,1533.6 702.6,1532.7 696.6,1530.4 691.9,1527.8 688.1,1524.9 685.0,1521.9 683.4,1519.3 683.4,1516.6 685.0,1514.6Z" fill="#00cdff" fill-rule="evenodd"/>
<path d="M559.6,1551.0 562.4,1549.4 568.6,1546.8 582.0,1542.9 593.1,1541.2 599.4,1541.5 603.4,1542.4 608.9,1544.9 613.2,1547.8 618.4,1552.7 620.7,1556.3 621.3,1558.6 620.3,1561.7 618.2,1563.9 615.6,1565.6 609.5,1568.5 602.8,1570.9 595.7,1572.9 583.7,1574.8 576.9,1574.5 572.7,1573.5 567.0,1570.6 562.7,1567.4 558.0,1562.2 556.1,1558.5 555.9,1556.2 557.3,1553.1ZM631.2,1538.7 639.8,1535.5 650.7,1533.2 658.4,1532.9 663.0,1533.5 666.4,1534.5 671.6,1537.0 675.8,1539.8 679.2,1542.9 681.6,1546.4 682.0,1548.4 681.2,1550.8 678.6,1553.3 676.2,1554.7 667.6,1558.2 656.1,1560.8 647.9,1561.2 643.1,1560.5 639.5,1559.4 634.1,1556.7 630.0,1553.6 626.8,1550.4 625.3,1548.0 624.8,1544.8 625.8,1542.4 628.7,1540.0ZM690.1,1511.9 697.8,1509.0 707.9,1506.9 715.2,1506.6 722.9,1508.1 728.2,1510.3 732.5,1512.8 736.2,1515.6 738.8,1518.8 739.5,1520.6 739.0,1522.8 736.9,1525.0 734.8,1526.4 727.0,1529.5 716.5,1531.9 708.8,1532.2 704.1,1531.6 700.6,1530.6 695.2,1528.2 690.9,1525.4 687.5,1522.5 685.7,1520.4 684.8,1517.5 685.5,1515.3 687.9,1513.2ZM740.8,1505.5 747.5,1502.6 758.1,1500.0 764.4,1499.4 769.2,1499.6 773.0,1500.3 778.6,1502.3 783.3,1504.6 787.4,1507.1 790.9,1509.8 793.4,1512.6 793.9,1514.7 792.8,1516.9 791.1,1518.2 784.5,1521.3 773.6,1524.3 767.0,1525.0 761.8,1524.7 757.8,1524.0 752.0,1521.8 747.2,1519.3 743.2,1516.6 739.9,1513.8 737.8,1510.9 737.6,1508.9 739.0,1506.8Z" fill="#0fe1ef" fill-rule="evenodd"/>
<path d="M563.0,1549.4 572.3,1545.6 579.0,1543.6 586.1,1542.1 593.9,1541.4 598.5,1541.6 601.9,1542.3 607.8,1544.7 612.3,1547.6 615.9,1550.7 618.6,1554.2 619.6,1556.6 619.8,1558.3 619.3,1560.3 617.4,1562.7 614.9,1564.5 605.7,1568.7 598.8,1570.9 591.3,1572.6 582.9,1573.5 577.9,1573.2 574.3,1572.5 568.2,1569.8 563.8,1566.6 560.4,1563.2 558.0,1559.5 557.3,1557.1 557.4,1555.4 558.1,1553.5 560.3,1551.2ZM637.4,1537.6 646.8,1535.1 656.1,1534.2 661.3,1534.7 664.9,1535.6 672.0,1538.8 674.8,1540.7 678.1,1543.9 680.2,1547.5 680.2,1549.6 679.5,1551.3 677.7,1553.2 675.4,1554.7 669.9,1557.2 660.3,1560.0 650.4,1561.1 643.1,1560.1 638.0,1558.3 635.4,1557.0 631.2,1553.9 628.0,1550.7 627.0,1548.9 626.4,1545.9 627.5,1543.2 629.5,1541.4 631.9,1539.9ZM695.8,1509.7 704.3,1507.5 711.0,1506.7 714.9,1506.7 721.6,1507.8 728.7,1510.7 731.6,1512.5 735.2,1515.3 737.5,1518.5 737.9,1520.4 737.4,1522.0 735.9,1523.7 733.9,1525.1 729.0,1527.4 720.3,1529.9 711.1,1530.9 704.0,1530.1 696.3,1527.2 691.9,1524.5 688.6,1521.5 687.3,1519.9 686.4,1517.2 687.1,1514.8 688.8,1513.2 690.9,1511.8ZM743.5,1505.4 753.2,1502.1 761.5,1500.6 767.8,1500.6 775.1,1502.0 780.3,1504.2 784.7,1506.6 788.5,1509.2 791.5,1512.1 792.4,1513.8 792.4,1515.7 790.3,1518.3 788.4,1519.5 783.9,1521.5 778.7,1523.1 770.0,1524.7 763.3,1524.8 755.7,1523.2 750.3,1520.9 745.9,1518.3 742.3,1515.5 739.7,1512.7 738.9,1510.9 739.1,1509.0 741.5,1506.5Z" fill="#23eed9" fill-rule="evenodd"/>
<path d="M566.5,1548.0 576.1,1544.5 587.1,1542.0 595.7,1541.6 600.5,1542.2 603.9,1543.3 606.8,1544.5 611.3,1547.3 614.9,1550.5 617.7,1554.3 618.2,1556.0 618.3,1558.2 617.0,1560.9 614.2,1563.3 611.4,1565.0 601.7,1568.8 590.1,1571.6 581.0,1572.1 576.9,1571.6 572.2,1570.3 569.3,1568.9 564.8,1565.7 561.5,1562.3 559.1,1558.4 558.7,1556.7 558.9,1554.5 560.5,1551.9 563.6,1549.5ZM746.3,1505.3 753.7,1503.0 762.6,1501.6 766.2,1501.5 770.6,1502.0 776.9,1503.8 781.8,1506.1 785.9,1508.6 788.7,1510.8 790.5,1513.0 791.2,1514.7 790.8,1516.8 789.5,1518.3 785.6,1520.6 778.1,1523.2 768.8,1524.8 765.0,1524.8 760.3,1524.3 753.8,1522.3 748.8,1519.9 744.8,1517.2 742.2,1514.9 740.6,1512.8 740.1,1511.0 740.8,1509.0 742.3,1507.6ZM632.7,1541.2 641.1,1537.9 651.0,1535.9 659.1,1535.8 664.8,1537.1 669.3,1539.0 673.6,1541.7 676.9,1544.9 678.0,1546.7 678.6,1548.6 678.3,1551.0 676.7,1553.1 674.5,1554.7 666.1,1558.3 655.8,1560.6 647.2,1560.6 641.3,1559.3 636.7,1557.2 632.4,1554.2 629.4,1550.9 628.4,1549.1 628.0,1547.2 628.5,1545.0 630.4,1542.8ZM691.7,1511.8 699.2,1508.7 708.3,1506.9 716.1,1506.9 721.6,1508.0 726.1,1509.6 730.5,1512.1 734.0,1515.0 735.3,1516.6 736.2,1518.3 736.1,1520.5 734.9,1522.3 733.0,1523.8 725.5,1527.1 716.0,1529.1 707.9,1529.2 702.1,1528.0 697.5,1526.2 693.1,1523.5 689.8,1520.5 688.6,1518.9 688.0,1517.2 688.2,1515.2 689.7,1513.2Z" fill="#37fcc3" fill-rule="evenodd"/>
<path d="M573.3,1545.5 583.5,1542.7 593.5,1541.7 598.9,1542.2 602.6,1543.1 605.6,1544.3 609.6,1546.6 612.2,1548.6 615.3,1552.0 616.9,1555.9 616.7,1558.2 615.7,1560.0 613.5,1562.1 610.8,1563.8 604.6,1566.6 594.0,1569.6 583.4,1570.8 575.7,1569.9 570.6,1567.9 568.0,1566.5 564.1,1563.2 561.3,1559.7 560.4,1557.8 560.2,1554.5 561.9,1551.6 564.3,1549.6 567.1,1548.0ZM636.1,1541.2 645.0,1538.3 651.8,1537.2 655.8,1537.1 660.5,1537.5 667.2,1539.6 672.4,1542.8 675.6,1545.9 676.6,1547.8 677.0,1549.8 676.1,1552.2 673.6,1554.6 671.1,1556.1 662.1,1559.3 654.9,1560.5 649.2,1560.6 644.4,1559.8 640.9,1558.8 638.0,1557.5 633.7,1554.5 630.7,1551.2 629.9,1549.3 629.7,1547.3 630.8,1544.9 633.6,1542.6ZM694.8,1510.5 702.8,1507.9 709.2,1506.9 717.5,1507.1 724.1,1509.0 729.5,1511.8 732.9,1514.7 734.0,1516.3 734.6,1518.1 734.1,1520.3 732.0,1522.5 729.9,1523.8 721.7,1526.7 715.1,1527.8 711.2,1527.9 706.4,1527.5 701.6,1526.3 698.7,1525.1 694.2,1522.5 691.0,1519.5 690.0,1517.9 689.5,1516.0 690.3,1513.9 692.6,1511.8ZM743.1,1508.6 744.9,1507.4 749.3,1505.4 757.2,1503.4 764.4,1502.6 772.1,1503.5 776.0,1504.7 781.0,1506.9 786.9,1510.8 789.7,1514.3 789.7,1516.6 788.6,1518.3 786.9,1519.6 782.6,1521.7 774.5,1524.0 767.0,1524.8 758.8,1523.9 754.8,1522.6 749.7,1520.2 744.0,1516.1 742.7,1514.6 741.6,1512.5 741.8,1510.2Z" fill="#5ffc95" fill-rule="evenodd"/>
<path d="M567.7,1548.1 577.1,1544.4 587.8,1542.2 596.4,1542.0 602.0,1543.2 607.0,1545.4 611.2,1548.4 614.2,1551.8 615.1,1553.7 615.6,1555.8 614.7,1558.6 612.7,1560.9 610.1,1562.6 600.6,1566.6 589.4,1569.1 585.1,1569.5 580.3,1569.3 574.3,1568.0 569.3,1565.6 567.0,1564.0 563.7,1560.6 561.7,1556.8 561.5,1554.8 562.4,1552.4 565.0,1549.8ZM745.7,1508.4 752.4,1505.6 760.9,1503.9 768.0,1503.9 773.9,1505.1 777.7,1506.6 782.3,1508.9 787.4,1513.1 788.3,1514.7 788.5,1516.5 787.6,1518.3 786.1,1519.7 781.8,1521.9 773.8,1524.1 767.0,1524.7 763.1,1524.6 759.0,1523.8 755.8,1522.8 750.6,1520.5 745.0,1516.4 743.3,1514.2 742.9,1511.5 744.0,1509.7ZM634.5,1544.0 639.6,1541.4 649.1,1539.0 656.9,1538.6 662.0,1539.5 666.6,1541.1 669.1,1542.4 672.9,1545.4 674.2,1547.1 675.1,1548.9 675.1,1551.0 674.4,1552.6 672.6,1554.5 667.5,1557.3 661.3,1559.3 657.8,1559.9 649.6,1560.3 644.2,1559.4 639.5,1557.7 637.0,1556.3 633.3,1553.1 632.2,1551.4 631.5,1549.5 631.6,1547.4 632.5,1545.9ZM693.5,1511.8 698.1,1509.4 706.8,1507.2 714.2,1506.9 719.1,1507.6 726.2,1510.2 730.1,1512.9 731.6,1514.4 732.6,1516.0 732.9,1518.0 732.5,1519.4 731.0,1521.1 726.5,1523.6 720.9,1525.4 717.6,1526.0 709.9,1526.4 704.7,1525.6 697.5,1522.8 693.6,1520.0 692.3,1518.4 691.4,1516.8 691.3,1514.9 691.9,1513.5Z" fill="#8ff95f" fill-rule="evenodd"/>
<path d="M571.2,1546.7 581.1,1543.5 588.5,1542.2 592.6,1542.0 597.4,1542.4 603.7,1544.2 608.1,1546.6 610.1,1548.2 613.0,1551.6 613.9,1553.5 614.0,1555.7 613.0,1558.2 609.4,1561.4 606.5,1563.0 596.5,1566.5 588.7,1567.9 584.3,1568.1 579.3,1567.7 573.2,1566.0 570.5,1564.6 566.4,1561.4 563.7,1557.9 563.0,1555.9 563.1,1553.7 564.4,1551.2 568.3,1548.1ZM748.4,1508.3 755.7,1505.9 761.7,1505.0 769.6,1505.3 776.2,1507.2 781.5,1509.8 785.1,1512.5 786.3,1514.0 787.1,1515.7 786.9,1517.7 785.2,1519.7 783.3,1521.0 776.0,1523.6 769.7,1524.6 764.8,1524.6 760.3,1524.0 756.8,1523.1 754.0,1522.0 749.3,1519.5 745.9,1516.7 744.7,1515.1 744.1,1513.4 744.6,1511.4 746.5,1509.5ZM637.8,1544.0 643.4,1541.7 651.3,1540.2 658.0,1540.3 664.1,1541.8 669.8,1544.9 671.5,1546.5 673.1,1548.9 673.4,1550.1 673.1,1552.4 671.5,1554.3 669.3,1556.0 663.6,1558.4 655.5,1560.0 648.5,1560.0 642.1,1558.3 638.5,1556.5 636.4,1555.0 634.8,1553.4 633.4,1551.0 633.2,1549.7 633.7,1547.5 635.5,1545.5ZM696.6,1510.5 701.6,1508.4 708.9,1507.1 715.4,1507.1 721.3,1508.4 727.1,1511.2 728.9,1512.6 730.6,1514.7 731.1,1515.8 731.1,1517.8 729.9,1519.6 727.9,1521.1 722.9,1523.2 715.4,1524.7 708.6,1524.7 702.5,1523.3 696.7,1520.4 695.0,1518.9 693.4,1516.7 693.0,1515.6 693.2,1513.6 694.6,1511.9Z" fill="#bef528" fill-rule="evenodd"/>
<path d="M574.9,1545.4 585.3,1542.8 593.4,1542.2 598.2,1542.8 601.8,1543.8 607.0,1546.4 610.6,1549.6 611.8,1551.4 612.5,1553.4 612.5,1555.6 611.0,1558.2 608.6,1560.2 602.8,1563.2 595.9,1565.3 592.1,1566.1 583.7,1566.8 578.2,1566.1 574.7,1565.0 570.0,1562.5 567.5,1560.5 565.7,1558.3 564.5,1554.9 564.7,1552.8 566.5,1550.2 569.0,1548.3ZM747.3,1510.6 751.4,1508.4 759.4,1506.4 764.6,1506.1 771.0,1506.8 778.4,1509.4 782.5,1511.9 784.1,1513.4 785.3,1514.9 785.8,1516.7 785.5,1518.1 784.3,1519.7 780.3,1522.1 772.2,1524.2 766.7,1524.6 760.0,1523.8 752.5,1521.1 748.4,1518.4 746.9,1516.9 745.9,1515.4 745.5,1513.6 745.9,1512.2ZM636.6,1547.1 641.4,1544.2 647.5,1542.3 654.9,1541.7 660.2,1542.3 666.2,1544.6 670.0,1547.6 671.1,1549.4 671.5,1551.4 670.3,1554.1 668.2,1555.8 665.7,1557.2 659.4,1559.1 651.7,1559.9 646.7,1559.3 642.8,1558.1 640.0,1556.8 636.4,1553.6 635.4,1551.8 635.1,1549.8ZM695.8,1512.0 699.9,1509.3 705.5,1507.7 712.5,1507.1 717.5,1507.6 723.6,1509.6 727.5,1512.3 728.8,1513.9 729.4,1515.7 728.6,1518.1 726.8,1519.6 724.6,1520.9 718.9,1522.6 711.7,1523.3 706.9,1522.8 700.3,1520.6 696.4,1517.8 695.3,1516.2 694.7,1514.4Z" fill="#daeb14" fill-rule="evenodd"/>
<path d="M569.7,1548.4 575.6,1545.5 582.3,1543.5 586.0,1542.8 589.9,1542.4 594.4,1542.5 599.8,1543.5 605.8,1546.2 609.3,1549.4 610.5,1551.2 611.1,1553.3 610.6,1555.6 607.8,1558.9 602.1,1562.0 595.2,1564.1 591.3,1564.8 587.2,1565.3 582.5,1565.2 576.8,1564.2 573.2,1562.7 570.8,1561.2 567.4,1557.8 566.4,1555.9 566.0,1553.9 566.7,1551.6ZM750.0,1510.5 754.6,1508.7 762.3,1507.3 768.0,1507.5 772.9,1508.5 779.6,1511.5 781.5,1512.8 783.8,1515.3 784.3,1518.0 783.3,1519.7 781.6,1521.0 777.1,1523.0 771.3,1524.3 763.7,1524.4 758.1,1523.2 751.3,1520.1 748.0,1517.2 747.1,1515.6 747.0,1513.7 748.2,1511.8ZM639.8,1547.0 645.3,1544.6 652.0,1543.4 657.9,1543.7 661.8,1544.6 666.7,1547.2 668.3,1548.8 669.4,1550.6 668.9,1553.6 667.1,1555.6 661.7,1558.1 654.7,1559.5 650.3,1559.4 644.6,1558.2 639.7,1555.4 638.1,1553.8 637.2,1552.0 637.5,1549.8ZM698.7,1510.6 703.6,1508.4 709.9,1507.3 713.9,1507.3 719.3,1508.3 724.3,1510.6 726.0,1512.1 727.2,1513.7 727.1,1516.3 725.7,1518.1 720.8,1520.4 714.4,1521.6 710.2,1521.5 704.7,1520.6 699.7,1518.1 698.0,1516.6 696.9,1515.0 696.9,1513.1Z" fill="#f5e100" fill-rule="evenodd"/>
<path d="M573.2,1546.9 579.5,1544.4 587.2,1542.8 595.4,1542.9 601.6,1544.5 606.5,1547.6 608.1,1549.3 609.2,1551.4 609.4,1553.2 608.6,1555.6 606.9,1557.5 604.4,1559.3 598.0,1561.9 590.0,1563.6 581.5,1563.6 575.0,1561.8 570.2,1558.6 568.7,1556.8 567.7,1554.7 567.7,1552.8 568.7,1550.4 570.5,1548.6ZM752.9,1510.6 758.0,1509.1 764.5,1508.5 770.5,1509.2 776.4,1511.2 780.5,1513.7 781.9,1515.2 782.8,1516.9 782.9,1517.7 782.2,1519.6 780.7,1521.1 778.6,1522.2 773.5,1523.8 766.8,1524.4 760.6,1523.7 754.6,1521.6 750.5,1519.0 749.2,1517.4 748.5,1515.8 748.8,1513.8 749.3,1513.1ZM641.1,1548.8 643.5,1547.3 649.6,1545.5 655.1,1545.2 659.6,1546.0 662.6,1547.1 664.9,1548.5 666.4,1550.1 667.1,1552.0 667.1,1552.9 665.7,1555.2 663.4,1556.8 660.5,1557.9 657.2,1558.7 651.5,1559.0 646.9,1558.2 643.8,1557.0 641.5,1555.6 640.1,1553.9 639.5,1552.0 639.6,1551.1ZM700.1,1510.9 702.2,1509.5 707.8,1507.8 712.9,1507.6 717.3,1508.2 720.3,1509.2 722.6,1510.4 724.3,1511.9 725.2,1514.3 724.2,1516.4 722.2,1517.8 716.5,1519.5 711.2,1519.8 706.8,1519.2 703.7,1518.1 701.4,1516.9 699.8,1515.4 699.0,1512.9Z" fill="#f9bf00" fill-rule="evenodd"/>
<path d="M571.4,1548.9 576.9,1545.6 583.6,1543.6 591.6,1542.9 597.1,1543.5 603.1,1545.9 605.2,1547.4 606.7,1549.1 607.6,1551.0 607.7,1553.1 606.0,1556.0 603.5,1557.9 600.6,1559.4 593.7,1561.6 585.4,1562.4 580.2,1561.9 576.2,1560.6 573.6,1559.2 571.5,1557.6 570.2,1555.8 569.4,1553.9 569.4,1551.7ZM751.9,1512.9 756.2,1510.9 762.1,1509.9 769.0,1510.2 772.5,1511.1 777.5,1513.3 780.6,1516.2 781.3,1517.9 781.0,1519.5 779.6,1521.0 775.3,1523.1 769.3,1524.2 765.6,1524.2 758.6,1522.9 753.5,1520.6 750.5,1517.7 750.0,1515.9 750.4,1514.4ZM647.6,1548.0 651.0,1547.3 656.9,1547.5 660.5,1548.5 662.8,1549.9 664.2,1551.5 664.4,1553.6 664.0,1554.5 662.0,1556.3 659.2,1557.5 655.8,1558.3 651.6,1558.3 646.1,1557.0 643.7,1555.6 642.4,1553.9 642.3,1551.8 642.8,1550.9 644.8,1549.1ZM706.1,1508.7 709.1,1508.1 714.8,1508.2 718.3,1509.1 720.7,1510.3 722.3,1511.8 722.7,1513.6 722.4,1514.4 720.7,1516.1 718.2,1517.1 715.1,1517.8 711.1,1517.9 705.7,1516.8 703.4,1515.5 701.8,1514.0 701.5,1512.2 701.9,1511.4 703.6,1509.8Z" fill="#fd9d00" fill-rule="evenodd"/>
<path d="M574.8,1547.3 580.9,1544.6 588.3,1543.3 592.7,1543.3 598.9,1544.5 603.7,1547.3 605.1,1549.0 606.0,1550.9 605.6,1553.2 604.9,1554.4 602.7,1556.5 596.5,1559.3 588.9,1560.8 584.3,1560.8 578.6,1559.7 575.2,1558.1 573.2,1556.5 571.8,1554.8 571.1,1552.8 571.6,1550.5 572.4,1549.3ZM754.8,1513.0 759.9,1511.5 763.1,1511.2 767.4,1511.3 774.0,1513.1 778.1,1515.7 779.3,1517.2 779.6,1519.2 778.5,1520.9 776.6,1522.1 771.5,1523.7 768.2,1524.1 763.8,1523.9 757.1,1522.1 753.0,1519.4 751.9,1517.8 751.7,1515.8 753.0,1514.2ZM649.3,1550.1 652.8,1549.5 657.4,1550.1 660.0,1551.4 661.2,1553.2 660.1,1555.5 657.4,1556.8 653.9,1557.4 649.2,1556.8 646.6,1555.5 645.5,1553.7 646.7,1551.4ZM707.9,1509.3 711.1,1508.7 715.5,1509.2 718.1,1510.4 719.5,1511.9 718.7,1514.0 716.4,1515.1 713.1,1515.7 708.6,1515.2 706.0,1514.0 704.7,1512.5 705.5,1510.4Z" fill="#fd7400" fill-rule="evenodd"/>
<path d="M581.7,1544.8 589.3,1543.6 593.9,1543.8 596.9,1544.5 600.0,1545.7 602.1,1547.2 603.5,1548.9 604.0,1550.9 603.2,1553.3 601.6,1555.0 598.9,1556.7 595.7,1557.9 592.0,1558.8 584.4,1559.1 580.0,1558.3 576.9,1557.0 574.8,1555.4 573.5,1553.7 573.1,1551.6 573.6,1549.9 575.7,1547.6 578.5,1546.0ZM754.2,1515.6 756.0,1514.3 761.1,1512.8 765.1,1512.6 769.5,1513.2 772.5,1514.1 774.9,1515.3 776.6,1516.7 777.7,1518.7 777.2,1520.7 775.4,1522.0 770.3,1523.6 766.2,1523.8 761.7,1523.2 758.6,1522.2 756.2,1521.0 754.5,1519.6 753.5,1517.6ZM653.3,1554.2 653.3,1554.2ZM712.1,1511.4 712.1,1511.4Z" fill="#f94400" fill-rule="evenodd"/>
<path d="M579.5,1546.3 582.7,1545.1 589.4,1544.0 594.8,1544.5 598.0,1545.7 600.2,1547.1 601.5,1548.9 601.9,1550.5 600.4,1553.3 597.8,1555.1 594.6,1556.3 587.7,1557.5 582.2,1557.0 578.9,1555.8 576.8,1554.2 575.5,1552.5 575.3,1550.9 576.8,1548.1ZM759.5,1514.8 762.4,1514.3 767.4,1514.4 770.9,1515.2 773.4,1516.4 775.0,1517.8 775.6,1519.6 775.5,1520.2 774.1,1521.8 771.9,1522.8 769.0,1523.3 765.2,1523.4 760.2,1522.3 757.8,1521.1 756.2,1519.7 755.7,1517.9 757.3,1515.8Z" fill="#f51400" fill-rule="evenodd"/>
<path d="M578.3,1548.8 580.7,1546.9 583.7,1545.5 587.4,1544.8 592.0,1544.8 595.7,1545.8 598.1,1547.2 599.2,1549.0 598.9,1551.3 596.6,1553.3 593.5,1554.7 589.8,1555.4 585.1,1555.5 581.3,1554.4 579.0,1553.0 577.9,1551.1ZM758.9,1517.5 761.1,1516.5 764.0,1516.0 768.8,1516.5 771.3,1517.7 772.9,1519.1 772.4,1521.3 770.2,1522.3 767.2,1522.8 762.4,1522.3 759.9,1521.1 758.4,1519.6Z" fill="#da0a00" fill-rule="evenodd"/>
<path d="M582.3,1547.8 585.1,1546.2 589.1,1545.7 592.5,1546.1 595.3,1547.4 596.0,1549.4 594.9,1551.2 592.1,1552.7 588.1,1553.2 584.6,1552.8 581.8,1551.5 581.1,1549.6ZM763.6,1518.7 768.2,1519.2 767.7,1521.3 763.0,1520.8Z" fill="#be0000" fill-rule="evenodd"/>
<polygon points="569.1,1588.1 590.7,1579.6 608.2,1573.6 625.2,1569.0 658.0,1561.4 673.8,1556.7 689.2,1551.0 715.9,1539.9 730.3,1534.8 744.3,1530.9 768.7,1525.7 781.9,1522.3 794.7,1517.9 809.7,1511.5 858.5,1540.5 609.5,1630.2" fill="#0000a0"/>
<path d="M572.8,1586.6 590.7,1579.6 604.8,1574.7 618.5,1570.7 635.3,1566.7 632.8,1568.5 629.7,1569.8 602.7,1578.8 581.1,1585.3 577.2,1586.2ZM645.1,1564.5 667.5,1558.7 680.0,1554.6 697.5,1547.6 695.9,1548.9 684.5,1553.4 662.6,1560.4 649.4,1564.1 645.8,1564.9 642.5,1565.1ZM707.1,1543.5 721.7,1537.7 733.1,1533.9 744.3,1530.9 754.7,1528.6 753.3,1529.8 743.0,1533.7 720.3,1541.0 707.8,1544.3 704.8,1544.5ZM763.4,1526.8 781.9,1522.3 794.7,1517.9 807.2,1512.6 805.7,1514.0 796.3,1517.7 778.3,1523.5 767.3,1526.6 764.3,1527.2 760.7,1527.4ZM579.2,1589.0 593.0,1583.8 620.8,1574.9 631.3,1571.9 634.9,1571.1 639.1,1570.7 642.5,1572.0 649.4,1577.0 661.9,1587.7 672.1,1597.1 675.7,1601.2 676.4,1603.7 673.9,1605.8 660.6,1611.5 631.6,1622.0 620.0,1625.6 615.9,1626.6 611.2,1627.0 607.5,1625.5 602.5,1621.6 592.2,1611.5 581.0,1599.5 576.6,1593.4 576.4,1590.9ZM648.3,1566.2 660.5,1561.4 685.6,1553.4 695.2,1550.8 698.6,1550.1 702.7,1550.0 708.0,1552.3 712.7,1555.3 725.8,1565.0 736.6,1573.6 740.4,1577.4 741.1,1579.2 741.0,1579.8 739.3,1581.3 727.6,1586.4 698.2,1596.9 687.4,1599.9 682.8,1600.1 679.9,1599.0 677.0,1597.2 672.2,1593.6 651.4,1575.5 646.5,1570.0 646.1,1568.3 646.4,1567.7ZM710.5,1547.0 721.5,1542.8 744.2,1535.5 756.0,1532.4 759.9,1532.3 762.7,1533.2 770.1,1537.3 795.0,1554.0 799.0,1557.4 799.9,1559.1 798.4,1561.0 787.9,1565.7 764.6,1574.1 755.1,1577.0 751.7,1577.7 747.4,1577.9 744.4,1576.8 741.5,1575.3 736.5,1572.1 714.6,1555.6 709.3,1550.5 708.6,1548.8 708.8,1548.3ZM766.8,1528.1 776.7,1524.2 797.4,1517.5 805.4,1515.3 811.7,1514.6 814.9,1515.5 822.3,1519.2 847.9,1534.6 852.1,1537.7 853.4,1539.5 852.0,1541.1 842.5,1545.2 818.6,1553.7 809.7,1556.3 805.8,1556.5 802.3,1555.4 794.4,1550.9 769.7,1534.4 766.0,1531.3 765.1,1529.6Z" fill="#0000d0" fill-rule="evenodd"/>
<path d="M580.0,1583.7 594.3,1578.3 608.2,1573.6 628.6,1568.2 631.1,1567.6 629.0,1568.8 616.1,1573.6 595.3,1580.3 580.4,1584.3 577.3,1584.8ZM648.4,1563.7 670.7,1557.7 692.3,1549.8 683.9,1553.4 671.7,1557.5 658.8,1561.4ZM710.1,1542.3 730.3,1534.8 741.5,1531.6 749.9,1529.8 742.4,1532.9 728.5,1537.5 716.6,1540.9ZM766.1,1526.3 784.4,1521.5 794.7,1517.9 803.9,1514.0 802.7,1514.8 795.8,1517.7 783.1,1522.0 772.3,1525.1ZM583.3,1588.7 600.4,1582.3 624.8,1574.8 634.7,1572.6 640.5,1573.0 646.1,1576.0 652.8,1581.2 663.2,1590.2 671.0,1597.9 672.7,1600.0 673.6,1602.4 672.6,1605.0 669.9,1607.0 663.5,1610.0 653.1,1614.2 627.2,1623.0 616.3,1625.6 609.8,1625.1 606.4,1623.5 599.2,1617.7 589.1,1607.6 582.1,1599.6 579.3,1595.4 578.8,1593.0 580.3,1590.5ZM652.2,1565.2 664.2,1560.3 686.2,1553.4 696.8,1551.0 700.1,1550.8 703.1,1551.2 706.6,1552.3 714.0,1556.7 725.1,1564.7 733.5,1571.7 737.2,1575.5 738.1,1577.8 737.6,1579.5 735.5,1581.4 729.9,1584.1 720.7,1587.8 697.5,1595.8 689.4,1597.8 685.8,1598.0 682.4,1597.6 678.7,1596.2 670.9,1590.9 660.1,1581.9 652.5,1574.6 649.5,1570.9 649.0,1568.7 649.8,1567.0ZM714.0,1547.0 727.7,1541.7 747.7,1535.6 754.8,1534.0 760.7,1534.2 764.0,1535.3 771.6,1539.5 785.3,1548.4 793.9,1554.8 796.2,1557.1 797.0,1558.6 796.7,1560.3 794.9,1562.0 784.5,1566.8 763.9,1574.1 753.0,1576.8 750.0,1576.9 746.5,1576.5 742.9,1575.3 735.0,1570.6 723.7,1562.4 715.5,1555.7 712.2,1552.2 711.4,1550.2 712.0,1548.6ZM770.0,1527.2 782.4,1522.3 800.7,1516.7 808.1,1515.3 813.3,1515.6 819.1,1517.8 826.4,1521.6 838.0,1528.5 847.0,1534.4 850.5,1537.9 850.4,1539.7 848.8,1541.2 836.8,1546.3 817.9,1552.9 809.8,1554.8 804.1,1554.4 800.7,1553.2 792.7,1548.7 778.8,1539.7 770.6,1533.7 768.8,1532.1 767.7,1530.4 768.1,1528.6Z" fill="#0000f0" fill-rule="evenodd"/>
<path d="M583.6,1582.3 604.8,1574.7 618.5,1570.7 625.3,1569.2 615.7,1572.8 602.0,1577.3 591.2,1580.5ZM654.8,1562.2 670.7,1557.7 686.2,1552.2 671.2,1557.6ZM715.9,1539.9 730.3,1534.8 744.3,1531.0 730.8,1535.7ZM768.7,1525.7 784.4,1521.5 799.8,1515.8 792.8,1518.7 785.3,1521.3ZM587.2,1588.2 600.8,1583.1 621.8,1576.6 629.4,1574.7 633.0,1574.2 638.1,1574.3 642.1,1575.3 644.8,1576.6 649.8,1580.1 660.5,1589.0 668.2,1596.7 670.1,1598.9 671.0,1601.0 671.2,1603.7 668.9,1606.5 666.0,1608.3 652.6,1614.1 630.5,1621.8 622.6,1623.9 618.2,1624.6 612.5,1624.6 608.2,1623.3 605.3,1621.7 600.1,1617.8 589.9,1607.8 583.1,1599.6 581.7,1597.3 581.0,1595.2 581.4,1592.6 584.2,1590.0ZM658.7,1562.7 674.1,1557.1 690.1,1552.6 697.4,1551.5 701.9,1551.7 704.8,1552.4 710.7,1555.0 720.0,1561.2 728.6,1567.9 734.2,1573.5 735.4,1575.6 735.4,1578.2 734.2,1579.8 729.2,1583.1 713.8,1589.2 696.1,1594.8 688.8,1596.0 683.8,1595.8 680.7,1595.0 674.9,1592.2 669.5,1588.3 658.9,1579.3 653.3,1573.5 651.4,1569.7 651.8,1567.3 653.3,1565.7ZM719.9,1545.6 733.8,1540.7 749.5,1536.2 755.1,1535.5 758.4,1535.5 762.5,1536.3 767.5,1538.3 775.6,1543.1 786.8,1550.7 792.8,1555.7 794.2,1557.7 794.6,1559.9 793.6,1561.6 789.2,1564.5 775.4,1570.1 760.0,1574.9 752.7,1576.2 749.1,1576.1 744.6,1575.2 738.4,1572.3 731.0,1567.5 722.3,1560.9 715.9,1555.2 713.9,1552.1 713.9,1549.9 715.2,1548.4ZM775.4,1525.0 788.0,1520.5 801.3,1516.7 807.4,1515.7 811.2,1515.7 815.2,1516.6 820.9,1518.9 830.5,1524.1 839.7,1529.7 846.1,1534.3 847.8,1536.1 848.6,1538.2 847.6,1540.0 843.6,1542.5 828.4,1548.4 814.3,1552.7 810.6,1553.2 806.4,1553.2 802.0,1552.2 796.0,1549.5 788.5,1545.1 777.3,1537.6 771.6,1533.1 770.2,1531.2 769.7,1529.2 771.1,1527.4Z" fill="#001ef5" fill-rule="evenodd"/>
<path d="M590.7,1579.6 604.8,1574.7 618.5,1570.8 601.6,1576.5ZM667.5,1558.7 673.8,1556.7ZM727.4,1535.7 733.1,1534.0ZM774.0,1524.5 784.4,1521.5 794.7,1517.9 784.8,1521.4ZM594.4,1586.4 611.7,1580.5 626.0,1576.6 634.0,1575.6 640.3,1576.4 646.5,1579.2 653.5,1584.3 663.7,1593.5 667.2,1597.5 668.5,1599.7 669.3,1603.0 668.4,1605.2 665.1,1608.0 659.0,1611.3 641.4,1618.1 626.0,1622.7 617.1,1624.0 610.1,1623.0 603.6,1619.7 596.6,1613.9 587.2,1603.9 584.3,1599.7 583.3,1597.5 583.1,1594.2 584.3,1592.1 588.0,1589.5ZM671.5,1558.0 687.5,1553.4 697.5,1551.9 702.9,1552.4 706.5,1553.5 714.6,1557.8 721.5,1562.6 727.7,1567.7 731.3,1571.4 732.7,1573.5 733.4,1575.7 732.7,1578.1 730.8,1580.1 725.5,1583.2 716.4,1587.0 706.6,1590.5 699.6,1592.5 691.9,1594.0 688.6,1594.3 681.7,1593.4 678.9,1592.4 673.0,1589.2 667.4,1585.2 659.8,1578.5 654.9,1572.8 653.5,1569.1 654.6,1566.2 656.8,1564.3 662.4,1561.5ZM728.7,1543.4 743.0,1538.9 752.6,1537.1 756.4,1536.9 760.8,1537.4 767.3,1539.7 774.2,1543.4 784.5,1550.3 789.9,1554.9 792.4,1558.5 792.1,1561.2 790.4,1562.9 785.8,1565.7 780.5,1568.1 765.7,1573.2 755.4,1575.4 751.3,1575.7 746.5,1575.1 739.6,1572.5 731.8,1567.8 723.0,1561.2 717.7,1556.0 715.7,1552.4 716.5,1549.8 718.4,1548.1 723.3,1545.6ZM780.8,1523.0 793.7,1518.7 805.1,1516.2 809.3,1516.0 813.1,1516.4 817.2,1517.5 823.6,1520.3 832.3,1525.2 840.6,1530.5 845.1,1534.2 846.6,1536.4 846.3,1538.7 842.8,1541.5 838.2,1543.8 822.4,1549.4 813.0,1551.6 808.4,1551.9 804.3,1551.4 800.0,1550.1 793.2,1546.9 784.5,1541.4 776.6,1535.9 772.7,1532.1 771.5,1529.9 772.2,1527.7 776.1,1525.0Z" fill="#003cfa" fill-rule="evenodd"/>
<path d="M588.7,1590.7 595.0,1587.5 601.7,1584.8 619.2,1579.4 630.6,1577.2 635.1,1577.1 638.4,1577.5 642.3,1578.6 645.3,1580.1 650.4,1583.3 657.0,1588.6 662.8,1594.3 666.0,1598.5 667.3,1601.8 667.3,1603.3 666.5,1605.3 664.2,1607.7 658.3,1611.2 651.6,1614.1 633.3,1620.5 620.9,1623.1 616.0,1623.3 612.3,1622.8 608.1,1621.4 605.0,1619.8 599.8,1616.0 593.4,1610.1 588.2,1604.0 585.6,1599.7 584.7,1596.4 585.0,1594.9 586.1,1592.9ZM660.3,1562.9 666.0,1560.2 672.1,1557.9 681.6,1555.0 688.2,1553.4 695.6,1552.3 700.1,1552.4 705.0,1553.4 711.0,1556.0 716.0,1559.0 722.7,1563.9 728.4,1569.3 730.8,1572.6 731.3,1575.9 729.6,1578.6 727.3,1580.4 721.8,1583.3 715.7,1585.9 705.9,1589.3 698.8,1591.2 690.8,1592.4 685.9,1592.4 680.6,1591.2 674.3,1588.1 669.2,1584.7 662.8,1579.4 657.6,1573.7 655.7,1570.5 655.7,1567.2 657.8,1564.6ZM721.6,1548.0 732.1,1543.5 746.8,1539.3 753.6,1538.4 759.0,1538.6 763.0,1539.4 768.9,1541.9 774.0,1544.7 780.9,1549.2 787.1,1554.1 789.9,1557.3 790.6,1560.0 789.3,1562.7 787.3,1564.3 782.4,1567.0 777.0,1569.3 768.1,1572.3 761.6,1574.0 754.3,1575.2 748.5,1575.0 744.2,1573.9 737.9,1571.2 732.7,1568.0 726.0,1563.1 720.3,1558.0 718.0,1554.7 717.7,1552.0 719.4,1549.4ZM774.9,1526.4 779.1,1523.9 783.9,1521.9 797.0,1517.9 806.0,1516.3 812.4,1516.5 819.1,1518.5 824.5,1520.9 831.7,1524.9 838.4,1529.2 842.4,1532.3 844.3,1534.6 844.9,1536.0 844.8,1537.3 843.7,1539.1 839.8,1541.7 835.1,1543.9 821.7,1548.5 812.0,1550.4 805.1,1550.1 797.9,1547.9 792.4,1545.1 785.1,1540.7 778.7,1536.1 775.2,1532.9 773.6,1530.7 773.2,1529.3 773.5,1528.0Z" fill="#005aff" fill-rule="evenodd"/>
<path d="M592.4,1590.2 598.8,1587.2 605.6,1584.6 616.2,1581.4 623.5,1579.6 631.5,1578.5 636.5,1578.6 640.8,1579.6 646.9,1582.5 651.7,1585.8 658.1,1591.3 663.4,1597.2 664.7,1599.4 665.5,1601.8 665.3,1604.6 663.3,1607.3 660.6,1609.3 654.4,1612.6 647.5,1615.5 636.5,1619.3 628.7,1621.4 619.9,1622.7 614.7,1622.6 609.8,1621.4 603.4,1618.1 598.5,1614.3 592.5,1608.3 587.9,1602.0 586.9,1599.8 586.5,1597.4 587.2,1594.7 589.6,1592.1ZM663.8,1561.5 675.8,1556.8 682.2,1554.9 689.8,1553.2 698.5,1552.7 703.3,1553.4 706.9,1554.5 712.5,1557.3 717.4,1560.3 723.7,1565.4 727.7,1569.6 729.4,1573.4 728.9,1576.1 726.3,1579.0 723.8,1580.7 718.1,1583.4 711.8,1585.9 697.9,1589.9 689.5,1590.8 682.5,1589.9 676.2,1587.5 670.3,1583.7 663.8,1578.4 658.8,1572.7 657.7,1570.7 657.4,1567.5 658.9,1564.9ZM724.8,1547.8 735.6,1543.6 747.6,1540.4 754.8,1539.7 761.5,1540.5 766.6,1542.2 773.2,1545.6 782.2,1551.7 786.8,1555.8 788.6,1558.9 788.6,1561.4 786.3,1564.2 784.1,1565.7 779.0,1568.2 773.4,1570.4 760.8,1574.0 753.1,1574.9 745.8,1574.0 740.4,1572.0 733.7,1568.3 726.9,1563.4 721.4,1558.2 720.1,1556.3 719.4,1554.3 719.4,1553.1 720.5,1550.9ZM777.7,1525.0 782.1,1522.8 787.0,1520.9 800.6,1517.1 807.1,1516.4 811.2,1516.5 814.9,1517.2 821.1,1519.4 826.2,1521.9 833.3,1526.0 839.6,1530.5 842.8,1534.0 843.3,1535.9 842.5,1537.8 841.0,1539.4 836.8,1541.8 831.9,1543.9 823.8,1546.6 817.9,1548.2 810.9,1549.1 806.4,1548.9 802.5,1548.1 796.0,1545.7 790.6,1542.9 783.6,1538.4 777.7,1533.7 775.1,1530.3 774.9,1528.4 775.9,1526.5Z" fill="#0080ff" fill-rule="evenodd"/>
<path d="M596.2,1589.7 609.6,1584.5 616.7,1582.4 624.9,1580.5 634.2,1579.9 639.2,1580.7 642.8,1581.9 648.4,1585.0 653.1,1588.4 659.1,1594.0 662.6,1598.6 663.4,1600.4 663.9,1602.9 663.0,1605.9 659.8,1609.1 656.9,1611.0 650.4,1614.1 643.4,1616.8 636.0,1619.2 628.0,1621.2 618.9,1622.3 611.6,1621.3 605.2,1618.5 599.6,1614.4 593.5,1608.5 589.1,1602.2 588.3,1599.9 588.5,1596.3 590.4,1593.5ZM670.3,1558.9 682.9,1554.8 693.7,1553.0 698.0,1552.9 703.4,1553.8 711.5,1557.0 716.4,1560.0 722.7,1565.1 726.0,1568.9 727.5,1572.3 727.0,1575.4 725.2,1577.5 722.9,1579.3 717.4,1582.2 704.4,1586.8 692.9,1589.0 688.2,1589.0 684.4,1588.6 680.2,1587.4 676.9,1586.0 671.4,1582.8 664.8,1577.4 661.4,1573.7 659.3,1569.5 659.2,1567.2 660.9,1564.3 664.7,1561.6ZM730.7,1546.6 742.1,1542.9 752.0,1541.2 756.0,1541.2 761.1,1541.9 769.7,1545.0 774.7,1547.9 781.3,1552.6 785.0,1556.0 786.9,1559.4 786.7,1562.2 785.2,1564.1 783.2,1565.7 778.3,1568.3 766.6,1572.5 756.1,1574.4 751.8,1574.5 747.5,1574.0 740.2,1571.6 734.6,1568.6 727.8,1563.7 724.1,1560.3 721.5,1556.5 721.1,1554.4 722.2,1551.7 725.6,1549.0ZM782.8,1522.7 792.8,1519.0 801.3,1517.1 809.1,1516.5 812.8,1516.9 817.2,1518.0 823.0,1520.3 830.4,1524.3 836.9,1528.7 840.4,1531.9 841.7,1534.3 841.4,1536.6 840.0,1538.2 836.0,1540.8 826.0,1544.8 817.1,1547.1 808.7,1547.7 804.7,1547.3 800.1,1546.0 794.0,1543.4 786.6,1539.1 780.4,1534.5 777.3,1531.2 776.4,1528.8 777.0,1526.6 778.6,1525.1Z" fill="#00a7ff" fill-rule="evenodd"/>
<path d="M603.2,1587.9 617.2,1583.4 628.9,1581.3 633.4,1581.2 638.9,1582.1 644.6,1584.3 647.4,1585.8 652.1,1589.3 658.1,1594.9 661.1,1599.1 662.2,1603.1 661.1,1606.5 658.9,1608.9 656.1,1610.8 649.8,1614.1 642.8,1616.8 635.4,1619.2 627.3,1621.1 622.8,1621.6 617.9,1621.8 613.5,1621.2 609.3,1619.9 605.9,1618.2 600.6,1614.6 594.5,1608.7 591.4,1604.5 589.8,1599.9 590.0,1597.3 592.2,1594.1 596.8,1590.9ZM788.2,1520.6 799.1,1517.5 807.1,1516.6 812.3,1517.0 816.1,1517.8 824.8,1521.3 831.9,1525.4 836.1,1528.4 839.3,1531.7 840.1,1533.7 840.1,1535.2 839.0,1537.0 835.3,1539.7 830.6,1541.9 819.4,1545.4 810.8,1546.4 805.2,1546.0 801.2,1545.1 792.2,1541.2 783.1,1535.3 779.7,1532.0 778.1,1529.4 778.2,1526.8 779.5,1525.1 783.5,1522.6ZM665.5,1561.6 674.0,1557.7 680.3,1555.6 687.1,1554.0 694.7,1553.1 699.3,1553.3 703.9,1554.2 710.3,1556.7 715.4,1559.8 719.7,1563.1 723.3,1566.7 725.3,1569.9 725.6,1573.4 724.1,1576.0 721.9,1577.9 713.5,1582.2 707.1,1584.5 700.0,1586.3 691.8,1587.4 686.9,1587.2 681.9,1586.2 675.3,1583.3 670.1,1580.0 666.0,1576.4 662.7,1572.6 661.1,1569.3 661.3,1565.9 663.1,1563.4ZM726.5,1550.3 734.1,1546.7 739.8,1544.8 746.0,1543.4 753.0,1542.5 758.3,1542.8 762.4,1543.6 768.7,1546.0 773.8,1548.8 778.3,1551.9 782.2,1555.2 784.8,1558.6 785.3,1561.3 784.1,1564.0 782.2,1565.7 774.8,1569.6 769.0,1571.6 762.5,1573.3 755.0,1574.3 749.3,1574.0 744.9,1573.0 738.4,1570.4 733.2,1567.3 728.8,1564.0 725.2,1560.5 723.0,1557.1 722.9,1554.4 724.5,1551.8Z" fill="#00cdff" fill-rule="evenodd"/>
<path d="M597.5,1592.1 607.2,1587.7 614.2,1585.4 621.5,1583.7 629.7,1582.6 635.7,1582.9 640.0,1583.9 646.2,1586.8 651.2,1590.1 655.3,1593.8 658.6,1597.9 660.5,1602.1 660.3,1605.3 658.0,1608.6 655.4,1610.7 645.8,1615.5 638.5,1618.0 630.7,1620.1 622.0,1621.3 615.5,1621.0 610.8,1619.9 604.3,1616.6 599.5,1612.9 595.6,1608.9 592.7,1604.6 591.3,1600.3 592.0,1597.2 594.7,1594.0ZM669.0,1560.2 677.8,1556.5 689.2,1553.8 697.4,1553.4 702.3,1554.1 706.0,1555.2 711.8,1557.9 716.5,1561.1 720.5,1564.6 723.4,1568.5 724.0,1570.8 723.4,1573.5 720.9,1576.4 718.5,1578.1 709.6,1582.1 702.8,1584.1 697.7,1585.2 688.9,1585.7 683.7,1584.9 679.8,1583.7 673.8,1580.6 669.1,1577.2 665.4,1573.5 663.6,1570.8 662.7,1567.1 663.6,1564.5 666.4,1561.7ZM729.7,1550.1 737.6,1546.9 743.6,1545.2 749.1,1544.2 756.4,1544.0 761.0,1544.7 764.6,1545.8 770.3,1548.4 775.2,1551.3 779.4,1554.5 782.6,1558.1 783.5,1560.2 783.4,1562.7 781.2,1565.6 779.1,1567.1 771.1,1570.7 765.0,1572.6 759.2,1573.7 751.4,1573.9 746.5,1573.2 742.7,1572.0 736.7,1569.2 731.9,1566.0 727.9,1562.6 725.4,1559.5 724.4,1556.8 724.9,1554.4 727.4,1551.5ZM782.2,1523.7 788.9,1520.4 799.8,1517.4 806.5,1516.7 810.6,1516.8 815.0,1517.6 821.3,1519.7 826.5,1522.3 831.2,1525.0 835.2,1528.1 837.7,1530.8 838.7,1533.7 837.9,1535.8 836.4,1537.3 829.8,1540.9 824.5,1542.8 818.6,1544.2 811.5,1545.1 807.1,1544.9 802.4,1544.1 795.8,1541.7 790.5,1538.9 786.0,1535.9 782.2,1532.8 780.0,1530.1 779.4,1527.2 780.5,1525.2Z" fill="#0fe1ef" fill-rule="evenodd"/>
<path d="M601.2,1591.6 607.7,1588.8 614.7,1586.6 625.8,1584.2 633.7,1584.1 638.5,1585.0 642.1,1586.2 647.8,1589.3 652.3,1592.9 656.0,1596.7 658.6,1601.1 659.0,1603.6 658.2,1606.6 657.0,1608.3 654.6,1610.5 651.7,1612.3 645.1,1615.4 637.9,1618.0 626.1,1620.6 617.7,1620.8 612.5,1619.8 608.7,1618.4 602.9,1615.0 598.5,1611.1 595.1,1607.0 593.1,1602.7 593.0,1600.0 594.1,1597.1 598.2,1593.3ZM675.4,1557.5 685.1,1554.7 694.9,1553.5 700.5,1554.0 704.5,1555.0 712.3,1558.6 715.5,1560.8 719.3,1564.3 721.9,1568.3 722.2,1570.7 721.6,1572.7 719.8,1574.9 717.5,1576.7 711.9,1579.6 701.9,1582.8 698.1,1583.5 691.5,1584.1 683.6,1583.1 678.0,1581.0 675.0,1579.5 670.3,1576.1 666.7,1572.4 665.4,1570.4 664.4,1567.0 665.4,1564.0 667.4,1561.9 669.8,1560.2ZM732.9,1550.1 741.3,1547.1 751.2,1545.4 755.3,1545.4 759.4,1545.9 766.5,1548.0 771.9,1550.8 776.4,1553.8 780.0,1557.3 781.3,1559.2 782.0,1561.4 781.3,1564.1 780.1,1565.5 775.8,1568.5 767.3,1571.8 760.7,1573.3 756.8,1573.7 752.5,1573.8 748.1,1573.2 740.7,1570.9 735.2,1567.9 730.8,1564.6 727.5,1561.0 726.4,1559.1 726.0,1556.9 727.0,1554.3 728.4,1552.9ZM785.0,1522.4 792.1,1519.4 802.2,1517.1 809.3,1516.8 817.3,1518.4 823.2,1520.7 828.1,1523.3 832.4,1526.2 835.9,1529.5 837.0,1531.4 837.1,1533.6 835.4,1536.1 833.6,1537.5 826.5,1540.8 820.9,1542.5 816.0,1543.4 808.5,1543.7 803.7,1543.0 800.0,1542.0 794.0,1539.4 789.0,1536.6 784.8,1533.5 782.3,1531.0 780.9,1528.3 781.1,1526.1 783.0,1523.7Z" fill="#23eed9" fill-rule="evenodd"/>
<path d="M605.0,1591.3 615.3,1587.7 621.4,1586.2 627.0,1585.5 631.5,1585.4 636.8,1586.0 644.0,1588.7 649.1,1592.0 653.2,1595.7 655.8,1599.0 657.2,1602.2 657.4,1604.8 656.0,1607.9 653.7,1610.3 647.8,1613.9 637.3,1617.9 630.8,1619.6 624.9,1620.4 620.0,1620.6 614.3,1619.8 610.2,1618.5 606.9,1616.9 601.7,1613.3 597.8,1609.3 595.5,1605.8 594.5,1602.6 594.7,1599.9 596.4,1596.9 599.0,1594.7ZM787.9,1521.1 795.5,1518.4 804.8,1516.9 812.5,1517.3 819.5,1519.2 824.9,1521.6 829.6,1524.4 833.4,1527.5 834.8,1529.3 835.7,1531.2 835.3,1533.6 832.7,1536.4 830.6,1537.6 823.0,1540.6 816.9,1542.0 813.3,1542.3 809.2,1542.4 805.1,1541.9 797.8,1539.8 792.2,1537.1 787.7,1534.2 784.1,1531.0 782.9,1529.2 782.2,1527.2 782.9,1524.9 785.8,1522.3ZM670.7,1560.2 673.4,1558.8 679.3,1556.4 689.6,1554.1 698.3,1553.9 704.4,1555.3 709.4,1557.4 714.3,1560.5 718.1,1564.0 719.5,1566.0 720.3,1568.2 720.2,1570.9 718.7,1573.3 716.5,1575.2 713.9,1576.8 707.9,1579.4 701.0,1581.3 697.2,1582.0 692.9,1582.3 688.0,1582.2 681.5,1580.6 676.4,1578.3 671.6,1575.0 668.0,1571.2 666.8,1569.2 666.2,1567.0 666.6,1564.5 668.4,1562.0ZM731.4,1552.7 739.1,1549.2 748.6,1547.1 756.6,1547.0 762.3,1548.1 770.9,1551.8 775.4,1554.9 778.8,1558.4 780.0,1560.4 780.2,1563.3 779.0,1565.4 777.1,1567.1 774.8,1568.5 769.5,1570.9 759.7,1573.3 755.7,1573.6 751.1,1573.4 745.1,1572.2 742.0,1571.1 736.4,1568.2 732.0,1564.9 728.8,1561.3 727.8,1559.3 727.8,1557.0 729.4,1554.3Z" fill="#37fcc3" fill-rule="evenodd"/>
<path d="M599.7,1596.0 602.6,1594.1 608.9,1591.1 619.7,1587.9 629.0,1586.8 635.1,1587.2 638.3,1588.0 642.7,1589.7 648.0,1592.9 652.1,1596.6 653.7,1598.7 655.0,1600.9 655.8,1603.9 655.6,1606.0 654.9,1607.5 652.8,1610.0 650.1,1612.1 643.8,1615.3 632.7,1618.9 622.7,1620.2 616.2,1619.7 612.8,1618.9 608.3,1617.0 602.9,1613.4 599.0,1609.4 597.6,1607.3 596.5,1605.1 596.1,1601.9 597.4,1598.4ZM674.2,1558.8 683.4,1555.4 690.6,1554.1 694.8,1554.0 699.8,1554.4 707.2,1556.7 713.0,1560.2 716.8,1563.8 718.0,1565.8 718.6,1568.1 717.9,1570.8 715.5,1573.6 713.0,1575.3 710.1,1576.7 703.7,1579.0 696.1,1580.4 691.7,1580.6 686.4,1580.1 681.0,1578.6 677.8,1577.2 672.9,1573.8 669.4,1570.1 668.4,1568.0 668.0,1565.7 668.9,1563.0 671.7,1560.3ZM734.6,1552.7 742.9,1549.6 749.5,1548.4 753.4,1548.3 758.1,1548.7 764.9,1550.5 772.1,1554.3 776.1,1557.6 777.6,1559.5 778.5,1561.6 778.4,1564.0 776.1,1567.1 773.9,1568.6 765.5,1571.9 758.6,1573.2 752.0,1573.3 747.1,1572.5 743.3,1571.3 740.2,1570.0 735.2,1566.9 731.4,1563.4 730.1,1561.5 729.4,1559.4 729.8,1557.0 732.4,1554.1ZM786.7,1522.2 793.5,1519.1 802.3,1517.1 809.9,1517.0 815.3,1517.9 824.1,1521.3 828.7,1524.1 832.4,1527.3 833.7,1529.0 834.2,1531.7 833.4,1533.7 831.7,1535.2 829.8,1536.5 824.9,1538.6 815.9,1540.8 807.9,1541.0 802.1,1539.9 793.2,1536.2 788.6,1533.3 785.2,1530.0 784.0,1528.2 783.7,1526.2 784.9,1523.7Z" fill="#5ffc95" fill-rule="evenodd"/>
<path d="M603.3,1595.4 606.3,1593.8 613.0,1591.1 624.3,1588.5 633.2,1588.4 640.1,1590.2 644.3,1592.2 649.0,1595.7 652.5,1599.7 653.7,1601.9 654.2,1604.4 653.7,1607.0 651.9,1609.8 649.3,1611.9 643.1,1615.3 635.9,1617.8 631.9,1618.8 623.1,1619.9 618.2,1619.6 613.4,1618.6 609.7,1617.1 604.2,1613.6 600.3,1609.6 598.9,1607.5 597.7,1604.2 597.7,1602.7 598.4,1600.1 600.6,1597.4ZM740.8,1551.8 747.0,1550.3 750.6,1549.9 754.7,1549.8 758.9,1550.3 765.9,1552.5 771.1,1555.4 774.9,1558.8 776.2,1560.7 776.9,1562.8 776.4,1565.0 774.9,1567.0 772.9,1568.5 767.7,1571.0 761.2,1572.6 753.2,1573.1 748.8,1572.6 744.8,1571.5 741.5,1570.2 736.3,1567.2 732.7,1563.6 731.6,1561.7 731.1,1559.5 731.8,1557.4 733.4,1555.5 735.6,1554.0ZM789.5,1520.9 797.0,1518.2 803.1,1517.1 811.2,1517.2 817.6,1518.7 825.6,1522.3 829.7,1525.3 831.4,1527.0 832.5,1528.8 832.7,1531.0 832.2,1532.3 830.8,1534.0 828.9,1535.3 821.3,1538.3 815.0,1539.5 806.5,1539.4 799.8,1537.8 791.7,1533.8 787.7,1530.7 786.2,1529.1 785.3,1527.2 785.3,1525.0 787.5,1522.2ZM672.7,1560.5 678.0,1557.5 684.3,1555.4 687.8,1554.7 696.1,1554.3 701.6,1555.1 706.6,1556.9 709.4,1558.3 713.7,1561.7 715.3,1563.6 716.4,1565.7 716.7,1568.0 716.1,1569.8 714.3,1572.0 709.2,1575.2 702.7,1577.5 699.1,1578.3 695.0,1578.8 690.3,1578.8 684.5,1577.9 679.3,1575.9 676.6,1574.4 672.4,1570.8 670.9,1568.9 670.0,1566.8 670.0,1564.4 670.8,1562.6Z" fill="#8ff95f" fill-rule="evenodd"/>
<path d="M607.0,1595.0 617.3,1591.3 625.1,1589.9 629.6,1589.7 634.8,1590.2 640.0,1591.8 642.4,1592.9 647.9,1596.7 651.3,1600.7 652.3,1603.0 652.5,1605.6 651.4,1608.6 648.4,1611.7 645.6,1613.6 642.3,1615.2 635.1,1617.7 626.9,1619.3 620.6,1619.4 615.1,1618.6 611.2,1617.2 608.0,1615.6 603.3,1611.8 600.2,1607.6 599.4,1605.3 599.4,1602.7 600.8,1599.7 604.1,1596.8ZM792.6,1519.8 800.8,1517.4 807.9,1517.0 812.7,1517.5 816.3,1518.4 822.2,1520.7 826.9,1523.5 828.8,1525.0 830.2,1526.7 831.2,1528.7 831.0,1531.0 829.7,1532.7 825.8,1535.3 820.5,1537.1 817.4,1537.8 810.0,1538.3 804.9,1537.8 801.1,1536.8 796.2,1534.8 792.7,1532.9 789.8,1530.8 787.4,1528.0 786.6,1526.1 787.1,1523.8 788.5,1522.2ZM676.2,1558.9 681.9,1556.4 690.2,1554.6 697.5,1554.6 704.0,1556.2 708.0,1558.1 710.3,1559.7 712.3,1561.4 714.2,1564.1 714.7,1565.5 714.5,1568.1 713.1,1570.3 710.9,1572.2 705.1,1574.9 696.5,1576.9 688.9,1576.9 682.1,1575.1 678.1,1573.1 675.8,1571.4 673.9,1569.6 672.2,1566.9 671.9,1565.4 672.2,1562.9 673.8,1560.7ZM736.6,1555.5 741.7,1553.1 744.7,1552.3 750.9,1551.4 757.0,1551.6 761.2,1552.5 764.6,1553.7 769.8,1556.5 771.9,1558.1 774.6,1561.5 774.9,1564.7 773.7,1566.8 771.8,1568.5 766.6,1571.0 760.2,1572.5 756.3,1572.9 751.7,1572.8 745.6,1571.5 740.1,1569.0 737.7,1567.4 734.1,1563.9 733.1,1561.9 733.0,1559.6 734.5,1557.0Z" fill="#bef528" fill-rule="evenodd"/>
<path d="M604.9,1598.2 610.9,1594.8 618.0,1592.5 621.8,1591.8 628.5,1591.2 636.3,1592.2 641.7,1594.3 644.4,1595.9 648.5,1599.7 649.9,1601.8 650.7,1604.2 650.7,1606.8 649.7,1609.0 647.5,1611.5 641.6,1615.0 634.4,1617.6 630.3,1618.4 623.3,1619.1 615.1,1618.0 609.5,1615.7 606.8,1613.9 602.9,1609.9 601.6,1607.7 601.0,1605.4 601.3,1602.7 602.5,1600.5ZM740.0,1555.6 745.7,1553.7 753.0,1553.0 759.6,1553.8 766.1,1556.1 770.6,1559.3 772.1,1561.1 773.1,1563.2 773.2,1564.2 772.4,1566.6 770.6,1568.4 768.3,1569.8 762.5,1571.8 755.0,1572.6 748.1,1571.8 741.4,1569.2 737.0,1566.0 735.6,1564.1 734.8,1562.0 735.2,1559.5 735.8,1558.7 737.7,1556.9ZM789.5,1522.2 793.5,1519.7 798.7,1518.0 801.8,1517.4 809.2,1517.1 814.6,1518.0 821.2,1520.4 825.8,1523.2 827.7,1524.8 829.1,1526.5 829.7,1528.5 829.6,1529.5 828.6,1531.4 824.8,1534.0 819.5,1535.9 816.4,1536.5 808.6,1536.8 803.0,1535.9 796.2,1533.3 791.6,1530.4 789.9,1528.8 788.6,1527.0 788.2,1525.0ZM675.1,1561.0 677.3,1559.1 679.9,1557.6 686.2,1555.6 694.1,1554.7 699.8,1555.4 706.4,1557.9 710.8,1561.2 712.1,1563.2 712.7,1565.5 711.7,1568.5 709.6,1570.5 707.1,1572.1 700.6,1574.3 692.4,1575.2 687.1,1574.6 682.7,1573.3 679.7,1571.8 677.3,1570.2 675.5,1568.3 674.3,1566.3 673.8,1564.1Z" fill="#daeb14" fill-rule="evenodd"/>
<path d="M608.6,1597.7 615.1,1594.9 618.7,1593.9 625.4,1592.8 632.4,1593.0 636.9,1594.0 640.3,1595.4 645.3,1598.8 647.1,1600.8 649.0,1604.5 648.5,1608.5 646.5,1611.2 643.8,1613.2 637.3,1616.3 629.5,1618.2 625.0,1618.7 619.9,1618.5 613.3,1616.8 608.3,1614.0 606.0,1612.1 604.3,1610.1 603.2,1607.8 602.7,1605.4 603.4,1602.6 605.8,1599.7ZM792.3,1520.8 796.9,1518.7 802.9,1517.3 810.7,1517.4 817.1,1518.9 822.6,1521.4 826.7,1524.6 827.7,1526.3 828.1,1528.5 827.4,1530.0 825.9,1531.6 821.3,1533.8 815.1,1535.3 807.1,1535.2 800.4,1533.6 794.8,1530.9 791.0,1527.6 790.0,1525.9 789.9,1523.8 790.7,1522.3ZM678.5,1559.4 684.1,1556.6 691.2,1555.2 695.7,1555.2 701.6,1556.4 707.1,1559.3 709.0,1561.1 710.3,1563.1 710.4,1565.5 710.1,1566.5 708.4,1568.7 705.8,1570.4 702.8,1571.6 695.5,1573.2 690.8,1573.1 684.7,1571.9 681.5,1570.5 679.1,1568.8 677.3,1567.0 676.2,1564.9 676.3,1562.5ZM738.9,1558.5 743.8,1556.0 750.4,1554.7 757.7,1555.1 761.6,1556.1 767.1,1558.9 769.1,1560.5 770.6,1562.4 771.2,1564.6 770.8,1566.2 769.3,1568.2 764.4,1570.8 757.7,1572.2 753.4,1572.2 750.1,1571.8 746.1,1570.8 740.5,1567.9 738.6,1566.1 737.2,1564.2 736.8,1562.1 737.3,1560.4Z" fill="#f5e100" fill-rule="evenodd"/>
<path d="M612.5,1597.6 619.5,1595.2 627.9,1594.3 635.1,1595.2 638.7,1596.5 641.6,1598.1 645.7,1601.9 646.9,1604.1 647.3,1606.6 647.1,1607.8 645.4,1610.8 642.9,1612.9 639.9,1614.7 632.7,1617.2 628.6,1617.9 623.9,1618.2 616.4,1617.2 612.7,1615.8 609.7,1614.2 605.8,1610.2 604.8,1607.9 604.6,1605.4 605.8,1602.4 606.8,1601.3 609.4,1599.2ZM745.0,1557.6 748.1,1556.8 755.4,1556.6 759.7,1557.4 763.0,1558.6 765.6,1560.1 767.5,1561.8 768.7,1563.7 768.9,1566.1 767.8,1567.8 765.8,1569.5 763.2,1570.6 760.0,1571.5 752.4,1571.7 748.0,1570.8 744.7,1569.6 742.1,1568.0 740.2,1566.3 739.1,1564.3 739.0,1562.4 740.3,1560.3 742.4,1558.7ZM791.9,1522.4 793.4,1520.9 795.4,1519.6 800.6,1517.9 807.5,1517.2 812.4,1517.8 819.0,1519.9 823.6,1522.7 825.3,1524.3 826.3,1526.2 826.1,1528.5 824.7,1530.2 822.7,1531.5 817.5,1533.3 810.3,1534.0 805.3,1533.5 798.5,1531.2 793.9,1528.3 792.4,1526.6 791.5,1524.8ZM680.0,1559.9 682.4,1558.2 685.3,1556.9 688.7,1556.1 694.5,1555.7 699.4,1556.4 702.7,1557.7 705.3,1559.2 707.0,1561.0 708.0,1563.1 708.0,1564.1 706.8,1566.7 704.4,1568.5 701.5,1569.8 698.0,1570.7 692.0,1571.1 687.0,1570.3 683.6,1569.0 681.1,1567.4 679.4,1565.6 678.5,1563.4 678.6,1562.4Z" fill="#f9bf00" fill-rule="evenodd"/>
<path d="M610.4,1600.8 616.7,1597.7 624.5,1596.1 629.1,1596.0 633.1,1596.5 637.0,1597.7 640.0,1599.3 642.4,1601.1 644.1,1603.1 645.2,1605.3 645.3,1607.9 644.2,1610.3 641.9,1612.6 638.9,1614.4 635.5,1615.8 627.5,1617.6 622.7,1617.7 618.6,1617.1 614.5,1615.8 611.5,1614.2 609.1,1612.3 607.5,1610.2 606.6,1607.9 606.7,1605.3 607.9,1603.0ZM794.6,1520.9 798.9,1518.7 805.0,1517.5 809.1,1517.5 814.7,1518.5 820.3,1520.9 823.9,1524.1 824.5,1526.9 823.5,1528.8 819.1,1531.1 813.0,1532.4 808.7,1532.3 803.0,1531.3 797.3,1528.7 793.8,1525.5 793.3,1523.5ZM686.8,1557.3 690.2,1556.5 696.5,1556.6 700.5,1557.7 703.1,1559.2 704.8,1561.0 705.1,1563.4 704.8,1564.4 702.8,1566.5 700.0,1567.9 696.4,1568.7 692.0,1568.8 686.0,1567.5 683.3,1565.9 681.7,1564.0 681.5,1561.7 681.9,1560.7 683.9,1558.6ZM743.9,1560.5 746.5,1559.4 752.1,1558.4 757.5,1558.9 761.1,1560.0 763.7,1561.5 765.6,1563.2 766.3,1564.5 766.5,1565.2 766.1,1567.3 764.2,1569.1 761.6,1570.3 755.9,1571.3 750.3,1570.8 746.7,1569.6 744.1,1568.1 742.2,1566.4 741.6,1565.0 741.4,1564.3 742.0,1562.2Z" fill="#fd9d00" fill-rule="evenodd"/>
<path d="M614.3,1600.6 621.4,1598.3 625.5,1597.8 630.8,1597.9 635.1,1599.0 638.3,1600.5 640.7,1602.3 642.4,1604.3 643.3,1606.6 642.8,1609.6 640.7,1612.2 637.9,1614.1 630.7,1616.6 626.4,1617.1 621.0,1617.0 616.5,1615.8 613.2,1614.2 610.9,1612.4 609.3,1610.3 608.6,1607.9 609.2,1604.9 611.5,1602.4ZM796.0,1521.2 797.8,1519.8 800.1,1518.7 803.0,1518.0 808.6,1517.8 813.0,1518.4 816.3,1519.5 818.9,1520.7 820.9,1522.3 822.3,1524.0 822.6,1525.1 821.9,1527.2 820.2,1528.6 817.9,1529.7 815.0,1530.4 809.2,1530.7 804.7,1530.0 801.3,1528.9 798.7,1527.6 796.7,1526.1 795.5,1524.3 795.3,1523.2ZM688.7,1558.1 692.3,1557.4 697.3,1558.0 700.1,1559.4 701.6,1561.4 700.7,1564.0 697.9,1565.5 694.3,1566.2 689.2,1565.6 686.4,1564.1 684.9,1562.2 686.0,1559.5ZM745.7,1562.6 748.2,1561.3 751.5,1560.7 754.4,1560.7 758.7,1561.6 761.4,1563.0 763.1,1564.7 763.6,1566.3 762.3,1568.4 759.8,1569.7 756.5,1570.4 753.5,1570.4 749.2,1569.5 746.4,1568.1 744.7,1566.3 744.6,1564.0Z" fill="#fd7400" fill-rule="evenodd"/>
<path d="M612.7,1604.3 615.5,1602.3 618.7,1600.9 622.5,1600.0 627.7,1599.6 632.9,1600.4 636.3,1601.8 638.8,1603.5 640.4,1605.6 641.0,1608.5 639.4,1611.6 636.7,1613.6 633.4,1615.1 629.5,1616.1 624.2,1616.5 618.8,1615.7 615.3,1614.2 612.9,1612.3 611.4,1610.2 610.9,1607.3ZM799.2,1520.0 801.5,1518.9 805.4,1518.1 811.1,1518.4 814.7,1519.3 817.3,1520.6 819.7,1522.6 820.3,1524.0 820.1,1525.4 818.8,1527.0 816.5,1528.1 812.5,1528.9 806.7,1528.7 803.0,1527.7 800.3,1526.4 798.1,1524.3 797.5,1522.9 797.7,1521.6ZM748.6,1565.4 750.7,1563.9 754.9,1563.6 758.1,1564.8 759.3,1567.1 757.2,1568.6 753.0,1569.0 749.8,1567.7ZM693.3,1561.0 693.3,1561.0Z" fill="#f94400" fill-rule="evenodd"/>
<path d="M619.9,1602.7 623.8,1601.8 630.1,1602.0 634.1,1603.2 636.7,1604.9 638.1,1607.0 638.2,1609.7 637.7,1610.6 635.4,1613.0 632.1,1614.5 628.2,1615.4 623.5,1615.5 617.6,1614.0 615.1,1612.2 613.7,1610.1 613.8,1607.4 614.3,1606.5 616.7,1604.2ZM801.1,1520.5 803.2,1519.3 806.3,1518.7 812.6,1519.4 815.4,1520.6 817.2,1522.2 817.6,1523.1 817.4,1524.3 816.8,1525.2 814.7,1526.3 811.6,1527.0 805.2,1526.3 802.4,1525.0 800.6,1523.4 800.2,1522.5 800.4,1521.3Z" fill="#f51400" fill-rule="evenodd"/>
<path d="M618.4,1606.5 621.5,1604.9 625.4,1604.1 631.1,1604.8 633.8,1606.5 635.2,1608.7 633.6,1612.0 630.5,1613.6 626.5,1614.4 620.7,1613.6 618.0,1611.9 616.7,1609.7ZM803.9,1521.5 805.8,1520.2 809.3,1519.8 812.5,1520.9 813.9,1522.7 812.1,1524.1 808.5,1524.5 805.3,1523.4Z" fill="#da0a00" fill-rule="evenodd"/>
<path d="M623.9,1607.9 629.5,1608.6 628.0,1611.8 622.4,1611.1Z" fill="#be0000" fill-rule="evenodd"/>
<polygon points="607.4,1628.1 630.0,1621.7 648.3,1615.5 666.0,1608.3 700.0,1593.2 716.4,1587.0 732.3,1582.1 762.9,1574.1 774.7,1570.3 789.1,1564.5 814.1,1552.8 827.6,1547.1 840.7,1542.8 856.0,1539.0 911.4,1572.0 654.6,1677.4" fill="#0000a0"/>
<path d="M615.0,1626.0 630.0,1621.7 644.6,1616.8 659.0,1611.3 676.4,1603.7 673.9,1605.8 660.6,1611.5 631.6,1622.0 615.9,1626.6 611.2,1627.0ZM686.6,1599.0 703.3,1591.8 716.4,1587.0 729.1,1583.0 741.0,1579.8 739.3,1581.3 727.6,1586.4 701.6,1595.7 687.4,1599.9 684.0,1600.2ZM750.8,1577.3 771.7,1571.3 786.2,1565.7 799.8,1559.5 798.4,1561.0 787.9,1565.7 767.6,1573.1 755.1,1577.0 751.7,1577.7 748.3,1578.0ZM808.7,1555.3 822.2,1549.3 832.9,1545.3 843.3,1542.1 853.4,1539.6 852.0,1541.1 842.5,1545.2 818.6,1553.7 809.7,1556.3 806.0,1556.6ZM615.3,1630.6 618.2,1628.3 621.7,1626.6 647.2,1616.8 672.5,1608.2 676.3,1607.2 681.1,1606.9 684.8,1608.3 690.1,1612.0 707.0,1626.3 721.3,1639.7 723.3,1642.2 724.3,1645.3 721.8,1647.7 715.1,1651.1 689.3,1662.0 665.6,1671.2 661.3,1672.4 656.3,1673.1 651.8,1671.1 648.9,1668.8 634.1,1654.5 623.1,1642.8 617.2,1635.9 615.7,1633.5ZM690.3,1603.2 702.9,1597.7 728.9,1588.4 742.3,1584.4 746.6,1584.1 749.9,1585.3 758.0,1590.5 773.2,1601.7 785.7,1611.6 790.2,1615.9 791.3,1618.1 789.5,1620.5 783.7,1623.7 777.4,1626.6 750.6,1637.6 739.8,1641.4 735.8,1642.5 731.0,1642.7 727.3,1641.3 718.6,1635.2 706.1,1624.6 694.5,1614.1 688.7,1607.6 688.1,1605.0ZM754.6,1579.1 765.9,1574.1 789.3,1565.7 798.2,1562.9 801.4,1562.2 805.4,1562.0 808.8,1563.0 817.0,1567.6 832.6,1577.8 845.5,1586.8 850.3,1590.7 851.6,1592.9 850.1,1595.0 839.5,1600.3 812.3,1611.3 802.2,1614.6 797.7,1614.9 794.0,1613.5 785.1,1607.9 769.5,1596.4 757.6,1587.0 753.6,1583.2 752.7,1581.1ZM810.6,1560.4 812.4,1558.8 814.7,1557.6 833.1,1550.5 851.8,1544.2 854.7,1543.4 858.6,1543.1 862.1,1544.3 867.8,1547.1 888.9,1559.5 902.0,1567.8 904.4,1569.6 906.2,1571.8 904.8,1573.6 902.6,1574.9 884.6,1582.9 864.9,1590.3 861.7,1591.2 857.7,1591.6 853.5,1590.2 850.3,1588.6 833.8,1578.2 813.9,1564.4 811.9,1562.6Z" fill="#0000d0" fill-rule="evenodd"/>
<path d="M618.8,1624.9 644.6,1616.8 659.0,1611.3 671.8,1605.7 669.9,1607.0 660.1,1611.4 642.3,1618.1 627.2,1623.0 619.2,1625.1 616.3,1625.6ZM690.0,1597.5 713.1,1588.1 726.0,1583.9 735.5,1581.4 726.9,1585.4 711.1,1591.3 697.5,1595.8ZM753.9,1576.6 774.7,1570.3 794.9,1562.0 787.3,1565.7 775.9,1570.0 760.7,1575.0ZM811.4,1554.1 822.2,1549.3 832.9,1545.3 845.8,1541.4 849.9,1540.5 848.8,1541.2 841.9,1544.4 826.3,1550.1 814.9,1553.7 809.8,1554.8ZM622.5,1627.0 629.5,1623.7 640.4,1619.4 665.8,1610.6 676.9,1608.0 682.9,1608.7 689.0,1612.0 696.6,1617.9 708.7,1628.4 717.9,1637.4 719.9,1639.9 721.4,1642.6 720.4,1646.1 717.6,1648.2 710.9,1651.7 700.1,1656.5 673.1,1667.2 664.7,1669.8 660.7,1670.7 654.0,1669.9 650.4,1667.9 647.4,1665.6 639.6,1658.5 628.2,1646.8 620.3,1637.4 618.7,1635.0 617.8,1632.4 619.3,1629.1ZM694.3,1602.9 700.4,1600.0 710.0,1596.2 732.9,1588.3 741.4,1586.1 743.9,1586.0 747.8,1586.5 750.0,1587.2 754.4,1589.5 762.3,1594.9 775.0,1604.4 784.6,1612.5 787.4,1615.7 788.0,1617.2 787.7,1619.6 785.5,1621.7 779.8,1625.0 770.3,1629.4 756.9,1634.9 746.3,1638.7 736.8,1641.2 734.1,1641.4 729.7,1640.8 725.7,1639.2 716.9,1633.1 704.4,1622.6 695.5,1614.2 691.9,1609.7 691.0,1607.2 691.8,1604.9ZM758.2,1578.0 769.4,1573.0 789.9,1565.7 801.0,1562.9 806.9,1563.3 813.4,1566.0 821.6,1570.7 834.6,1579.3 844.6,1586.7 846.8,1588.8 848.4,1591.0 848.3,1593.3 846.5,1595.2 841.5,1598.0 833.0,1601.8 811.5,1610.2 802.7,1612.7 800.4,1612.8 796.0,1612.3 792.2,1610.7 783.2,1605.2 767.8,1593.8 758.7,1586.2 756.0,1583.2 755.6,1582.0 756.1,1579.8ZM815.7,1558.5 828.3,1553.2 847.0,1546.7 855.6,1544.6 860.8,1545.1 867.0,1547.8 875.1,1552.3 898.7,1566.8 903.1,1570.5 903.3,1573.0 901.5,1574.6 897.0,1577.2 889.4,1580.7 870.1,1588.2 860.7,1590.5 855.0,1589.9 848.2,1586.9 839.7,1581.8 826.6,1573.2 817.1,1566.2 813.4,1562.4 813.7,1560.0Z" fill="#0000f0" fill-rule="evenodd"/>
<path d="M622.6,1623.9 644.6,1616.8 666.0,1608.3 656.1,1612.8 645.5,1616.8 630.5,1621.8ZM696.7,1594.6 713.1,1588.1 729.2,1583.1 713.8,1589.2ZM759.9,1574.9 774.7,1570.3 789.2,1564.5 775.4,1570.1ZM816.8,1551.6 832.9,1545.3 845.6,1541.5 843.6,1542.5 825.7,1549.3 814.3,1552.7ZM626.6,1625.6 640.8,1619.5 662.7,1611.8 674.3,1609.0 680.6,1609.1 686.7,1611.3 695.9,1617.7 708.0,1628.2 716.8,1637.5 718.4,1640.1 719.0,1643.1 718.7,1644.1 716.5,1646.9 713.6,1648.9 706.8,1652.4 695.9,1657.2 672.5,1666.1 663.7,1668.4 656.7,1668.4 652.0,1666.8 650.0,1665.7 643.0,1660.1 631.2,1648.4 623.1,1639.0 620.8,1635.5 620.3,1634.0 620.3,1631.1 620.8,1630.1 623.4,1627.5ZM701.0,1601.1 720.2,1593.6 735.8,1588.7 741.0,1587.9 745.3,1587.9 749.8,1589.0 754.3,1591.0 764.2,1597.5 776.7,1607.1 783.4,1613.4 785.0,1615.9 785.5,1618.7 784.1,1621.2 781.8,1623.2 779.0,1624.9 763.1,1632.2 745.5,1638.5 737.2,1640.2 732.5,1640.2 727.6,1638.9 720.7,1635.3 712.6,1629.1 702.9,1620.7 695.4,1612.8 693.7,1609.6 693.7,1606.7 695.5,1604.5ZM764.3,1575.4 778.6,1569.6 793.6,1564.8 800.5,1563.6 804.9,1563.6 809.1,1564.6 815.4,1567.4 826.2,1573.8 836.4,1580.9 843.5,1586.7 845.3,1588.8 846.2,1591.4 845.1,1593.7 843.1,1595.5 840.7,1597.0 823.5,1604.6 808.0,1610.0 803.2,1610.8 798.4,1610.8 793.8,1609.6 787.0,1606.2 778.6,1600.6 766.1,1591.1 760.2,1585.8 758.4,1583.2 757.9,1580.7 759.5,1578.5ZM818.8,1558.2 831.5,1552.9 847.7,1547.4 853.8,1546.1 859.1,1546.2 864.9,1547.9 871.9,1551.4 887.8,1560.7 897.9,1567.5 900.0,1569.4 901.3,1571.6 901.4,1572.3 900.4,1574.3 898.5,1575.9 888.8,1580.8 872.3,1587.2 862.7,1589.7 856.9,1589.6 850.5,1587.6 843.1,1583.7 829.7,1575.1 820.0,1568.1 816.2,1564.4 815.2,1562.2 815.3,1561.5 816.7,1559.6Z" fill="#001ef5" fill-rule="evenodd"/>
<path d="M630.0,1621.7 644.6,1616.8 659.0,1611.3 645.0,1616.8ZM709.9,1589.3 716.4,1587.0ZM768.8,1572.3 780.5,1568.1ZM822.2,1549.3 832.9,1545.3 838.2,1543.8 827.9,1547.6ZM634.1,1622.4 652.1,1615.5 667.0,1610.9 675.4,1609.5 680.7,1609.9 683.1,1610.5 686.7,1612.1 690.7,1614.4 700.1,1621.7 709.6,1630.3 713.2,1634.2 715.5,1637.5 716.7,1640.3 716.8,1642.0 716.4,1643.7 715.3,1645.3 712.6,1647.6 706.2,1651.4 687.9,1659.4 671.8,1665.0 662.5,1666.7 656.6,1666.3 653.9,1665.5 650.0,1663.7 646.8,1661.6 638.8,1654.7 627.8,1643.0 624.7,1639.0 622.8,1635.7 622.2,1632.9 622.3,1631.2 623.1,1629.6 624.4,1628.1 627.4,1625.9ZM707.9,1599.3 724.1,1593.3 734.4,1590.5 742.6,1589.4 747.8,1590.1 751.8,1591.5 760.5,1596.3 768.5,1602.0 776.1,1608.1 780.2,1612.2 782.0,1614.5 783.2,1617.2 782.6,1620.5 780.6,1622.8 778.0,1624.6 772.2,1627.9 762.5,1632.2 752.1,1636.1 740.4,1639.1 735.5,1639.5 729.8,1638.7 725.4,1637.1 716.3,1631.5 708.4,1625.1 701.4,1618.5 697.8,1614.3 696.4,1611.9 695.6,1609.3 696.7,1606.1 699.1,1604.0 701.9,1602.3ZM770.5,1572.9 785.1,1567.5 791.2,1565.6 797.9,1564.2 802.4,1563.9 807.0,1564.5 811.2,1565.8 819.2,1569.7 828.1,1575.3 836.7,1581.4 842.3,1586.6 843.9,1589.3 843.6,1592.2 841.9,1594.1 839.7,1595.8 834.6,1598.7 816.6,1606.0 806.0,1608.7 801.1,1609.1 796.1,1608.5 791.5,1606.9 783.1,1602.4 774.1,1596.1 766.1,1589.7 761.2,1584.3 760.0,1581.7 760.8,1578.9 762.8,1577.0 765.2,1575.5ZM824.2,1556.7 837.2,1551.7 848.3,1548.2 855.0,1547.3 861.8,1548.1 868.4,1550.6 876.8,1555.0 889.9,1563.0 897.0,1568.3 898.8,1570.3 899.4,1571.6 899.5,1572.8 899.0,1574.0 897.5,1575.7 893.2,1578.4 880.3,1584.2 868.6,1588.1 861.3,1589.3 858.9,1589.3 853.9,1588.4 846.8,1585.5 838.1,1580.5 825.3,1571.9 818.9,1566.4 817.5,1564.3 817.1,1563.1 817.2,1561.9 817.9,1560.8 819.7,1559.2Z" fill="#003cfa" fill-rule="evenodd"/>
<path d="M645.3,1618.1 656.2,1614.2 663.8,1612.0 671.9,1610.4 675.3,1610.1 681.3,1610.7 685.4,1612.1 688.6,1613.8 694.3,1617.5 701.9,1623.6 708.7,1630.2 712.7,1635.0 714.2,1637.6 714.9,1640.5 714.0,1643.7 711.7,1646.3 705.5,1650.3 694.9,1655.4 683.5,1659.9 675.3,1662.6 666.4,1664.6 662.6,1665.0 654.7,1663.9 651.6,1662.6 645.0,1658.4 638.9,1653.3 630.6,1644.6 625.4,1637.3 624.3,1634.6 624.0,1632.5 625.5,1628.7 628.2,1626.3 634.7,1622.6ZM832.4,1554.3 846.1,1549.9 855.2,1548.5 860.5,1549.0 864.3,1550.1 873.5,1554.2 881.6,1558.8 889.3,1563.7 894.0,1567.2 896.0,1569.2 897.5,1571.3 897.6,1573.6 896.4,1575.5 892.4,1578.4 885.1,1582.1 876.9,1585.3 870.9,1587.2 864.1,1588.6 861.1,1588.9 854.2,1588.0 851.2,1587.1 844.5,1584.0 836.0,1579.0 826.0,1572.0 821.7,1568.4 819.1,1564.9 819.1,1562.1 820.6,1560.3 824.9,1557.6ZM700.1,1605.4 702.7,1603.6 708.6,1600.5 714.9,1597.9 724.7,1594.4 731.6,1592.5 739.2,1591.2 746.0,1591.4 750.4,1592.5 759.8,1597.4 767.7,1602.9 774.9,1608.9 779.0,1613.3 780.6,1615.8 781.2,1618.5 780.9,1619.8 779.4,1622.4 777.0,1624.4 771.4,1627.8 765.1,1630.8 754.9,1634.8 743.5,1638.0 739.0,1638.7 731.8,1638.4 727.0,1637.1 720.1,1633.5 711.8,1627.4 704.7,1621.1 700.8,1616.7 697.9,1611.8 697.8,1609.2 698.2,1607.9ZM763.8,1577.3 766.1,1575.6 771.2,1572.8 785.7,1567.4 792.0,1565.6 799.0,1564.4 805.8,1564.7 809.4,1565.5 813.4,1567.1 819.3,1570.1 827.4,1575.1 834.9,1580.5 839.3,1584.4 841.3,1586.9 842.0,1589.1 841.9,1590.5 840.7,1592.8 838.7,1594.5 833.7,1597.5 828.2,1600.2 819.0,1603.8 812.4,1605.8 804.8,1607.3 797.4,1607.0 793.5,1606.0 789.2,1604.2 783.0,1600.8 774.9,1595.2 767.8,1589.5 763.9,1585.4 762.3,1582.9 761.9,1580.8 762.2,1579.4Z" fill="#005aff" fill-rule="evenodd"/>
<path d="M632.1,1624.5 638.7,1621.1 645.8,1618.1 656.8,1614.2 664.5,1612.1 672.8,1610.7 679.4,1610.9 684.0,1612.1 690.6,1615.5 698.6,1621.3 705.6,1627.8 711.5,1634.9 712.7,1637.7 712.9,1640.8 712.6,1641.9 710.6,1644.9 707.9,1647.1 701.4,1650.9 694.3,1654.3 682.8,1658.8 674.6,1661.4 665.4,1663.2 659.9,1663.1 653.1,1661.5 646.2,1657.5 640.7,1653.1 633.6,1646.1 628.1,1638.8 625.9,1634.0 626.2,1630.5 629.0,1626.6ZM706.4,1603.2 718.8,1597.8 732.4,1593.7 740.4,1592.7 743.9,1592.8 748.8,1593.7 755.8,1596.6 764.3,1601.9 771.6,1607.8 777.5,1614.0 778.9,1616.9 779.0,1620.0 778.0,1622.0 776.0,1624.2 773.4,1626.1 767.5,1629.3 761.1,1632.2 754.1,1634.7 746.6,1636.9 737.9,1638.2 734.1,1638.0 728.8,1637.0 721.3,1633.6 715.4,1629.7 708.0,1623.4 701.9,1616.8 700.5,1614.4 699.7,1611.9 699.7,1609.8 701.3,1607.0 703.6,1604.9ZM767.0,1575.7 772.0,1572.8 777.5,1570.4 789.6,1566.4 796.3,1565.0 800.2,1564.7 804.9,1564.9 808.6,1565.7 815.5,1568.3 821.3,1571.4 829.2,1576.5 836.2,1582.2 838.3,1584.4 839.6,1586.6 840.2,1588.7 839.4,1591.3 837.6,1593.3 832.9,1596.4 827.4,1599.1 818.2,1602.6 811.5,1604.6 803.5,1605.8 798.4,1605.5 794.4,1604.6 787.0,1601.6 781.1,1598.0 773.3,1592.4 766.8,1586.5 765.0,1584.3 764.0,1582.1 763.8,1580.0 765.0,1577.6ZM823.5,1559.9 828.0,1557.3 833.0,1555.2 841.1,1552.4 846.9,1550.8 853.4,1549.8 859.1,1550.0 863.3,1550.9 869.8,1553.5 878.3,1557.9 886.1,1562.8 893.1,1568.1 895.0,1570.1 896.1,1573.2 895.3,1575.3 893.6,1577.0 889.4,1579.8 884.4,1582.2 876.2,1585.4 870.1,1587.2 863.0,1588.4 856.8,1588.2 852.3,1587.1 845.4,1584.2 839.4,1580.9 831.5,1575.8 824.6,1570.4 821.3,1566.8 820.4,1564.2 821.6,1561.4Z" fill="#0080ff" fill-rule="evenodd"/>
<path d="M636.0,1622.8 642.8,1619.6 650.0,1616.7 657.4,1614.3 665.1,1612.2 673.8,1611.1 679.1,1611.4 682.4,1612.2 689.5,1615.4 697.7,1621.2 704.7,1627.6 710.0,1634.5 711.2,1637.8 710.8,1641.2 709.5,1643.3 707.0,1645.8 704.0,1647.9 697.3,1651.5 690.0,1654.7 682.2,1657.6 673.9,1660.1 669.3,1661.1 664.4,1661.6 658.5,1661.2 654.9,1660.3 650.1,1658.2 641.7,1652.1 634.6,1645.2 629.2,1637.9 628.0,1635.3 627.5,1632.5 627.9,1630.2 630.0,1627.1 632.8,1624.8ZM710.1,1602.9 722.7,1597.8 733.3,1595.0 741.7,1594.2 747.2,1594.9 751.2,1596.2 757.8,1599.3 765.9,1604.8 772.9,1610.9 776.3,1615.5 777.3,1618.2 776.7,1621.5 774.8,1623.9 769.7,1627.7 763.6,1630.8 756.9,1633.5 745.7,1636.7 736.6,1637.6 730.6,1636.8 726.2,1635.4 719.4,1631.8 713.8,1627.8 706.8,1621.5 703.2,1616.9 702.0,1614.5 701.4,1611.8 702.5,1608.6 704.7,1606.4ZM772.7,1572.8 784.1,1568.2 793.7,1565.6 801.9,1565.0 806.7,1565.5 811.1,1566.8 817.6,1569.6 825.9,1574.5 833.1,1580.0 837.0,1584.1 838.3,1586.8 838.0,1589.8 836.5,1591.9 832.1,1595.2 826.6,1597.9 820.6,1600.4 810.5,1603.3 801.6,1604.2 796.5,1603.5 791.7,1602.1 784.9,1598.9 776.6,1593.4 769.7,1587.6 766.4,1583.4 765.5,1580.7 766.2,1577.9 768.0,1575.9ZM826.4,1559.5 836.2,1555.1 847.6,1551.8 854.5,1551.0 857.6,1551.1 862.2,1551.9 869.1,1554.3 877.7,1558.7 885.5,1563.5 891.9,1568.6 893.8,1571.0 894.5,1573.5 894.1,1575.1 892.7,1576.9 890.8,1578.5 886.2,1581.1 881.1,1583.4 869.3,1587.2 861.8,1588.1 858.5,1588.0 853.5,1587.1 846.2,1584.4 840.1,1581.2 832.2,1576.1 825.4,1570.6 823.6,1568.7 822.3,1566.6 821.9,1564.9 822.7,1562.6 824.3,1560.9Z" fill="#00a7ff" fill-rule="evenodd"/>
<path d="M639.9,1621.2 646.9,1618.1 654.2,1615.5 665.8,1612.3 675.2,1611.5 680.5,1612.2 685.0,1613.6 691.5,1617.1 699.3,1623.1 705.8,1629.8 708.9,1634.9 709.6,1638.2 708.4,1641.8 706.1,1644.4 700.0,1648.6 693.1,1652.1 685.5,1655.1 673.1,1658.9 668.4,1659.6 662.8,1659.9 657.0,1659.2 652.2,1657.4 645.4,1653.4 637.8,1646.7 631.8,1639.5 630.4,1637.0 629.4,1634.3 629.3,1631.1 630.9,1627.5 633.6,1625.0ZM778.9,1570.2 784.8,1568.1 791.1,1566.3 799.6,1565.2 805.6,1565.6 809.9,1566.6 813.4,1567.9 819.6,1570.9 827.6,1576.0 832.2,1579.7 835.7,1584.0 836.6,1586.6 836.5,1588.1 835.8,1589.8 833.4,1592.3 825.9,1596.8 819.9,1599.2 813.2,1601.2 804.1,1602.5 800.7,1602.5 794.4,1601.4 789.3,1599.5 782.9,1596.1 777.5,1592.5 772.8,1588.6 769.0,1584.5 767.5,1581.6 767.2,1579.8 767.6,1578.3 769.0,1576.0 773.5,1572.8ZM829.4,1559.2 839.6,1555.1 848.4,1552.8 856.0,1552.2 860.7,1552.7 864.9,1553.9 871.4,1556.5 879.7,1561.0 887.2,1566.0 891.3,1569.8 892.8,1572.2 892.9,1574.9 891.7,1576.8 887.8,1579.9 883.0,1582.4 877.7,1584.5 868.4,1587.2 860.2,1587.9 855.2,1587.3 850.6,1586.0 843.8,1583.0 835.4,1578.0 828.2,1572.7 824.6,1568.8 823.5,1566.4 823.8,1563.8 825.2,1562.0ZM705.7,1607.8 708.1,1605.9 713.8,1602.7 720.1,1600.0 726.9,1597.9 734.2,1596.3 739.0,1595.8 745.3,1596.2 749.2,1597.1 756.7,1600.3 762.4,1603.8 767.4,1607.7 771.7,1611.9 773.5,1614.2 775.1,1617.1 775.4,1619.6 775.1,1621.0 773.7,1623.6 771.4,1625.7 765.9,1629.2 759.5,1632.2 752.5,1634.6 744.7,1636.5 740.3,1637.1 732.6,1636.7 727.8,1635.4 720.6,1632.0 714.8,1628.0 707.9,1621.7 704.5,1617.1 703.4,1614.1 703.4,1611.7 703.8,1610.4Z" fill="#00cdff" fill-rule="evenodd"/>
<path d="M647.4,1618.1 654.7,1615.5 662.4,1613.3 672.7,1611.9 679.2,1612.4 683.7,1613.6 687.3,1615.2 693.3,1618.8 700.7,1625.0 704.8,1629.7 707.6,1634.9 707.8,1638.0 707.2,1640.1 706.0,1642.0 702.4,1645.3 699.3,1647.4 692.4,1650.9 684.9,1654.0 676.7,1656.5 672.3,1657.5 665.6,1658.3 662.1,1658.2 655.3,1656.9 649.9,1654.5 646.6,1652.4 641.1,1648.1 634.6,1641.0 631.7,1636.0 630.8,1632.1 631.1,1630.1 632.0,1628.1 634.4,1625.3 640.6,1621.3ZM834.9,1557.9 840.2,1555.9 846.0,1554.4 854.2,1553.4 859.8,1553.8 863.9,1554.7 873.6,1558.7 881.7,1563.4 886.4,1566.9 890.3,1570.8 891.4,1573.1 891.5,1574.6 891.1,1576.0 889.0,1578.4 882.3,1582.4 877.0,1584.6 870.9,1586.4 862.2,1587.6 856.1,1587.2 853.2,1586.5 844.7,1583.2 838.7,1580.0 831.2,1574.8 827.2,1571.0 825.3,1568.1 824.9,1566.7 825.0,1565.2 826.2,1563.2 830.1,1560.2ZM709.0,1607.2 711.7,1605.5 717.7,1602.6 724.2,1600.2 731.3,1598.3 739.5,1597.4 743.4,1597.6 748.3,1598.5 755.6,1601.4 761.4,1604.9 766.4,1608.8 770.6,1613.0 772.5,1615.8 773.4,1618.0 773.6,1620.4 772.4,1623.3 770.4,1625.6 767.8,1627.5 761.9,1630.7 755.2,1633.4 747.8,1635.6 739.0,1636.7 734.7,1636.5 729.4,1635.4 725.3,1633.9 721.8,1632.1 716.0,1628.2 711.1,1624.1 707.3,1619.6 705.7,1616.7 705.1,1614.6 705.3,1612.2 706.8,1609.4ZM772.1,1574.3 774.4,1572.8 779.7,1570.1 785.5,1568.0 792.0,1566.3 799.5,1565.4 804.2,1565.6 808.6,1566.5 815.6,1569.1 821.5,1572.2 826.7,1575.7 831.2,1579.5 833.6,1582.5 834.4,1583.9 834.9,1586.4 834.1,1589.0 832.4,1591.0 830.2,1592.7 825.0,1595.5 819.0,1598.0 812.2,1599.9 804.2,1600.9 799.1,1600.7 794.5,1599.8 787.0,1596.8 781.1,1593.3 776.0,1589.6 771.8,1585.6 769.7,1582.6 769.1,1581.1 769.0,1578.7 770.2,1576.2Z" fill="#0fe1ef" fill-rule="evenodd"/>
<path d="M638.1,1623.4 641.2,1621.4 648.1,1618.2 655.3,1615.5 663.1,1613.4 671.8,1612.2 677.0,1612.4 682.2,1613.6 689.3,1616.8 695.0,1620.6 699.8,1624.9 703.7,1629.5 705.8,1633.7 706.0,1638.2 704.1,1641.6 701.5,1644.0 698.5,1646.1 691.7,1649.7 684.2,1652.8 675.9,1655.2 666.5,1656.7 660.9,1656.5 655.2,1655.1 651.2,1653.4 647.8,1651.4 642.2,1647.1 637.6,1642.5 634.2,1637.6 632.6,1633.3 632.4,1632.1 633.0,1628.9 635.3,1625.7ZM715.4,1605.2 725.0,1601.4 731.9,1599.7 736.2,1599.1 741.3,1599.0 746.1,1599.6 754.4,1602.5 760.3,1605.9 765.3,1609.8 769.3,1614.0 770.9,1616.6 771.8,1619.7 771.1,1622.9 769.2,1625.3 764.1,1629.1 754.4,1633.4 747.1,1635.4 742.5,1636.0 737.0,1636.2 731.8,1635.5 726.8,1634.0 723.1,1632.3 717.1,1628.5 712.3,1624.3 708.6,1619.9 707.3,1617.3 706.8,1614.2 707.9,1611.0 710.0,1608.7ZM775.2,1572.8 783.3,1568.9 793.7,1566.2 802.0,1565.7 807.2,1566.4 811.2,1567.5 817.7,1570.3 823.3,1573.6 828.1,1577.3 831.9,1581.4 833.0,1583.8 833.0,1586.7 831.3,1589.6 829.2,1591.4 821.2,1595.5 814.8,1597.7 810.4,1598.7 801.5,1599.3 796.0,1598.5 791.7,1597.2 788.1,1595.7 782.1,1592.3 777.0,1588.6 772.5,1584.0 770.6,1580.0 771.0,1577.2 773.1,1574.4ZM828.8,1562.6 835.6,1558.9 840.9,1556.9 846.8,1555.4 853.7,1554.6 858.5,1554.8 862.9,1555.7 869.8,1558.1 875.7,1561.0 881.0,1564.2 885.6,1567.7 888.7,1570.8 890.1,1574.1 889.5,1576.6 888.1,1578.4 886.2,1579.9 881.6,1582.5 876.2,1584.7 870.0,1586.4 862.6,1587.4 857.5,1587.2 852.8,1586.2 845.5,1583.4 839.5,1580.2 834.3,1576.8 829.9,1573.1 827.3,1570.0 826.3,1566.7 827.2,1564.3Z" fill="#23eed9" fill-rule="evenodd"/>
<path d="M641.9,1621.5 652.3,1616.8 659.8,1614.5 666.5,1613.1 675.4,1612.7 680.7,1613.6 684.8,1615.0 691.2,1618.5 696.5,1622.5 700.8,1627.0 703.9,1632.0 704.6,1635.0 703.9,1638.5 703.0,1640.0 700.7,1642.7 697.7,1644.8 687.4,1650.1 679.5,1652.8 672.3,1654.5 662.7,1655.0 656.9,1653.9 652.6,1652.3 646.0,1648.3 640.9,1643.9 636.9,1639.1 634.6,1634.9 634.0,1630.9 635.2,1627.5 638.9,1623.6ZM781.2,1570.0 790.3,1567.0 799.9,1565.8 805.7,1566.3 809.9,1567.3 818.6,1571.1 822.3,1573.4 827.1,1577.0 830.6,1581.3 831.5,1583.8 831.3,1585.8 830.1,1588.1 828.2,1590.0 823.2,1593.0 813.9,1596.4 810.3,1597.2 803.7,1597.8 795.5,1596.7 789.3,1594.6 786.0,1593.0 780.4,1589.5 775.9,1585.6 774.1,1583.5 772.4,1579.9 772.6,1576.8 774.1,1574.6 776.2,1572.8ZM831.6,1562.3 838.9,1558.8 844.5,1557.1 849.7,1556.1 857.0,1555.9 861.8,1556.6 865.7,1557.7 872.1,1560.4 877.7,1563.4 882.6,1566.8 886.8,1570.5 888.2,1572.7 888.6,1575.3 887.1,1578.4 885.3,1579.9 878.2,1583.7 872.4,1585.7 866.9,1586.8 859.1,1587.1 854.0,1586.3 849.9,1585.1 843.2,1582.1 837.6,1578.8 832.8,1575.3 829.6,1572.1 827.9,1569.2 827.8,1566.7 829.7,1563.8ZM711.1,1610.3 713.5,1608.3 719.2,1605.1 729.3,1601.8 738.8,1600.6 745.0,1601.0 748.0,1601.7 753.1,1603.6 759.3,1607.0 764.3,1610.9 766.4,1613.0 768.1,1615.3 769.8,1618.7 770.0,1620.7 769.6,1622.4 768.1,1625.1 765.8,1627.2 760.2,1630.6 753.5,1633.3 749.8,1634.4 745.8,1635.2 739.7,1635.8 733.1,1635.3 729.9,1634.5 724.5,1632.4 718.3,1628.7 713.4,1624.5 711.5,1622.2 709.9,1619.9 708.7,1616.4 708.7,1614.5 709.3,1612.8Z" fill="#37fcc3" fill-rule="evenodd"/>
<path d="M645.9,1619.9 656.6,1615.6 661.9,1614.2 668.9,1613.1 673.8,1612.9 679.2,1613.6 683.5,1614.9 687.1,1616.5 693.0,1620.3 697.7,1624.5 700.4,1627.7 702.6,1632.0 703.0,1635.0 701.8,1638.8 699.7,1641.2 693.8,1645.5 682.8,1650.3 677.1,1652.0 669.7,1653.2 664.4,1653.4 658.6,1652.7 654.0,1651.1 650.3,1649.3 644.4,1645.1 639.8,1640.5 637.5,1637.2 635.8,1632.8 635.7,1629.8 637.4,1626.1 639.7,1623.8ZM834.6,1562.0 842.3,1558.9 846.3,1557.9 851.9,1557.1 855.9,1557.0 860.7,1557.6 868.2,1559.8 874.2,1562.7 879.5,1565.9 882.7,1568.3 885.8,1571.5 887.0,1573.7 887.1,1576.5 886.1,1578.3 882.4,1581.4 874.6,1584.8 868.3,1586.4 864.6,1586.9 860.3,1587.0 855.2,1586.4 847.3,1583.9 841.1,1580.8 835.9,1577.3 832.9,1574.8 830.1,1571.5 829.1,1569.3 829.4,1566.6 830.6,1564.9ZM714.5,1609.7 717.2,1608.0 723.3,1605.2 730.2,1603.2 734.1,1602.5 738.4,1602.2 743.1,1602.4 750.3,1604.2 755.1,1606.4 760.7,1610.0 765.1,1614.2 766.8,1616.5 767.9,1619.1 768.1,1621.9 766.8,1624.8 764.7,1627.0 759.2,1630.5 752.5,1633.2 748.8,1634.2 740.2,1635.4 735.1,1635.2 730.0,1634.0 725.9,1632.5 719.5,1628.8 714.7,1624.7 712.8,1622.4 710.9,1619.0 710.5,1617.4 710.6,1614.6 712.2,1611.9ZM777.2,1572.8 779.5,1571.3 785.0,1568.8 794.8,1566.3 798.7,1566.0 803.4,1566.2 809.8,1567.5 815.7,1569.8 821.3,1573.1 826.0,1576.8 827.9,1578.9 829.3,1581.1 829.8,1584.1 828.9,1586.6 827.1,1588.6 824.8,1590.2 819.4,1593.0 812.9,1595.0 809.2,1595.7 805.0,1596.1 800.0,1596.0 793.2,1594.5 787.2,1591.9 781.5,1588.4 777.0,1584.5 775.3,1582.4 774.2,1580.1 773.9,1577.5 775.2,1574.7Z" fill="#5ffc95" fill-rule="evenodd"/>
<path d="M640.5,1624.1 643.4,1621.9 650.0,1618.3 661.2,1614.6 670.8,1613.3 674.9,1613.4 681.3,1614.6 685.8,1616.4 691.9,1620.1 696.7,1624.4 698.6,1626.7 700.2,1629.2 701.3,1632.6 701.2,1635.2 700.7,1636.8 698.8,1639.8 696.1,1642.1 689.6,1646.0 682.1,1649.0 677.9,1650.2 673.5,1651.2 667.7,1651.8 663.2,1651.7 656.4,1650.3 651.7,1648.2 645.5,1644.1 641.0,1639.5 639.2,1637.1 638.0,1634.5 637.2,1631.1 637.6,1628.5 638.3,1627.0ZM718.1,1609.4 721.0,1607.9 727.5,1605.5 735.1,1604.0 739.6,1603.8 745.1,1604.4 750.4,1606.0 753.4,1607.3 756.9,1609.3 761.9,1613.2 763.9,1615.3 765.4,1617.7 766.3,1620.4 765.8,1623.7 763.6,1626.8 761.1,1628.8 758.2,1630.4 751.6,1633.1 743.6,1634.8 737.5,1634.9 731.7,1634.0 727.4,1632.6 723.8,1630.9 718.2,1627.0 714.1,1622.6 712.8,1620.1 712.2,1617.4 713.0,1614.3 715.5,1611.3ZM780.4,1571.3 783.0,1569.9 788.9,1567.8 795.8,1566.4 800.0,1566.2 805.1,1566.6 812.7,1568.8 820.3,1572.8 824.9,1576.5 826.7,1578.7 827.8,1581.0 827.9,1583.9 826.0,1587.1 823.8,1588.9 821.3,1590.3 815.3,1592.7 808.1,1594.3 803.7,1594.5 798.3,1594.0 791.8,1592.3 788.3,1590.8 782.6,1587.3 778.2,1583.4 776.6,1581.2 775.7,1578.8 775.9,1576.1 778.2,1572.9ZM831.6,1566.1 833.3,1564.5 837.7,1561.9 846.0,1559.2 853.7,1558.2 859.4,1558.6 862.9,1559.3 867.3,1560.7 873.5,1563.6 881.1,1568.5 885.0,1572.9 885.8,1576.0 885.0,1578.2 883.4,1579.9 879.2,1582.7 870.7,1585.7 862.7,1586.8 856.6,1586.4 852.9,1585.6 848.3,1584.1 841.9,1581.0 834.5,1575.7 832.6,1573.8 831.0,1571.3 830.6,1568.2Z" fill="#8ff95f" fill-rule="evenodd"/>
<path d="M644.2,1622.1 647.3,1620.1 654.2,1617.0 661.9,1614.7 666.1,1614.0 670.8,1613.6 675.6,1613.8 683.2,1615.7 687.9,1618.1 693.3,1622.0 697.4,1626.6 698.9,1629.1 699.7,1632.0 699.5,1635.0 697.7,1638.2 695.2,1640.7 688.8,1644.6 681.3,1647.7 677.1,1648.8 672.7,1649.7 667.7,1650.2 662.0,1649.9 657.2,1648.8 653.0,1647.1 646.8,1643.1 642.2,1638.5 640.5,1636.0 639.0,1632.3 638.8,1630.5 639.4,1627.5 641.5,1624.4ZM786.7,1568.7 793.2,1567.0 797.0,1566.5 801.3,1566.5 805.7,1567.0 813.4,1569.4 819.3,1572.5 823.7,1576.3 825.3,1578.5 826.3,1581.0 826.1,1583.4 824.7,1585.6 822.7,1587.4 817.5,1590.3 810.8,1592.2 802.3,1592.8 797.7,1592.2 793.3,1591.1 789.6,1589.6 783.7,1586.2 779.5,1582.2 778.0,1580.0 777.3,1577.6 777.8,1575.2 779.3,1573.1 781.4,1571.4ZM834.2,1565.6 836.2,1564.2 841.1,1561.9 850.1,1559.7 858.1,1559.7 865.0,1561.2 869.6,1563.0 875.4,1566.0 880.2,1569.5 882.2,1571.4 883.7,1573.5 884.4,1575.7 883.8,1578.1 882.5,1579.9 878.3,1582.8 872.9,1584.9 869.8,1585.7 862.4,1586.6 858.0,1586.4 853.2,1585.5 849.2,1584.3 842.8,1581.2 835.4,1576.0 833.1,1573.2 832.3,1571.9 831.9,1569.6 832.7,1567.4ZM716.6,1612.9 721.9,1609.4 728.5,1606.9 732.2,1606.1 736.3,1605.6 741.0,1605.6 747.0,1606.7 752.5,1608.7 755.6,1610.4 760.6,1614.4 762.5,1616.6 763.9,1619.0 764.4,1621.9 764.0,1623.9 762.4,1626.5 760.0,1628.6 757.2,1630.3 750.5,1632.9 746.7,1633.9 742.4,1634.4 737.4,1634.4 731.0,1633.3 725.3,1631.0 722.2,1629.2 717.3,1625.0 715.6,1622.7 714.4,1620.2 714.2,1617.4 714.8,1615.4Z" fill="#bef528" fill-rule="evenodd"/>
<path d="M648.0,1620.3 651.4,1618.6 658.7,1615.9 667.0,1614.2 671.8,1613.9 677.4,1614.5 683.2,1616.3 685.7,1617.4 692.2,1621.9 696.2,1626.5 697.5,1629.1 698.1,1632.0 697.2,1635.6 694.2,1639.3 691.3,1641.5 688.0,1643.3 680.5,1646.3 671.7,1648.2 666.6,1648.5 660.6,1647.9 654.5,1645.9 650.9,1644.1 645.5,1639.8 641.8,1634.9 640.8,1632.2 640.5,1629.3 641.8,1625.8 645.0,1622.3ZM837.1,1565.3 839.3,1564.1 844.6,1562.1 851.1,1560.9 855.0,1560.8 860.0,1561.3 867.8,1563.5 874.6,1566.9 879.3,1570.4 881.2,1572.3 882.5,1574.5 882.8,1577.2 881.4,1579.9 879.6,1581.5 877.4,1582.8 872.0,1584.9 865.3,1586.3 859.6,1586.4 854.4,1585.6 850.3,1584.4 846.8,1583.0 840.9,1579.8 836.3,1576.2 834.7,1574.2 833.5,1572.0 833.5,1569.4 835.2,1566.8ZM720.2,1612.5 726.1,1609.6 729.5,1608.5 735.0,1607.5 742.5,1607.5 749.5,1609.4 754.2,1611.7 756.9,1613.5 759.2,1615.6 761.6,1618.9 762.2,1620.4 762.4,1623.4 761.0,1626.1 758.8,1628.3 752.9,1631.5 749.4,1632.7 743.7,1633.8 735.8,1633.8 728.4,1631.8 723.7,1629.3 721.0,1627.3 718.8,1625.2 716.6,1621.8 716.2,1620.2 716.2,1617.3 717.9,1614.6ZM782.5,1571.4 787.8,1568.8 790.9,1567.8 797.5,1566.7 803.9,1566.9 808.5,1567.9 812.1,1569.2 818.1,1572.3 820.5,1574.1 823.8,1578.0 824.5,1581.6 823.5,1584.0 821.6,1585.9 816.4,1588.8 809.6,1590.6 805.6,1591.1 800.7,1591.0 794.0,1589.6 787.7,1586.8 785.0,1585.0 780.8,1581.0 779.5,1578.8 779.1,1576.2 780.5,1573.2Z" fill="#daeb14" fill-rule="evenodd"/>
<path d="M645.9,1622.6 652.1,1618.7 659.4,1616.0 663.5,1615.0 667.9,1614.4 672.9,1614.4 677.3,1614.9 681.8,1616.2 688.4,1619.7 693.2,1624.0 694.9,1626.4 696.0,1629.1 696.3,1632.1 695.4,1634.9 693.2,1637.7 690.4,1640.0 687.2,1641.9 679.7,1644.9 675.4,1646.0 667.3,1646.8 659.0,1645.7 652.4,1642.9 649.3,1640.9 644.7,1636.3 643.2,1633.8 642.3,1631.1 642.3,1628.0 643.5,1625.3ZM727.1,1611.1 734.5,1609.4 738.9,1609.1 744.4,1609.7 749.4,1611.3 755.5,1614.8 757.8,1616.9 759.4,1619.2 760.4,1621.8 759.9,1625.1 757.5,1628.0 754.9,1629.9 751.8,1631.4 744.2,1633.3 738.5,1633.5 732.8,1632.6 728.6,1631.2 725.2,1629.4 722.5,1627.5 720.3,1625.3 718.8,1622.9 718.1,1619.6 719.2,1616.5 721.4,1614.2 724.0,1612.5ZM786.0,1570.0 791.9,1567.9 799.5,1566.9 806.9,1567.8 814.1,1570.4 819.2,1573.9 821.1,1576.0 822.4,1578.3 822.6,1579.6 822.0,1582.3 820.3,1584.4 818.0,1586.0 812.1,1588.4 808.4,1589.1 804.1,1589.4 796.4,1588.5 792.4,1587.2 789.0,1585.6 784.0,1581.9 782.2,1579.8 781.1,1577.5 781.3,1574.7 781.9,1573.5 783.7,1571.6ZM836.2,1568.1 840.2,1565.2 845.5,1563.2 848.6,1562.6 854.8,1562.1 861.7,1562.9 867.8,1564.9 870.9,1566.3 876.2,1569.5 878.4,1571.4 880.1,1573.4 881.3,1575.6 881.3,1577.7 880.3,1579.8 876.5,1582.8 871.1,1585.0 867.9,1585.7 861.4,1586.3 854.2,1585.4 847.8,1583.2 844.6,1581.7 839.4,1578.3 837.4,1576.4 835.8,1574.4 834.9,1572.1 835.0,1570.0Z" fill="#f5e100" fill-rule="evenodd"/>
<path d="M649.7,1620.7 656.5,1617.4 664.4,1615.3 668.3,1614.8 675.4,1615.0 680.3,1616.2 684.0,1617.8 687.1,1619.6 691.8,1623.9 693.5,1626.3 694.4,1628.7 694.1,1633.1 692.2,1636.2 689.5,1638.5 682.7,1642.1 674.5,1644.5 669.7,1645.1 664.2,1644.9 657.2,1643.3 650.7,1639.8 646.2,1635.2 644.7,1632.7 643.9,1629.9 644.3,1626.7 646.9,1622.9ZM839.0,1567.7 843.6,1565.3 849.6,1563.8 852.7,1563.4 858.8,1563.7 863.2,1564.6 866.8,1565.8 870.0,1567.2 875.2,1570.5 878.9,1574.1 879.9,1577.4 879.2,1579.7 877.6,1581.4 873.0,1584.0 866.8,1585.6 863.1,1586.0 858.4,1585.9 852.1,1584.6 845.7,1581.9 840.4,1578.5 838.4,1576.6 836.9,1574.5 836.3,1572.1 837.2,1569.3ZM722.6,1616.0 725.3,1614.2 728.3,1612.8 735.8,1611.1 743.2,1611.5 747.7,1612.7 751.1,1614.3 753.9,1616.1 756.1,1618.2 757.7,1620.6 758.2,1623.4 757.8,1625.0 756.2,1627.6 753.6,1629.5 750.5,1631.0 746.9,1632.1 742.9,1632.8 737.9,1632.8 730.4,1631.2 727.0,1629.5 724.2,1627.5 722.1,1625.3 720.6,1622.9 720.4,1620.1 720.8,1618.5ZM785.0,1571.8 787.2,1570.2 790.0,1568.9 796.7,1567.4 801.1,1567.3 805.2,1567.8 809.3,1568.9 815.5,1571.9 817.8,1573.8 819.6,1575.9 820.6,1578.3 820.4,1580.5 818.9,1582.7 816.7,1584.4 814.0,1585.7 807.0,1587.4 802.5,1587.5 798.2,1587.0 794.0,1585.8 787.7,1582.6 785.4,1580.7 783.8,1578.5 783.0,1576.1 783.4,1573.9Z" fill="#f9bf00" fill-rule="evenodd"/>
<path d="M653.8,1619.1 661.1,1616.4 665.3,1615.5 670.0,1615.1 675.5,1615.5 678.5,1616.2 682.6,1617.7 685.7,1619.5 690.5,1623.8 692.1,1626.3 692.8,1629.1 692.6,1631.2 691.0,1634.5 688.5,1637.0 685.3,1639.0 677.8,1642.0 673.5,1642.9 668.6,1643.3 662.8,1642.9 659.6,1642.1 655.4,1640.5 652.2,1638.6 649.6,1636.4 647.6,1634.1 646.2,1631.5 645.7,1628.6 646.6,1625.2 647.9,1623.4 650.6,1620.9ZM842.1,1567.6 847.4,1565.6 854.4,1564.8 862.0,1565.7 869.0,1568.2 874.3,1571.5 876.3,1573.4 877.8,1575.5 878.2,1577.0 877.9,1579.4 876.5,1581.3 874.5,1582.8 869.1,1584.9 861.8,1585.8 853.9,1584.8 846.7,1582.1 841.5,1578.7 839.5,1576.8 838.2,1574.6 837.9,1572.1 838.5,1570.7 840.0,1569.0ZM788.5,1570.4 794.4,1568.2 798.2,1567.7 803.1,1567.8 807.6,1568.8 811.2,1570.1 816.3,1573.6 817.9,1575.8 818.5,1578.5 817.4,1580.9 815.4,1582.7 812.7,1584.1 809.4,1585.1 805.5,1585.6 800.4,1585.5 795.7,1584.4 792.1,1583.0 789.2,1581.3 787.0,1579.4 785.5,1577.2 785.1,1574.4 786.4,1572.1ZM724.2,1618.0 726.6,1616.0 729.6,1614.5 733.1,1613.6 740.6,1613.2 745.6,1614.2 749.3,1615.7 752.2,1617.5 754.3,1619.6 755.6,1622.1 755.8,1624.1 754.5,1627.0 752.2,1629.1 749.2,1630.6 745.5,1631.7 741.2,1632.2 737.8,1632.1 732.6,1631.1 728.8,1629.5 726.0,1627.6 724.0,1625.3 722.8,1622.8 722.8,1620.9Z" fill="#fd9d00" fill-rule="evenodd"/>
<path d="M651.6,1621.3 654.7,1619.4 658.2,1617.8 666.3,1615.9 671.1,1615.6 676.7,1616.3 680.9,1617.7 684.2,1619.5 686.9,1621.5 689.0,1623.8 690.4,1626.3 691.0,1629.2 689.8,1632.7 687.3,1635.3 684.3,1637.4 680.8,1639.1 676.8,1640.4 672.4,1641.2 667.4,1641.6 661.5,1640.8 657.2,1639.2 653.8,1637.4 651.1,1635.2 649.2,1632.8 648.0,1630.2 647.6,1627.3 649.1,1623.8ZM841.1,1570.3 843.1,1568.9 845.6,1567.7 851.8,1566.4 855.7,1566.2 860.7,1566.8 864.6,1567.9 870.8,1570.8 875.1,1574.4 876.5,1576.6 876.5,1579.2 875.2,1581.1 873.3,1582.7 870.9,1583.9 864.5,1585.4 860.4,1585.6 855.3,1584.9 851.2,1583.7 845.0,1580.7 840.8,1576.9 839.6,1574.7 839.7,1572.2ZM728.2,1618.1 731.1,1616.6 736.7,1615.4 743.1,1615.8 747.2,1617.2 750.1,1619.0 752.2,1621.2 752.7,1622.4 753.1,1623.8 752.6,1626.2 750.5,1628.5 747.5,1630.0 741.8,1631.3 735.2,1630.8 731.1,1629.4 728.2,1627.5 726.2,1625.2 725.7,1624.0 725.4,1622.6 726.0,1620.3ZM788.1,1572.6 790.0,1570.8 792.7,1569.4 795.9,1568.6 800.4,1568.2 805.7,1568.8 809.4,1570.1 812.3,1571.7 814.5,1573.6 816.1,1576.1 815.6,1579.0 813.7,1580.9 811.1,1582.3 807.8,1583.2 803.2,1583.7 797.7,1582.9 793.9,1581.6 791.0,1579.9 788.9,1578.0 787.5,1575.4Z" fill="#fd7400" fill-rule="evenodd"/>
<path d="M652.7,1621.7 655.7,1619.7 659.2,1618.1 663.1,1617.0 667.4,1616.2 674.5,1616.5 679.2,1617.7 682.6,1619.5 685.3,1621.5 687.4,1623.8 688.7,1626.4 688.7,1629.5 688.3,1630.7 686.2,1633.7 683.2,1635.8 679.7,1637.5 675.8,1638.7 671.3,1639.6 665.9,1639.5 659.0,1637.9 655.5,1636.1 652.8,1634.0 650.9,1631.6 649.7,1628.9 649.9,1625.8 650.5,1624.6ZM842.3,1571.7 844.3,1570.2 846.7,1569.1 853.0,1567.7 859.1,1568.0 863.4,1569.0 869.6,1571.8 873.9,1575.5 874.8,1578.8 874.0,1581.0 872.1,1582.5 869.7,1583.7 863.3,1585.2 858.8,1585.1 852.5,1583.9 846.2,1580.8 843.8,1579.0 842.0,1577.1 841.3,1574.7ZM730.2,1620.5 733.0,1618.8 736.8,1618.0 739.6,1617.9 744.5,1619.0 747.6,1620.7 749.4,1623.0 749.8,1624.7 749.5,1626.0 748.4,1627.5 745.6,1629.2 741.8,1630.1 738.9,1630.1 733.9,1629.0 730.8,1627.2 729.0,1624.9 728.7,1623.2 729.0,1621.9ZM790.3,1573.4 791.8,1571.3 794.3,1569.9 797.7,1569.1 803.1,1569.1 807.3,1570.2 810.4,1571.7 812.5,1573.7 813.3,1576.7 811.9,1578.9 809.4,1580.4 805.9,1581.2 800.4,1581.2 796.1,1580.0 793.0,1578.4 791.0,1576.4Z" fill="#f94400" fill-rule="evenodd"/>
<path d="M654.0,1622.4 656.8,1620.1 660.2,1618.5 664.2,1617.4 668.7,1616.8 671.9,1616.9 677.1,1617.9 680.9,1619.5 683.7,1621.5 685.6,1623.8 686.6,1626.5 686.5,1628.5 684.8,1631.7 682.0,1634.1 678.6,1635.8 674.6,1637.0 669.9,1637.6 666.6,1637.5 661.1,1636.4 657.3,1634.7 654.5,1632.7 652.7,1630.2 651.9,1627.5 652.1,1625.5ZM843.8,1573.3 845.5,1571.6 847.8,1570.4 850.8,1569.6 857.1,1569.3 861.9,1570.2 865.5,1571.4 868.4,1572.9 870.7,1574.7 872.4,1576.8 872.9,1578.2 872.4,1580.6 870.8,1582.3 868.5,1583.6 865.4,1584.4 858.9,1584.7 854.1,1583.9 850.4,1582.6 847.4,1581.0 845.1,1579.2 843.6,1577.1 843.2,1575.6ZM796.5,1570.7 800.2,1570.0 804.5,1570.5 807.9,1572.0 809.6,1574.1 809.4,1576.4 807.1,1578.1 803.4,1578.7 799.0,1578.2 795.6,1576.7 793.9,1574.6 794.2,1572.3ZM733.3,1623.8 735.8,1621.8 740.3,1621.3 743.9,1622.9 745.2,1625.6 742.7,1627.6 738.1,1628.1 734.6,1626.5Z" fill="#f51400" fill-rule="evenodd"/>
<path d="M658.1,1620.7 661.5,1619.1 665.5,1618.0 668.2,1617.7 674.8,1618.2 678.8,1619.7 681.7,1621.6 683.5,1624.0 684.1,1625.6 684.2,1626.8 683.2,1629.7 680.7,1632.1 677.3,1633.9 673.2,1635.1 670.4,1635.4 663.6,1634.9 659.5,1633.3 656.7,1631.2 654.9,1628.8 654.4,1627.1 654.3,1625.9 655.5,1623.1ZM846.9,1573.2 849.3,1572.0 854.5,1571.0 860.2,1571.4 864.0,1572.6 867.0,1574.1 869.2,1575.9 870.2,1577.1 870.7,1578.0 870.7,1580.1 869.3,1582.0 867.0,1583.3 861.7,1584.3 855.8,1583.8 851.9,1582.6 848.9,1581.0 846.7,1579.2 845.8,1577.9 845.4,1577.0 845.5,1575.0ZM801.8,1573.6 801.8,1573.6Z" fill="#da0a00" fill-rule="evenodd"/>
<path d="M659.7,1621.6 662.9,1619.8 667.1,1618.8 671.8,1618.7 676.3,1620.0 679.4,1621.9 681.0,1624.3 681.3,1627.2 679.0,1630.0 675.8,1631.8 671.6,1632.9 666.4,1633.0 662.1,1631.6 659.0,1629.7 657.4,1627.2 657.4,1624.1ZM848.7,1574.9 850.9,1573.6 854.1,1572.9 858.0,1572.9 862.2,1573.9 865.3,1575.4 867.4,1577.2 868.5,1579.4 867.4,1581.4 865.3,1582.8 862.1,1583.5 858.1,1583.6 853.8,1582.5 850.7,1581.0 848.6,1579.1 847.6,1576.8Z" fill="#be0000" fill-rule="evenodd"/>
<path d="M661.8,1623.0 664.8,1620.9 669.2,1620.2 672.9,1620.6 676.4,1622.4 677.6,1625.0 676.8,1627.3 673.9,1629.4 669.4,1630.1 665.6,1629.6 662.0,1627.9 660.9,1625.2ZM851.1,1577.1 853.0,1575.6 856.5,1575.1 859.7,1575.5 863.2,1576.8 865.0,1578.8 865.0,1580.5 863.2,1582.1 859.6,1582.6 856.3,1582.2 852.8,1580.8 851.1,1578.8Z" fill="#930000" fill-rule="evenodd"/>
<path d="M682.6,1220.0C684.2,1218.6 688.8,1215.9 693.2,1214.8C697.6,1213.6 704.1,1213.0 709.0,1212.9C713.8,1212.8 718.2,1213.0 722.1,1214.0C726.1,1214.9 728.3,1216.2 732.7,1218.7C737.1,1221.3 743.2,1225.5 748.5,1229.2C753.8,1233.0 759.0,1237.1 764.3,1241.1C769.6,1245.1 774.8,1249.0 780.1,1253.0C785.4,1256.9 790.6,1260.4 795.9,1264.8C801.2,1269.2 806.9,1274.7 811.7,1279.3C816.5,1283.9 820.5,1287.9 824.9,1292.5C829.3,1297.1 834.1,1302.1 838.1,1307.0C842.0,1311.8 845.3,1316.4 848.6,1321.4C851.9,1326.5 856.7,1334.3 857.8,1337.3C858.9,1340.2 857.2,1341.1 855.2,1339.4C853.2,1337.6 849.3,1331.0 846.0,1326.7C842.7,1322.4 839.4,1318.2 835.4,1313.5C831.5,1308.9 826.6,1303.7 822.3,1299.1C817.9,1294.4 813.9,1290.3 809.1,1285.9C804.3,1281.5 798.5,1276.9 793.3,1272.7C788.0,1268.5 782.7,1264.8 777.5,1260.9C772.2,1256.9 766.9,1252.7 761.7,1249.0C756.4,1245.3 751.1,1241.8 745.9,1238.5C740.6,1235.2 735.3,1231.7 730.1,1229.2C724.8,1226.7 719.5,1224.5 714.2,1223.5C709.0,1222.4 703.5,1222.7 698.4,1222.7C693.4,1222.7 686.6,1223.9 684.0,1223.5C681.3,1223.0 681.1,1221.5 682.6,1220.0Z" fill="url(#r13)" />
<path d="M628.9,1234.4C630.1,1233.0 634.0,1231.5 637.0,1230.4C640.0,1229.3 643.8,1228.5 647.1,1228.0C650.5,1227.5 654.2,1227.0 657.3,1227.4C660.3,1227.8 662.7,1229.4 665.4,1230.4C668.1,1231.4 670.8,1232.7 673.5,1233.4C676.2,1234.2 678.9,1234.0 681.6,1234.9C684.3,1235.7 687.0,1236.9 689.7,1238.5C692.4,1240.1 695.1,1242.4 697.8,1244.6C700.5,1246.8 703.2,1249.3 705.9,1251.7C708.6,1254.0 712.6,1257.9 714.0,1258.8C715.4,1259.6 712.4,1255.9 714.2,1256.9C716.0,1257.9 721.7,1261.7 724.8,1264.8C727.9,1267.9 730.1,1272.1 732.7,1275.3C735.3,1278.6 737.5,1281.1 740.6,1284.6C743.7,1288.1 748.1,1292.9 751.1,1296.4C754.2,1299.9 756.4,1302.3 759.0,1305.6C761.7,1308.9 763.9,1312.2 766.9,1316.2C770.0,1320.1 774.0,1324.5 777.5,1329.4C781.0,1334.2 784.7,1339.7 788.0,1345.2C791.3,1350.6 796.1,1359.2 797.2,1362.3C798.3,1365.4 796.6,1365.6 794.6,1363.6C792.6,1361.6 788.7,1355.0 785.4,1350.4C782.1,1345.8 778.3,1340.8 774.8,1335.9C771.3,1331.1 766.9,1324.5 764.3,1321.4C761.7,1318.4 760.3,1319.7 759.0,1317.5C757.7,1315.3 758.2,1311.1 756.4,1308.3C754.6,1305.4 751.6,1303.0 748.5,1300.4C745.4,1297.7 740.6,1293.3 738.0,1292.5C735.3,1291.6 734.0,1295.8 732.7,1295.1C731.4,1294.4 732.2,1290.3 730.1,1288.5C727.9,1286.8 721.5,1287.0 719.5,1284.6C717.5,1282.2 720.0,1277.3 718.2,1274.0C716.4,1270.7 711.0,1268.0 709.0,1264.8C706.9,1261.6 707.8,1257.4 705.9,1254.7C704.0,1252.0 700.2,1249.8 697.8,1248.6C695.4,1247.5 693.4,1246.9 691.7,1247.6C690.0,1248.3 688.2,1250.5 687.7,1252.7C687.2,1254.9 689.3,1259.8 688.7,1260.8C688.0,1261.8 685.5,1260.1 683.6,1258.8C681.7,1257.4 678.9,1254.9 677.5,1252.7C676.2,1250.5 676.3,1247.8 675.5,1245.6C674.7,1243.4 674.2,1241.0 672.5,1239.5C670.8,1238.0 667.6,1237.0 665.4,1236.5C663.2,1235.9 661.0,1235.4 659.3,1236.1C657.6,1236.7 656.6,1240.0 655.2,1240.5C653.9,1241.1 652.9,1240.0 651.2,1239.5C649.5,1239.0 647.5,1237.7 645.1,1237.5C642.7,1237.3 639.5,1238.3 637.0,1238.5C634.5,1238.7 631.3,1239.6 629.9,1238.9C628.6,1238.2 627.7,1235.9 628.9,1234.4Z" fill="url(#r12)" />
<path d="M569.8,1249.0C571.1,1247.5 575.3,1245.4 579.0,1244.5C582.8,1243.6 587.8,1243.4 592.2,1243.7C596.6,1244.0 601.0,1244.6 605.4,1246.4C609.8,1248.1 614.2,1251.2 618.5,1254.3C622.9,1257.3 627.3,1261.1 631.7,1264.8C636.1,1268.5 640.5,1272.3 644.9,1276.7C649.3,1281.1 653.7,1286.1 658.1,1291.2C662.5,1296.2 666.8,1301.5 671.2,1307.0C675.6,1312.4 680.0,1318.4 684.4,1324.1C688.8,1329.8 693.2,1335.5 697.6,1341.2C702.0,1346.9 706.8,1352.8 710.7,1358.3C714.7,1363.8 718.0,1369.1 721.3,1374.1C724.6,1379.2 729.2,1385.8 730.5,1388.6C731.8,1391.5 731.2,1392.8 729.2,1391.3C727.2,1389.7 722.2,1384.0 718.7,1379.4C715.1,1374.8 712.1,1369.1 708.1,1363.6C704.2,1358.1 699.3,1352.2 694.9,1346.5C690.6,1340.8 686.2,1334.8 681.8,1329.4C677.4,1323.9 673.0,1318.6 668.6,1313.5C664.2,1308.5 659.8,1303.7 655.4,1299.1C651.0,1294.4 646.6,1290.1 642.3,1285.9C637.9,1281.7 633.5,1277.7 629.1,1274.0C624.7,1270.4 620.3,1266.9 615.9,1264.0C611.5,1261.2 607.1,1258.7 602.7,1256.9C598.3,1255.2 593.5,1254.1 589.6,1253.5C585.6,1252.9 582.1,1253.5 579.0,1253.5C576.0,1253.5 572.7,1254.2 571.1,1253.5C569.6,1252.7 568.5,1250.5 569.8,1249.0Z" fill="url(#r11)" />
<path d="M204.0,1489.2C205.7,1491.0 218.2,1498.7 226.3,1505.1C234.5,1511.4 243.9,1520.0 252.7,1527.4C261.5,1534.9 270.2,1542.6 279.0,1549.8C287.8,1557.1 296.6,1564.1 305.4,1570.9C314.2,1577.7 322.9,1584.1 331.7,1590.7C340.5,1597.3 351.3,1605.6 358.1,1610.4C364.9,1615.3 370.8,1619.2 372.6,1619.6C374.3,1620.1 371.0,1616.6 368.6,1613.1C366.2,1609.5 361.1,1603.0 358.1,1598.6C355.0,1594.2 352.8,1590.7 350.2,1586.7C347.5,1582.8 344.9,1578.4 342.3,1574.9C339.6,1571.4 337.0,1568.9 334.4,1565.6C331.7,1562.3 329.1,1558.6 326.4,1555.1C323.8,1551.6 321.2,1548.1 318.5,1544.6C315.9,1541.1 313.7,1537.3 310.6,1534.0C307.6,1530.7 303.6,1527.7 300.1,1524.8C296.6,1522.0 293.1,1519.8 289.6,1516.9C286.1,1514.1 282.5,1509.7 279.0,1507.7C275.5,1505.7 272.9,1506.2 268.5,1505.1C264.1,1504.0 258.0,1502.2 252.7,1501.1C247.4,1500.0 243.0,1499.6 236.9,1498.5C230.7,1497.4 221.3,1496.1 215.8,1494.5C210.3,1493.0 202.2,1487.5 204.0,1489.2Z" fill="url(#r22f)"/>
<path d="M234.2,1509.0C234.5,1506.6 240.4,1504.0 243.5,1503.7C246.5,1503.5 250.8,1505.7 252.7,1507.7C254.6,1509.7 255.2,1513.0 254.8,1515.6C254.4,1518.2 252.2,1523.1 250.1,1523.5C247.9,1523.9 244.8,1520.6 242.1,1518.2C239.5,1515.8 234.0,1511.4 234.2,1509.0Z" fill="url(#h21)"/>
<path d="M265.9,1531.4C265.9,1528.3 268.5,1524.2 271.1,1522.2C273.8,1520.2 278.2,1518.9 281.7,1519.5C285.2,1520.2 289.2,1523.1 292.2,1526.1C295.2,1529.2 299.4,1532.9 299.6,1538.0C299.8,1543.0 296.5,1554.4 293.5,1556.4C290.5,1558.4 285.4,1552.5 281.7,1549.8C277.9,1547.2 273.8,1543.7 271.1,1540.6C268.5,1537.5 265.9,1534.5 265.9,1531.4Z" fill="url(#h22)"/>
<path d="M308.0,1565.6C308.0,1563.6 310.9,1560.7 313.3,1559.8C315.7,1559.0 319.5,1558.3 322.5,1560.4C325.5,1562.4 329.8,1568.1 331.2,1572.2C332.6,1576.4 332.6,1584.3 330.9,1585.4C329.3,1586.5 324.1,1581.0 321.2,1578.8C318.2,1576.6 315.5,1574.4 313.3,1572.2C311.1,1570.0 308.0,1567.7 308.0,1565.6Z" fill="url(#h23)"/>
<path d="M204.0,1489.2C207.7,1491.9 218.2,1498.7 226.3,1505.1C234.5,1511.4 243.9,1520.0 252.7,1527.4C261.5,1534.9 270.2,1542.6 279.0,1549.8C287.8,1557.1 296.6,1564.1 305.4,1570.9C314.2,1577.7 322.9,1584.1 331.7,1590.7C340.5,1597.3 351.3,1605.6 358.1,1610.4C364.9,1615.3 370.1,1618.1 372.6,1619.6" fill="none" stroke="#0c1a5a" stroke-width="2.6"/>
<path d="M259.3,1477.4C260.8,1478.1 265.2,1481.1 268.5,1484.0C271.8,1486.8 275.5,1490.8 279.0,1494.5C282.5,1498.2 286.1,1502.6 289.6,1506.4C293.1,1510.1 296.6,1513.6 300.1,1516.9C303.6,1520.2 306.7,1523.3 310.6,1526.1C314.6,1529.0 319.4,1531.4 323.8,1534.0C328.2,1536.7 332.2,1539.1 337.0,1541.9C341.8,1544.8 347.5,1548.1 352.8,1551.2C358.1,1554.2 363.3,1557.3 368.6,1560.4C373.9,1563.4 379.1,1566.7 384.4,1569.6C389.7,1572.4 394.9,1574.9 400.2,1577.5C405.5,1580.1 410.7,1583.0 416.0,1585.4C421.3,1587.8 429.4,1590.2 431.8,1592.0C434.2,1593.7 433.1,1595.9 430.5,1595.9C427.9,1595.9 421.1,1593.5 416.0,1592.0C411.0,1590.4 405.5,1588.7 400.2,1586.7C394.9,1584.7 389.7,1582.5 384.4,1580.1C379.1,1577.7 373.9,1575.1 368.6,1572.2C363.3,1569.4 358.1,1566.1 352.8,1563.0C347.5,1559.9 342.3,1557.1 337.0,1553.8C331.7,1550.5 325.6,1546.1 321.2,1543.3C316.8,1540.4 314.2,1539.5 310.6,1536.7C307.1,1533.8 303.6,1529.6 300.1,1526.1C296.6,1522.6 293.1,1519.3 289.6,1515.6C286.1,1511.9 282.5,1507.7 279.0,1503.7C275.5,1499.8 271.8,1495.8 268.5,1491.9C265.2,1487.9 260.8,1482.4 259.3,1480.0C257.7,1477.6 257.7,1476.7 259.3,1477.4Z" fill="url(#r23)" />
<path d="M144.3,1503.7C145.6,1502.9 148.7,1501.3 152.2,1501.1C155.7,1500.9 161.0,1501.3 165.4,1502.4C169.8,1503.5 174.2,1505.3 178.5,1507.7C182.9,1510.1 187.3,1513.4 191.7,1516.9C196.1,1520.4 200.5,1524.8 204.9,1528.8C209.3,1532.7 213.7,1536.4 218.1,1540.6C222.5,1544.8 226.8,1549.2 231.2,1553.8C235.6,1558.4 240.0,1563.2 244.4,1568.3C248.8,1573.3 253.2,1578.6 257.6,1584.1C262.0,1589.6 266.4,1595.5 270.7,1601.2C275.1,1606.9 279.5,1612.8 283.9,1618.3C288.3,1623.8 293.6,1630.0 297.1,1634.1C300.6,1638.3 304.1,1641.4 305.0,1643.4C305.9,1645.3 304.6,1647.5 302.4,1646.0C300.2,1644.5 295.3,1638.3 291.8,1634.1C288.3,1630.0 285.2,1625.8 281.3,1621.0C277.3,1616.1 272.5,1610.4 268.1,1605.2C263.7,1599.9 259.3,1594.6 254.9,1589.4C250.6,1584.1 246.2,1578.6 241.8,1573.5C237.4,1568.5 233.0,1563.7 228.6,1559.1C224.2,1554.4 219.8,1550.1 215.4,1545.9C211.0,1541.7 206.6,1537.8 202.3,1534.0C197.9,1530.3 193.5,1526.7 189.1,1523.5C184.7,1520.3 180.3,1517.5 175.9,1515.1C171.5,1512.6 167.1,1510.3 162.7,1509.0C158.3,1507.7 152.6,1507.6 149.6,1507.2C146.5,1506.7 145.2,1506.9 144.3,1506.4C143.4,1505.8 143.0,1504.6 144.3,1503.7Z" fill="url(#r21)" />
<path d="M683.7,1476.9C686.0,1479.0 693.4,1484.5 698.4,1487.5C703.4,1490.5 708.6,1492.6 713.9,1495.1C719.1,1497.5 724.4,1499.8 729.7,1502.4C735.0,1505.0 741.1,1507.1 745.8,1510.6C750.4,1514.1 753.6,1519.5 757.8,1523.5C762.1,1527.6 766.1,1531.8 771.1,1534.8C776.1,1537.8 782.0,1538.5 787.8,1541.5C793.7,1544.5 800.8,1548.7 806.4,1552.8C812.0,1556.9 816.3,1561.9 821.3,1565.9C826.3,1569.8 832.3,1573.3 836.6,1576.7C841.0,1580.0 844.1,1583.2 847.5,1586.1C850.8,1589.0 855.0,1592.9 856.8,1594.0C858.6,1595.0 859.2,1594.6 858.3,1592.7C857.5,1590.7 854.6,1585.7 851.9,1582.0C849.1,1578.3 846.1,1574.1 841.6,1570.4C837.2,1566.8 830.8,1563.6 825.4,1560.2C819.9,1556.7 814.5,1553.3 808.7,1549.5C802.8,1545.7 795.9,1540.7 790.3,1537.1C784.8,1533.6 780.1,1531.2 775.4,1528.0C770.8,1524.9 766.9,1521.6 762.4,1518.2C757.8,1514.8 753.1,1510.9 748.1,1507.4C743.1,1503.9 737.8,1500.3 732.6,1497.1C727.3,1494.0 722.1,1491.0 716.8,1488.7C711.5,1486.4 706.0,1485.3 700.6,1483.1C695.3,1480.8 687.6,1476.2 684.8,1475.2C681.9,1474.2 681.4,1474.9 683.7,1476.9Z" fill="url(#r33)" />
<path d="M630.0,1491.5C632.7,1493.1 641.7,1496.9 646.5,1499.4C651.3,1502.0 655.1,1503.8 658.8,1506.6C662.4,1509.5 666.9,1514.9 668.4,1516.5C669.9,1518.0 665.9,1514.7 667.8,1515.8C669.6,1516.9 675.1,1521.7 679.5,1523.2C683.8,1524.7 689.2,1523.7 693.6,1524.6C698.1,1525.5 702.2,1526.7 706.2,1528.9C710.1,1531.1 714.6,1534.5 717.3,1537.8C720.0,1541.1 719.9,1544.8 722.3,1548.7C724.6,1552.7 728.3,1558.2 731.6,1561.3C734.9,1564.5 738.9,1564.8 742.0,1567.6C745.2,1570.4 746.9,1574.4 750.4,1577.9C754.0,1581.5 759.0,1585.3 763.4,1589.0C767.8,1592.7 772.8,1596.5 776.8,1600.3C780.8,1604.1 784.3,1608.4 787.6,1611.7C790.8,1615.1 794.5,1619.1 796.2,1620.3C797.9,1621.5 798.7,1620.9 797.7,1619.0C796.8,1617.1 793.5,1612.8 790.6,1609.1C787.7,1605.4 784.2,1600.9 780.3,1596.8C776.4,1592.7 771.7,1588.2 767.3,1584.4C762.9,1580.7 757.4,1577.9 754.0,1574.4C750.5,1571.0 748.7,1567.1 746.6,1563.7C744.4,1560.3 743.2,1558.0 741.2,1554.1C739.2,1550.3 737.6,1544.4 734.7,1540.4C731.8,1536.4 728.2,1533.1 723.9,1530.3C719.5,1527.4 713.5,1525.1 708.6,1523.4C703.8,1521.6 699.2,1521.0 694.9,1519.8C690.5,1518.5 686.3,1517.9 682.7,1515.9C679.1,1513.8 674.8,1508.6 673.3,1507.5C671.9,1506.4 675.8,1510.6 674.1,1509.4C672.3,1508.3 666.9,1503.3 662.6,1500.8C658.4,1498.4 653.8,1496.7 648.5,1494.9C643.2,1493.0 633.8,1490.2 630.8,1489.6C627.7,1489.1 627.4,1489.9 630.0,1491.5Z" fill="url(#r32)" />
<path d="M571.0,1507.1C573.2,1509.8 580.0,1517.0 585.4,1521.5C590.9,1526.1 597.8,1530.5 603.5,1534.3C609.1,1538.1 613.9,1540.1 619.3,1544.2C624.6,1548.4 631.2,1554.2 635.5,1559.1C639.8,1563.9 640.8,1568.7 645.0,1573.4C649.3,1578.1 654.7,1583.0 661.0,1587.3C667.3,1591.7 676.8,1595.0 683.0,1599.3C689.1,1603.6 692.8,1608.1 697.8,1613.0C702.9,1617.9 708.0,1622.9 713.4,1628.5C718.7,1634.1 726.7,1643.8 729.7,1646.6C732.7,1649.4 733.1,1649.2 731.3,1645.4C729.5,1641.6 723.5,1630.2 718.7,1624.0C713.9,1617.7 708.0,1612.6 702.6,1607.8C697.1,1603.1 692.0,1599.7 685.9,1595.2C679.7,1590.7 671.6,1585.3 665.7,1580.8C659.7,1576.4 654.5,1572.5 650.0,1568.4C645.5,1564.4 642.9,1561.2 638.5,1556.4C634.0,1551.6 628.3,1544.3 623.1,1539.6C617.9,1535.0 613.1,1532.1 607.3,1528.5C601.5,1524.8 594.3,1521.3 588.4,1517.5C582.6,1513.7 575.2,1507.3 572.3,1505.6C569.4,1503.9 568.8,1504.5 571.0,1507.1Z" fill="url(#r31)" />
<rect x="729.7" y="1701.5" width="253.8" height="11" fill="url(#jetg)"/>
<g class="tm" font-size="44" fill="#000">
<text x="731" y="1754">0</text>
<text x="891" y="1754" textLength="87" lengthAdjust="spacingAndGlyphs">max.</text>
</g>
<g class="cm" font-size="40"><text x="21.3" y="1811.5" textLength="44.6" lengthAdjust="spacingAndGlyphs">(e)</text><text x="83.6" y="1811.5" textLength="179.8" lengthAdjust="spacingAndGlyphs">Optimized</text><text x="283.7" y="1811.5" textLength="108.9" lengthAdjust="spacingAndGlyphs">design</text><text x="405.3" y="1811.5" textLength="58.2" lengthAdjust="spacingAndGlyphs">and</text><text x="478.7" y="1811.5" textLength="74.3" lengthAdjust="spacingAndGlyphs">first</text><text x="566.5" y="1811.5" textLength="87.1" lengthAdjust="spacingAndGlyphs">three</text><text x="671.3" y="1811.5" textLength="141.0" lengthAdjust="spacingAndGlyphs">buckling</text><text x="832.4" y="1811.5" textLength="118.3" lengthAdjust="spacingAndGlyphs">modes,</text></g>
<g class="cm">
<text font-size="42" x="183.0" y="1856.8" textLength="23.5" lengthAdjust="spacingAndGlyphs">λ</text>
<text font-size="26" x="208.0" y="1862.3" textLength="14" lengthAdjust="spacingAndGlyphs">1</text>
<text font-size="47" x="223.3" y="1862.8" textLength="18.5" lengthAdjust="spacingAndGlyphs">/</text>
<text font-size="42" x="246.7" y="1856.8" textLength="23.5" lengthAdjust="spacingAndGlyphs">λ</text>
<text font-size="26" x="272.5" y="1868.3" textLength="14" lengthAdjust="spacingAndGlyphs">1</text>
<text font-size="26" x="274.0" y="1844.3" textLength="35" lengthAdjust="spacingAndGlyphs">ref</text>
<text font-size="42" x="368.3" y="1856.8" textLength="23.5" lengthAdjust="spacingAndGlyphs">λ</text>
<text font-size="26" x="393.3" y="1862.3" textLength="14" lengthAdjust="spacingAndGlyphs">2</text>
<text font-size="47" x="408.6" y="1862.8" textLength="18.5" lengthAdjust="spacingAndGlyphs">/</text>
<text font-size="42" x="432.0" y="1856.8" textLength="23.5" lengthAdjust="spacingAndGlyphs">λ</text>
<text font-size="26" x="457.8" y="1868.3" textLength="14" lengthAdjust="spacingAndGlyphs">1</text>
<text font-size="26" x="459.3" y="1844.3" textLength="35" lengthAdjust="spacingAndGlyphs">ref</text>
<text font-size="42" x="553.6" y="1856.8" textLength="23.5" lengthAdjust="spacingAndGlyphs">λ</text>
<text font-size="26" x="578.6" y="1862.3" textLength="14" lengthAdjust="spacingAndGlyphs">3</text>
<text font-size="47" x="593.9" y="1862.8" textLength="18.5" lengthAdjust="spacingAndGlyphs">/</text>
<text font-size="42" x="617.3" y="1856.8" textLength="23.5" lengthAdjust="spacingAndGlyphs">λ</text>
<text font-size="26" x="643.1" y="1868.3" textLength="14" lengthAdjust="spacingAndGlyphs">1</text>
<text font-size="26" x="644.6" y="1844.3" textLength="35" lengthAdjust="spacingAndGlyphs">ref</text>
<text font-size="40" x="316.5" y="1858.3" textLength="37" lengthAdjust="spacingAndGlyphs">=</text>
<text font-size="40" x="504.5" y="1858.3" textLength="37" lengthAdjust="spacingAndGlyphs">=</text>
<text font-size="40" x="694.9" y="1858.3" textLength="37" lengthAdjust="spacingAndGlyphs">=</text>
<text font-size="40" x="740" y="1856.8" textLength="71" lengthAdjust="spacingAndGlyphs">0.93</text>
</g>
</svg>
</body></html>
